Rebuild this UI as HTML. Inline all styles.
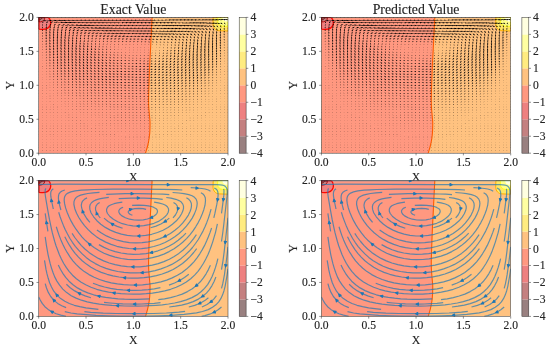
<!DOCTYPE html><html><head><meta charset="utf-8"><title>Exact vs Predicted</title><style>html,body{margin:0;padding:0;background:#fff}svg{display:block}text{font-family:"Liberation Serif", serif;fill:#222;stroke:#222;stroke-width:.12px}</style></head><body><svg width="550" height="349" viewBox="0 0 550 349"><rect width="550" height="349" fill="#fff"/><defs><clipPath id="cp"><rect x="38.7" y="17.4" width="189.3" height="135.8"/></clipPath><g id="cf"><rect x="38.7" y="17.4" width="189.3" height="135.8" fill="#ffc280"/><path fill="#ff9880" d="M152.1 17.4C152 20 151.6 27.6 151.3 33C151 38.4 150.8 44.2 150.5 50C150.2 55.8 149.8 62.3 149.6 68C149.3 73.7 149.2 79.2 149 84C148.8 88.8 148.7 93.3 148.6 97C148.5 100.7 148.6 103 148.7 106C148.8 109 149.2 112.3 149.4 115C149.6 117.7 149.9 119.5 150 122C150.1 124.5 150 127.3 149.9 130C149.8 132.7 149.6 135.3 149.2 138C148.8 140.7 148.2 143.5 147.6 146C147 148.5 145.8 152 145.5 153.2L38.7 153.2L38.7 17.4z"/><path fill="none" stroke="#ff5a00" stroke-width="1.1" d="M152.1 17.4C152 20 151.6 27.6 151.3 33C151 38.4 150.8 44.2 150.5 50C150.2 55.8 149.8 62.3 149.6 68C149.3 73.7 149.2 79.2 149 84C148.8 88.8 148.7 93.3 148.6 97C148.5 100.7 148.6 103 148.7 106C148.8 109 149.2 112.3 149.4 115C149.6 117.7 149.9 119.5 150 122C150.1 124.5 150 127.3 149.9 130C149.8 132.7 149.6 135.3 149.2 138C148.8 140.7 148.2 143.5 147.6 146C147 148.5 145.8 152 145.5 153.2"/><path d="M38.7 17.4L48.4 17.4C50.4 19 51 22 50.4 24.5C49.5 27.6 46 29.5 42 29.4L38.7 29.1z" fill="#ee8080" stroke="#ff0700" stroke-width="1.3"/><path d="M38.7 17.4L44.6 17.4C45 19.2 44 20.6 42.6 21.3C41.4 21.9 40 22 38.7 21.9z" fill="#c48080" stroke="#b20000" stroke-width=".9"/><path d="M38.7 17.4L42 17.4C42 18.4 41.3 19.2 40.4 19.5C39.8 19.7 39.2 19.7 38.7 19.6z" fill="#998080" stroke="#5e0000" stroke-width=".7"/><path d="M38.7 29V17.4H48.2" fill="none" stroke="#e00000" stroke-width="1.3"/><path d="M38.7 22V17.4H45" fill="none" stroke="#900000" stroke-width="1.6"/><path d="M228 17.4L213.2 17.4L213 24C213.2 28 215.6 30.5 219.2 30.7L228 31z" fill="#ffe766" stroke="#ffae00" stroke-width="1"/><path d="M228 17.4L217.8 17.4L217.6 21C217.8 24.2 219.8 26 222.6 26.2L228 26.4z" fill="#ffff8a" stroke="#ffff04" stroke-width=".8"/><path d="M228 17.4L222 17.4C222 19.8 223.4 21.6 225.6 21.9L228 22z" fill="#ffffe0" stroke="#ffff82" stroke-width=".9"/></g><path id="qv" fill="#000" d="M38.52 153.02h.37v.37h-.37zM42.3 153.02h.37v.37h-.37zM46.09 153.02h.37v.37h-.37zM49.88 153.02h.37v.37h-.37zM53.66 153.02h.37v.37h-.37zM57.45 153.02h.37v.37h-.37zM61.23 153.02h.37v.37h-.37zM65.02 153.02h.37v.37h-.37zM68.81 153.02h.37v.37h-.37zM72.59 153.02h.37v.37h-.37zM76.38 153.02h.37v.37h-.37zM80.16 153.02h.37v.37h-.37zM83.95 153.02h.37v.37h-.37zM87.74 153.02h.37v.37h-.37zM91.52 153.02h.37v.37h-.37zM95.31 153.02h.37v.37h-.37zM99.09 153.02h.37v.37h-.37zM102.88 153.02h.37v.37h-.37zM106.67 153.02h.37v.37h-.37zM110.45 153.02h.37v.37h-.37zM114.24 153.02h.37v.37h-.37zM118.02 153.02h.37v.37h-.37zM121.81 153.02h.37v.37h-.37zM125.6 153.02h.37v.37h-.37zM129.38 153.02h.37v.37h-.37zM133.17 153.02h.37v.37h-.37zM136.95 153.02h.37v.37h-.37zM140.74 153.02h.37v.37h-.37zM144.53 153.02h.37v.37h-.37zM148.31 153.02h.37v.37h-.37zM152.1 153.02h.37v.37h-.37zM155.88 153.02h.37v.37h-.37zM159.67 153.02h.37v.37h-.37zM163.46 153.02h.37v.37h-.37zM167.24 153.02h.37v.37h-.37zM171.03 153.02h.37v.37h-.37zM174.81 153.02h.37v.37h-.37zM178.6 153.02h.37v.37h-.37zM182.39 153.02h.37v.37h-.37zM186.17 153.02h.37v.37h-.37zM189.96 153.02h.37v.37h-.37zM193.74 153.02h.37v.37h-.37zM197.53 153.02h.37v.37h-.37zM201.32 153.02h.37v.37h-.37zM205.1 153.02h.37v.37h-.37zM208.89 153.02h.37v.37h-.37zM212.67 153.02h.37v.37h-.37zM216.46 153.02h.37v.37h-.37zM220.25 153.02h.37v.37h-.37zM224.03 153.02h.37v.37h-.37zM227.82 153.02h.37v.37h-.37zM38.52 150.3h.37v.37h-.37zM42.31 150.31h.35v.35h-.35zM46.09 150.3h.36v.36h-.36zM49.88 150.3h.36v.36h-.36zM53.66 150.3h.37v.37h-.37zM57.45 150.3h.36v.36h-.36zM61.24 150.3h.36v.36h-.36zM65.03 150.31h.35v.35h-.35zM68.81 150.31h.36v.36h-.36zM72.59 150.3h.36v.36h-.36zM76.38 150.3h.36v.36h-.36zM80.16 150.3h.36v.36h-.36zM83.95 150.3h.36v.36h-.36zM87.74 150.3h.36v.36h-.36zM91.52 150.3h.36v.36h-.36zM95.31 150.3h.36v.36h-.36zM99.09 150.3h.36v.36h-.36zM102.88 150.3h.37v.37h-.37zM106.67 150.3h.37v.37h-.37zM110.45 150.3h.37v.37h-.37zM114.24 150.3h.37v.37h-.37zM118.02 150.3h.37v.37h-.37zM121.81 150.3h.37v.37h-.37zM125.6 150.3h.37v.37h-.37zM129.38 150.3h.37v.37h-.37zM133.17 150.3h.37v.37h-.37zM136.95 150.3h.37v.37h-.37zM140.74 150.3h.37v.37h-.37zM144.53 150.3h.37v.37h-.37zM148.31 150.3h.37v.37h-.37zM152.1 150.3h.37v.37h-.37zM155.88 150.3h.37v.37h-.37zM159.67 150.3h.37v.37h-.37zM163.46 150.3h.37v.37h-.37zM167.24 150.3h.37v.37h-.37zM171.03 150.3h.36v.36h-.36zM174.81 150.3h.36v.36h-.36zM178.6 150.3h.36v.36h-.36zM182.39 150.3h.36v.36h-.36zM186.17 150.3h.36v.36h-.36zM189.96 150.3h.36v.36h-.36zM193.75 150.3h.36v.36h-.36zM197.53 150.31h.36v.36h-.36zM201.32 150.31h.35v.35h-.35zM205.1 150.3h.36v.36h-.36zM208.89 150.3h.36v.36h-.36zM212.67 150.3h.36v.36h-.36zM216.46 150.3h.36v.36h-.36zM220.25 150.3h.36v.36h-.36zM224.04 150.31h.35v.35h-.35zM227.82 150.3h.37v.37h-.37zM38.52 147.59h.37v.37h-.37zM42.3 147.59h.36v.36h-.36zM46.09 147.59h.35v.35h-.35zM49.88 147.59h.36v.36h-.36zM53.66 147.59h.36v.36h-.36zM57.45 147.59h.37v.37h-.37zM61.23 147.59h.36v.36h-.36zM65.02 147.59h.36v.36h-.36zM68.81 147.59h.36v.36h-.36zM72.6 147.59h.35v.35h-.35zM76.38 147.59h.36v.36h-.36zM80.17 147.59h.36v.36h-.36zM83.95 147.59h.36v.36h-.36zM87.74 147.59h.36v.36h-.36zM91.52 147.59h.36v.36h-.36zM95.31 147.59h.36v.36h-.36zM99.09 147.59h.36v.36h-.36zM102.88 147.59h.36v.36h-.36zM106.67 147.59h.36v.36h-.36zM110.45 147.59h.37v.37h-.37zM114.24 147.59h.37v.37h-.37zM118.02 147.59h.37v.37h-.37zM121.81 147.59h.37v.37h-.37zM125.6 147.59h.37v.37h-.37zM129.38 147.59h.37v.37h-.37zM133.17 147.59h.37v.37h-.37zM136.95 147.59h.37v.37h-.37zM140.74 147.59h.37v.37h-.37zM144.53 147.59h.37v.37h-.37zM148.31 147.59h.37v.37h-.37zM152.1 147.59h.37v.37h-.37zM155.88 147.59h.37v.37h-.37zM159.67 147.59h.36v.36h-.36zM163.46 147.59h.36v.36h-.36zM167.24 147.59h.36v.36h-.36zM171.03 147.59h.36v.36h-.36zM174.81 147.59h.36v.36h-.36zM178.6 147.59h.36v.36h-.36zM182.39 147.59h.36v.36h-.36zM186.17 147.59h.36v.36h-.36zM189.96 147.59h.36v.36h-.36zM193.75 147.59h.35v.35h-.35zM197.53 147.59h.36v.36h-.36zM201.32 147.59h.36v.36h-.36zM205.1 147.59h.36v.36h-.36zM208.89 147.59h.37v.37h-.37zM212.67 147.59h.36v.36h-.36zM216.46 147.59h.36v.36h-.36zM220.25 147.59h.35v.35h-.35zM224.03 147.59h.36v.36h-.36zM227.82 147.59h.37v.37h-.37zM38.52 144.87h.37v.37h-.37zM42.31 144.87h.36v.36h-.36zM46.09 144.87h.36v.36h-.36zM49.88 144.88h.35v.35h-.35zM53.66 144.87h.36v.36h-.36zM57.45 144.87h.36v.36h-.36zM61.23 144.87h.37v.37h-.37zM65.02 144.87h.36v.36h-.36zM68.81 144.87h.36v.36h-.36zM72.59 144.87h.36v.36h-.36zM76.38 144.87h.36v.36h-.36zM80.17 144.88h.35v.35h-.35zM83.95 144.87h.36v.36h-.36zM87.74 144.87h.36v.36h-.36zM91.52 144.87h.36v.36h-.36zM95.31 144.87h.36v.36h-.36zM99.09 144.87h.36v.36h-.36zM102.88 144.87h.36v.36h-.36zM106.67 144.87h.36v.36h-.36zM110.45 144.87h.36v.36h-.36zM114.24 144.87h.36v.36h-.36zM118.02 144.87h.37v.37h-.37zM121.81 144.87h.37v.37h-.37zM125.6 144.87h.37v.37h-.37zM129.38 144.87h.37v.37h-.37zM133.17 144.87h.37v.37h-.37zM136.95 144.87h.37v.37h-.37zM140.74 144.87h.37v.37h-.37zM144.53 144.87h.37v.37h-.37zM148.31 144.87h.37v.37h-.37zM152.1 144.87h.37v.37h-.37zM155.88 144.87h.36v.36h-.36zM159.67 144.87h.36v.36h-.36zM163.46 144.87h.36v.36h-.36zM167.24 144.87h.36v.36h-.36zM171.03 144.87h.36v.36h-.36zM174.82 144.87h.36v.36h-.36zM178.6 144.87h.36v.36h-.36zM182.39 144.87h.36v.36h-.36zM186.18 144.88h.35v.35h-.35zM189.96 144.87h.36v.36h-.36zM193.75 144.87h.36v.36h-.36zM197.53 144.87h.36v.36h-.36zM201.32 144.87h.36v.36h-.36zM205.1 144.87h.37v.37h-.37zM208.89 144.87h.36v.36h-.36zM212.68 144.87h.36v.36h-.36zM216.47 144.88h.35v.35h-.35zM220.25 144.87h.36v.36h-.36zM224.03 144.87h.36v.36h-.36zM227.82 144.87h.37v.37h-.37zM38.52 142.15h.37v.37h-.37zM42.3 142.15h.37v.37h-.37zM46.09 142.15h.37v.37h-.37zM49.88 142.16h.36v.36h-.36zM53.67 142.16h.35v.35h-.35zM57.45 142.16h.36v.36h-.36zM61.23 142.15h.36v.36h-.36zM65.02 142.15h.37v.37h-.37zM68.81 142.15h.37v.37h-.37zM72.59 142.15h.36v.36h-.36zM76.38 142.16h.36v.36h-.36zM80.17 142.16h.36v.36h-.36zM83.95 142.16h.36v.36h-.36zM87.74 142.16h.35v.35h-.35zM91.53 142.16h.36v.36h-.36zM95.31 142.16h.36v.36h-.36zM99.1 142.16h.36v.36h-.36zM102.88 142.16h.36v.36h-.36zM106.67 142.15h.36v.36h-.36zM110.45 142.15h.36v.36h-.36zM114.24 142.15h.36v.36h-.36zM118.02 142.15h.36v.36h-.36zM121.81 142.15h.37v.37h-.37zM125.6 142.15h.37v.37h-.37zM129.38 142.15h.37v.37h-.37zM133.17 142.15h.37v.37h-.37zM136.95 142.15h.37v.37h-.37zM140.74 142.15h.37v.37h-.37zM144.53 142.15h.37v.37h-.37zM148.31 142.15h.36v.36h-.36zM152.1 142.15h.36v.36h-.36zM155.88 142.15h.36v.36h-.36zM159.67 142.15h.36v.36h-.36zM163.46 142.16h.36v.36h-.36zM167.24 142.16h.36v.36h-.36zM171.03 142.16h.36v.36h-.36zM174.82 142.16h.36v.36h-.36zM178.6 142.16h.35v.35h-.35zM182.39 142.16h.36v.36h-.36zM186.17 142.16h.36v.36h-.36zM189.96 142.16h.36v.36h-.36zM193.74 142.15h.36v.36h-.36zM197.53 142.15h.37v.37h-.37zM201.32 142.15h.37v.37h-.37zM205.1 142.15h.36v.36h-.36zM208.89 142.16h.36v.36h-.36zM212.68 142.16h.35v.35h-.35zM216.46 142.16h.36v.36h-.36zM220.25 142.15h.37v.37h-.37zM224.03 142.15h.36v.36h-.36zM227.82 142.15h.37v.37h-.37zM38.52 139.44h.37v.37h-.37zM42.3 139.44h.36v.36h-.36zM46.09 139.44h.37v.37h-.37zM49.88 139.44h.36v.36h-.36zM53.66 139.44h.36v.36h-.36zM57.45 139.44h.35v.35h-.35zM61.24 139.44h.36v.36h-.36zM65.02 139.44h.36v.36h-.36zM68.81 139.44h.37v.37h-.37zM72.59 139.44h.37v.37h-.37zM76.38 139.44h.36v.36h-.36zM80.16 139.44h.36v.36h-.36zM83.95 139.44h.36v.36h-.36zM87.74 139.44h.36v.36h-.36zM91.53 139.44h.35v.35h-.35zM95.31 139.44h.36v.36h-.36zM99.1 139.44h.36v.36h-.36zM102.88 139.44h.36v.36h-.36zM106.67 139.44h.36v.36h-.36zM110.45 139.44h.36v.36h-.36zM114.24 139.44h.36v.36h-.36zM117.93 139.43h.38v.38h-.38zM121.71 139.43h.38v.38h-.38zM125.49 139.43h.39v.39h-.39zM129.27 139.43h.39v.39h-.39zM133.06 139.43h.39v.39h-.39zM136.84 139.43h.39v.39h-.39zM140.63 139.44h.39v.39h-.39zM144.42 139.44h.39v.39h-.39zM148.21 139.45h.38v.38h-.38zM152.1 139.44h.36v.36h-.36zM155.88 139.44h.36v.36h-.36zM159.67 139.44h.36v.36h-.36zM163.46 139.44h.36v.36h-.36zM167.24 139.44h.36v.36h-.36zM171.03 139.44h.36v.36h-.36zM174.82 139.44h.35v.35h-.35zM178.6 139.44h.36v.36h-.36zM182.39 139.44h.36v.36h-.36zM186.17 139.44h.36v.36h-.36zM189.96 139.44h.36v.36h-.36zM193.74 139.44h.37v.37h-.37zM197.53 139.44h.37v.37h-.37zM201.32 139.44h.36v.36h-.36zM205.1 139.44h.36v.36h-.36zM208.89 139.44h.35v.35h-.35zM212.68 139.44h.36v.36h-.36zM216.46 139.44h.36v.36h-.36zM220.25 139.44h.37v.37h-.37zM224.03 139.44h.36v.36h-.36zM227.82 139.44h.37v.37h-.37zM38.52 136.72h.37v.37h-.37zM42.31 136.72h.36v.36h-.36zM46.09 136.72h.36v.36h-.36zM49.88 136.72h.37v.37h-.37zM53.66 136.72h.36v.36h-.36zM57.45 136.72h.36v.36h-.36zM61.24 136.73h.35v.35h-.35zM65.02 136.72h.36v.36h-.36zM68.81 136.72h.36v.36h-.36zM72.59 136.72h.37v.37h-.37zM76.38 136.72h.37v.37h-.37zM80.16 136.72h.36v.36h-.36zM83.95 136.72h.36v.36h-.36zM87.74 136.72h.36v.36h-.36zM91.53 136.73h.36v.36h-.36zM95.31 136.73h.35v.35h-.35zM99.1 136.73h.36v.36h-.36zM102.88 136.73h.36v.36h-.36zM106.56 136.7h.4v.4h-.4zM110.33 136.69h.41v.41h-.41zM114.1 136.69h.43v.43h-.43zM117.88 136.68h.44v.44h-.44zM121.66 136.68h.44v.44h-.44zM125.44 136.68h.45v.45h-.45zM129.23 136.68h.45v.45h-.45zM133.01 136.69h.45v.45h-.45zM136.8 136.69h.45v.45h-.45zM140.59 136.69h.45v.45h-.45zM144.38 136.7h.45v.45h-.45zM148.17 136.7h.44v.44h-.44zM151.96 136.71h.43v.43h-.43zM155.76 136.72h.42v.42h-.42zM159.56 136.73h.4v.4h-.4zM163.36 136.74h.38v.38h-.38zM167.25 136.73h.36v.36h-.36zM171.03 136.73h.35v.35h-.35zM174.82 136.73h.36v.36h-.36zM178.6 136.72h.36v.36h-.36zM182.39 136.72h.36v.36h-.36zM186.17 136.72h.36v.36h-.36zM189.96 136.72h.37v.37h-.37zM193.74 136.72h.37v.37h-.37zM197.53 136.72h.36v.36h-.36zM201.32 136.72h.36v.36h-.36zM205.11 136.73h.35v.35h-.35zM208.89 136.72h.36v.36h-.36zM212.67 136.72h.36v.36h-.36zM216.46 136.72h.37v.37h-.37zM220.25 136.72h.36v.36h-.36zM224.03 136.72h.36v.36h-.36zM227.82 136.72h.37v.37h-.37zM38.52 134.01h.37v.37h-.37zM42.31 134.01h.35v.35h-.35zM46.09 134.01h.36v.36h-.36zM49.88 134.01h.37v.37h-.37zM53.66 134.01h.37v.37h-.37zM57.45 134.01h.36v.36h-.36zM61.24 134.01h.36v.36h-.36zM65.02 134.01h.36v.36h-.36zM68.81 134.01h.36v.36h-.36zM72.59 134.01h.36v.36h-.36zM76.38 134.01h.37v.37h-.37zM80.16 134.01h.37v.37h-.37zM83.95 134.01h.36v.36h-.36zM87.74 134.01h.36v.36h-.36zM91.52 134.01h.36v.36h-.36zM95.31 134.01h.36v.36h-.36zM98.98 133.97h.41v.41h-.41zM102.75 133.96h.43v.43h-.43zM106.52 133.95h.45v.45h-.45zM110.29 133.94h.47v.47h-.47zM114.06 133.94h.48v.48h-.48zM118.2 134.25l-.06-.01l.05 .13l-.58-.25l.62-.11l-.08 .11l.06 .01zM121.99 134.25l-.06-.01l.05 .13l-.6-.23l.63-.13l-.07 .11l.06 .01zM125.77 134.25l-.06 0l.06 .12l-.61-.22l.63-.15l-.07 .12l.06 .01zM129.56 134.25l-.06 0l.06 .13l-.62-.21l.63-.17l-.07 .12l.07 .01zM133.35 134.25l-.06 0l.06 .13l-.63-.19l.63-.19l-.06 .12l.06 .01zM137.14 134.25l-.07 0l.07 .13l-.63-.18l.62-.2l-.06 .13l.06 0zM140.93 134.25l-.07 0l.07 .12l-.63-.15l.61-.22l-.05 .13l.06 0zM144.71 134.25l-.06 0l.07 .12l-.62-.13l.59-.24l-.05 .13l.06 0zM148.5 134.25l-.06 0l.07 .12l-.61-.12l.57-.24l-.04 .12l.06 0zM152.29 134.25l-.06 0l.07 .11l-.6-.09l.56-.26l-.05 .13l.06-.01zM155.72 133.98h.47v.47h-.47zM159.52 133.99h.46v.46h-.46zM163.32 134h.44v.44h-.44zM167.13 134.02h.41v.41h-.41zM170.93 134.03h.39v.39h-.39zM174.82 134.01h.36v.36h-.36zM178.6 134.01h.36v.36h-.36zM182.39 134.01h.36v.36h-.36zM186.17 134.01h.37v.37h-.37zM189.96 134.01h.37v.37h-.37zM193.74 134.01h.36v.36h-.36zM197.53 134.01h.36v.36h-.36zM201.32 134.01h.36v.36h-.36zM205.1 134.01h.36v.36h-.36zM208.89 134.01h.36v.36h-.36zM212.67 134.01h.37v.37h-.37zM216.46 134.01h.37v.37h-.37zM220.25 134.01h.36v.36h-.36zM224.04 134.01h.35v.35h-.35zM227.82 134.01h.37v.37h-.37zM38.52 131.29h.37v.37h-.37zM42.31 131.29h.36v.36h-.36zM46.09 131.29h.36v.36h-.36zM49.88 131.29h.36v.36h-.36zM53.66 131.29h.37v.37h-.37zM57.45 131.29h.36v.36h-.36zM61.24 131.29h.36v.36h-.36zM65.02 131.29h.36v.36h-.36zM68.81 131.29h.36v.36h-.36zM72.59 131.29h.36v.36h-.36zM76.38 131.29h.36v.36h-.36zM80.16 131.29h.37v.37h-.37zM83.95 131.29h.37v.37h-.37zM87.74 131.29h.36v.36h-.36zM91.41 131.24h.4v.4h-.4zM95.18 131.23h.43v.43h-.43zM98.94 131.22h.46v.46h-.46zM102.71 131.21h.48v.48h-.48zM106.83 131.53l-.05-.01l.03 .13l-.55-.32l.63-.03l-.09 .1l.06 .01zM110.62 131.53l-.06-.01l.04 .14l-.58-.31l.65-.06l-.08 .11l.06 .01zM114.41 131.54l-.06-.01l.04 .13l-.61-.29l.67-.09l-.08 .12l.06 .01zM118.2 131.54l-.07-.01l.05 .14l-.63-.28l.68-.11l-.08 .12l.06 .01zM121.99 131.54l-.07-.01l.05 .14l-.65-.26l.69-.14l-.08 .13l.07 0zM125.77 131.54l-.07 0l.06 .14l-.67-.25l.7-.16l-.08 .13l.07 0zM129.56 131.54l-.07 0l.07 .14l-.69-.23l.7-.19l-.07 .14l.07 0zM133.35 131.54l-.07 0l.07 .14l-.7-.21l.7-.21l-.07 .14l.07 0zM137.14 131.54l-.07 0l.07 .14l-.7-.19l.69-.23l-.07 .14l.07 0zM140.93 131.54l-.07 0l.07 .14l-.7-.17l.68-.24l-.06 .14l.07-.01zM144.71 131.54l-.06 .01l.08 .13l-.7-.15l.66-.26l-.06 .14l.07-.01zM148.5 131.54l-.06 .01l.08 .12l-.69-.12l.64-.28l-.05 .14l.07 0zM152.29 131.54l-.06 .01l.08 .11l-.67-.09l.61-.29l-.04 .14l.06-.01zM156.08 131.53l-.06 .02l.08 .11l-.65-.07l.58-.3l-.04 .13l.06-.01zM159.87 131.53l-.06 .01l.08 .11l-.63-.04l.55-.32l-.03 .14l.06-.02zM163.65 131.53l-.05 .01l.08 .1l-.6-.01l.51-.33l-.02 .13l.05-.01zM167.09 131.28h.46v.46h-.46zM170.9 131.3h.44v.44h-.44zM174.71 131.31h.41v.41h-.41zM178.6 131.29h.36v.36h-.36zM182.39 131.29h.37v.37h-.37zM186.17 131.29h.37v.37h-.37zM189.96 131.29h.36v.36h-.36zM193.75 131.29h.36v.36h-.36zM197.53 131.29h.36v.36h-.36zM201.32 131.29h.36v.36h-.36zM205.1 131.29h.36v.36h-.36zM208.89 131.29h.36v.36h-.36zM212.67 131.29h.37v.37h-.37zM216.46 131.29h.36v.36h-.36zM220.25 131.29h.36v.36h-.36zM224.04 131.29h.36v.36h-.36zM227.82 131.29h.37v.37h-.37zM38.52 128.57h.37v.37h-.37zM42.31 128.58h.36v.36h-.36zM46.1 128.58h.35v.35h-.35zM49.88 128.58h.36v.36h-.36zM53.66 128.57h.36v.36h-.36zM57.45 128.57h.37v.37h-.37zM61.23 128.57h.36v.36h-.36zM65.02 128.58h.36v.36h-.36zM68.81 128.58h.35v.35h-.35zM72.59 128.58h.36v.36h-.36zM76.38 128.57h.36v.36h-.36zM80.16 128.57h.36v.36h-.36zM83.86 128.53h.38v.38h-.38zM87.62 128.51h.41v.41h-.41zM91.38 128.5h.45v.45h-.45zM95.14 128.48h.48v.48h-.48zM99.26 128.81l-.06-.02l.01 .14l-.5-.38l.63 .04l-.1 .09l.06 .02zM103.04 128.82l-.06-.02l.03 .14l-.55-.37l.66 0l-.1 .11l.06 .02zM106.83 128.82l-.06-.02l.03 .15l-.59-.36l.69-.03l-.1 .12l.06 .01zM110.62 128.82l-.07-.01l.04 .15l-.63-.35l.72-.05l-.1 .11l.07 .02zM114.41 128.83l-.07-.02l.04 .15l-.66-.33l.74-.08l-.1 .12l.07 .02zM118.2 128.83l-.08-.01l.05 .15l-.68-.32l.75-.11l-.1 .13l.08 .01zM121.98 128.83l-.07-.01l.06 .16l-.71-.31l.76-.13l-.09 .13l.07 .01zM125.77 128.83l-.07 0l.06 .15l-.73-.28l.76-.17l-.08 .15l.07 0zM129.56 128.83l-.07 0l.06 .15l-.74-.25l.76-.2l-.08 .15l.08 0zM133.35 128.83l-.08 0l.08 .15l-.76-.23l.76-.22l-.08 .15l.08 0zM137.14 128.83l-.08 0l.08 .15l-.76-.2l.75-.25l-.07 .15l.07 0zM140.93 128.83l-.08 .01l.09 .14l-.77-.18l.74-.27l-.07 .16l.08-.01zM144.72 128.83l-.08 .01l.09 .14l-.76-.15l.72-.3l-.06 .16l.07-.01zM148.5 128.83l-.07 .01l.09 .13l-.75-.11l.69-.32l-.05 .15l.07-.01zM152.29 128.83l-.07 .01l.1 .13l-.74-.09l.66-.34l-.04 .16l.07-.01zM156.08 128.82l-.07 .02l.1 .12l-.72-.06l.63-.35l-.04 .15l.07-.01zM159.87 128.82l-.07 .02l.1 .11l-.7-.03l.6-.36l-.03 .15l.07-.02zM163.66 128.82l-.06 .02l.09 .1l-.67 0l.56-.37l-.02 .14l.06-.02zM167.44 128.81l-.05 .02l.1 .1l-.64 .03l.51-.38l-.01 .14l.05-.02zM171.23 128.81l-.05 .02l.1 .09l-.61 .06l.47-.39l-.01 .13l.06-.02zM174.67 128.58h.45v.45h-.45zM178.49 128.6h.42v.42h-.42zM182.3 128.62h.38v.38h-.38zM186.17 128.57h.36v.36h-.36zM189.96 128.58h.36v.36h-.36zM193.75 128.58h.36v.36h-.36zM197.53 128.58h.35v.35h-.35zM201.32 128.58h.36v.36h-.36zM205.1 128.57h.36v.36h-.36zM208.89 128.57h.37v.37h-.37zM212.67 128.57h.36v.36h-.36zM216.46 128.58h.36v.36h-.36zM220.25 128.58h.35v.35h-.35zM224.03 128.58h.36v.36h-.36zM227.82 128.57h.37v.37h-.37zM38.52 125.86h.37v.37h-.37zM42.31 125.86h.36v.36h-.36zM46.09 125.86h.36v.36h-.36zM49.88 125.86h.36v.36h-.36zM53.66 125.86h.36v.36h-.36zM57.45 125.86h.37v.37h-.37zM61.23 125.86h.37v.37h-.37zM65.02 125.86h.36v.36h-.36zM68.81 125.86h.36v.36h-.36zM72.6 125.86h.35v.35h-.35zM76.38 125.86h.36v.36h-.36zM80.08 125.8h.38v.38h-.38zM83.83 125.78h.42v.42h-.42zM87.59 125.76h.46v.46h-.46zM91.68 126.09l-.06-.02l0 .13l-.44-.43l.61 .11l-.11 .08l.05 .03zM95.46 126.1l-.05-.03l0 .14l-.49-.43l.65 .09l-.11 .09l.06 .02zM99.25 126.1l-.06-.02l.01 .15l-.54-.43l.69 .05l-.11 .1l.06 .03zM103.04 126.11l-.07-.03l.02 .16l-.59-.42l.73 .02l-.11 .11l.06 .02zM106.83 126.11l-.07-.02l.03 .16l-.64-.41l.76-.01l-.11 .12l.07 .02zM110.62 126.11l-.08-.02l.04 .17l-.67-.4l.78-.04l-.11 .13l.07 .02zM114.4 126.12l-.07-.02l.04 .17l-.71-.38l.81-.08l-.11 .14l.08 .01zM118.19 126.12l-.07-.01l.05 .16l-.74-.36l.81-.1l-.1 .14l.08 .01zM121.98 126.12l-.08-.01l.06 .17l-.77-.34l.83-.14l-.1 .15l.08 .01zM125.77 126.12l-.08-.01l.07 .17l-.79-.31l.83-.17l-.1 .15l.08 .01zM129.56 126.12l-.08 0l.07 .17l-.81-.29l.84-.21l-.09 .16l.08 .01zM133.35 126.12l-.08 0l.08 .17l-.83-.26l.83-.24l-.08 .17l.08 0zM137.14 126.12l-.08 0l.08 .17l-.83-.22l.82-.28l-.08 .17l.08 0zM140.93 126.12l-.08 .01l.09 .16l-.83-.19l.79-.31l-.07 .17l.09 0zM144.72 126.12l-.08 .01l.09 .15l-.83-.15l.78-.33l-.06 .17l.08-.01zM148.51 126.12l-.08 .01l.1 .15l-.82-.12l.75-.36l-.06 .17l.08-.01zM152.29 126.12l-.07 .01l.1 .14l-.81-.08l.73-.38l-.05 .17l.08-.02zM156.08 126.11l-.07 .02l.11 .13l-.79-.04l.68-.4l-.04 .16l.08-.01zM159.87 126.11l-.07 .02l.11 .12l-.76-.01l.64-.41l-.03 .16l.07-.02zM163.66 126.11l-.07 .02l.12 .11l-.74 .03l.6-.43l-.02 .16l.07-.03zM167.45 126.1l-.06 .03l.11 .1l-.71 .06l.56-.44l-.01 .15l.06-.02zM171.24 126.1l-.06 .02l.11 .1l-.67 .08l.51-.44l0 .15l.05-.03zM175.02 126.09l-.05 .03l.11 .08l-.62 .12l.45-.44l0 .13l.06-.02zM178.46 125.87h.46v.46h-.46zM182.27 125.89h.42v.42h-.42zM186.09 125.91h.38v.38h-.38zM189.96 125.86h.36v.36h-.36zM193.75 125.86h.35v.35h-.35zM197.53 125.86h.36v.36h-.36zM201.32 125.86h.36v.36h-.36zM205.1 125.86h.37v.37h-.37zM208.89 125.86h.37v.37h-.37zM212.67 125.86h.36v.36h-.36zM216.46 125.86h.36v.36h-.36zM220.25 125.86h.36v.36h-.36zM224.03 125.86h.36v.36h-.36zM227.82 125.86h.37v.37h-.37zM38.52 123.14h.37v.37h-.37zM42.31 123.14h.36v.36h-.36zM46.09 123.15h.36v.36h-.36zM49.88 123.15h.36v.36h-.36zM53.66 123.14h.36v.36h-.36zM57.45 123.14h.36v.36h-.36zM61.23 123.14h.37v.37h-.37zM65.02 123.14h.36v.36h-.36zM68.81 123.14h.36v.36h-.36zM72.6 123.15h.36v.36h-.36zM76.3 123.08h.37v.37h-.37zM80.05 123.06h.42v.42h-.42zM83.8 123.03h.46v.46h-.46zM87.88 123.38l-.05-.04l-.01 .14l-.42-.49l.62 .18l-.12 .07l.05 .03zM91.67 123.38l-.06-.03l0 .15l-.48-.5l.67 .15l-.12 .08l.06 .04zM95.46 123.39l-.06-.03l0 .15l-.53-.49l.71 .12l-.12 .09l.06 .03zM99.25 123.39l-.07-.03l.01 .16l-.58-.48l.75 .08l-.12 .11l.06 .03zM103.04 123.4l-.08-.03l.02 .17l-.63-.48l.79 .05l-.12 .12l.07 .02zM106.82 123.4l-.07-.02l.03 .17l-.68-.47l.82 .02l-.12 .13l.07 .02zM110.61 123.4l-.08-.02l.04 .18l-.72-.45l.85-.02l-.12 .13l.08 .03zM114.4 123.41l-.08-.02l.05 .18l-.76-.43l.86-.06l-.11 .14l.08 .02zM118.19 123.41l-.08-.02l.05 .19l-.79-.4l.88-.11l-.11 .16l.08 .01zM121.98 123.41l-.09-.01l.07 .18l-.83-.37l.9-.14l-.11 .16l.08 .01zM125.77 123.41l-.09-.01l.07 .19l-.85-.35l.9-.18l-.1 .17l.09 .01zM129.56 123.41l-.09 0l.08 .18l-.87-.31l.9-.22l-.1 .17l.09 .01zM133.35 123.41l-.09 0l.09 .18l-.89-.27l.89-.26l-.09 .17l.09 .01zM137.14 123.41l-.09 .01l.1 .17l-.9-.24l.88-.29l-.09 .18l.09 0zM140.93 123.41l-.09 .01l.1 .17l-.9-.2l.86-.33l-.07 .18l.09 0zM144.72 123.41l-.09 .01l.11 .16l-.9-.15l.84-.37l-.07 .19l.09-.01zM148.51 123.41l-.09 .01l.12 .16l-.9-.12l.81-.39l-.05 .18l.08-.01zM152.3 123.41l-.09 .01l.12 .15l-.88-.07l.78-.42l-.05 .18l.08-.02zM156.09 123.4l-.08 .02l.12 .14l-.86-.03l.73-.45l-.03 .18l.08-.02zM159.88 123.4l-.08 .02l.12 .13l-.83 .01l.69-.47l-.03 .18l.08-.02zM163.66 123.4l-.07 .02l.13 .12l-.81 .05l.65-.48l-.02 .17l.07-.03zM167.45 123.39l-.07 .03l.13 .11l-.77 .08l.6-.49l-.01 .16l.07-.02zM171.24 123.39l-.06 .03l.12 .09l-.73 .12l.55-.5l0 .16l.06-.03zM175.03 123.38l-.06 .04l.12 .08l-.68 .15l.49-.5l0 .15l.06-.03zM178.82 123.38l-.06 .03l.12 .07l-.63 .18l.43-.5l.01 .14l.06-.03zM182.24 123.17h.47v.47h-.47zM186.06 123.19h.42v.42h-.42zM189.88 123.21h.38v.38h-.38zM193.7 123.22h.34v.34h-.34zM197.53 123.14h.36v.36h-.36zM201.32 123.14h.36v.36h-.36zM205.1 123.14h.37v.37h-.37zM208.89 123.14h.36v.36h-.36zM212.68 123.14h.36v.36h-.36zM216.46 123.15h.36v.36h-.36zM220.25 123.15h.36v.36h-.36zM224.03 123.14h.36v.36h-.36zM227.82 123.14h.37v.37h-.37zM38.52 120.43h.37v.37h-.37zM42.3 120.43h.36v.36h-.36zM46.09 120.43h.36v.36h-.36zM49.88 120.43h.35v.35h-.35zM53.66 120.43h.36v.36h-.36zM57.45 120.43h.36v.36h-.36zM61.23 120.43h.37v.37h-.37zM65.02 120.43h.37v.37h-.37zM68.75 120.36h.36v.36h-.36zM72.51 120.34h.39v.39h-.39zM76.27 120.33h.41v.41h-.41zM80.02 120.31h.46v.46h-.46zM84.09 120.66l-.05-.04l-.03 .14l-.38-.55l.62 .25l-.13 .06l.05 .04zM87.88 120.66l-.06-.03l-.02 .15l-.44-.56l.67 .22l-.13 .07l.06 .04zM91.67 120.67l-.06-.04l-.02 .16l-.5-.56l.73 .19l-.14 .09l.06 .04zM95.45 120.67l-.06-.03l-.01 .17l-.56-.56l.78 .16l-.14 .1l.07 .03zM99.24 120.68l-.07-.03l.01 .17l-.62-.54l.82 .11l-.14 .11l.07 .04zM103.03 120.68l-.08-.03l.02 .19l-.67-.54l.85 .08l-.13 .12l.07 .03zM106.82 120.69l-.08-.03l.02 .19l-.72-.52l.89 .04l-.13 .13l.08 .03zM110.61 120.69l-.08-.02l.03 .19l-.77-.5l.92 0l-.14 .14l.09 .02zM114.4 120.7l-.09-.03l.05 .2l-.81-.47l.93-.05l-.13 .15l.09 .02zM118.19 120.7l-.09-.02l.05 .2l-.85-.44l.96-.1l-.13 .16l.09 .02zM121.98 120.7l-.09-.01l.06 .2l-.88-.41l.96-.15l-.12 .17l.1 .02zM125.77 120.7l-.1-.01l.08 .2l-.91-.37l.97-.19l-.12 .17l.1 .01zM129.56 120.7l-.1 0l.09 .19l-.94-.33l.97-.24l-.11 .19l.1 0zM133.35 120.7l-.1 0l.1 .19l-.96-.29l.96-.28l-.09 .19l.09 0zM137.14 120.7l-.1 .01l.11 .18l-.97-.25l.95-.32l-.09 .2l.09-.01zM140.93 120.7l-.09 .01l.11 .18l-.97-.2l.92-.37l-.08 .2l.09-.01zM144.72 120.7l-.09 .01l.11 .18l-.97-.16l.9-.4l-.07 .2l.1-.02zM148.51 120.7l-.09 .02l.12 .16l-.96-.11l.87-.44l-.06 .2l.09-.01zM152.3 120.7l-.09 .02l.13 .15l-.95-.06l.83-.47l-.05 .2l.09-.02zM156.09 120.69l-.09 .03l.14 .15l-.93-.02l.78-.5l-.03 .2l.08-.03zM159.88 120.69l-.08 .03l.13 .13l-.9 .03l.74-.52l-.03 .19l.08-.02zM163.67 120.69l-.08 .03l.14 .12l-.87 .07l.69-.54l-.02 .19l.08-.03zM167.46 120.68l-.08 .04l.14 .11l-.83 .11l.63-.55l0 .18l.07-.04zM171.25 120.68l-.07 .03l.14 .1l-.8 .16l.58-.57l.01 .18l.06-.04zM175.03 120.67l-.06 .04l.14 .09l-.75 .19l.52-.57l.01 .16l.07-.04zM178.82 120.67l-.06 .04l.14 .07l-.7 .22l.46-.57l.02 .16l.06-.04zM182.61 120.66l-.05 .04l.13 .06l-.64 .25l.4-.56l.03 .15l.05-.04zM186.04 120.46h.47v.47h-.47zM189.86 120.48h.42v.42h-.42zM193.67 120.49h.4v.4h-.4zM197.48 120.5h.37v.37h-.37zM201.32 120.43h.37v.37h-.37zM205.1 120.43h.37v.37h-.37zM208.89 120.43h.36v.36h-.36zM212.68 120.43h.36v.36h-.36zM216.46 120.43h.35v.35h-.35zM220.25 120.43h.36v.36h-.36zM224.03 120.43h.36v.36h-.36zM227.82 120.43h.37v.37h-.37zM38.52 117.71h.37v.37h-.37zM42.3 117.71h.36v.36h-.36zM46.09 117.71h.36v.36h-.36zM49.88 117.72h.35v.35h-.35zM53.66 117.71h.36v.36h-.36zM57.45 117.71h.36v.36h-.36zM61.23 117.71h.37v.37h-.37zM64.96 117.63h.38v.38h-.38zM68.72 117.61h.41v.41h-.41zM72.47 117.59h.44v.44h-.44zM76.24 117.58h.47v.47h-.47zM80.3 117.94l-.05-.05l-.04 .15l-.34-.6l.61 .31l-.14 .05l.05 .04zM84.09 117.95l-.06-.05l-.03 .15l-.41-.61l.68 .29l-.15 .06l.06 .05zM87.87 117.95l-.06-.04l-.03 .16l-.46-.62l.73 .26l-.15 .08l.06 .04zM91.66 117.96l-.06-.04l-.02 .17l-.54-.63l.79 .23l-.15 .09l.07 .05zM95.45 117.96l-.07-.04l-.01 .19l-.6-.63l.84 .2l-.15 .1l.07 .04zM99.24 117.97l-.08-.04l0 .19l-.65-.61l.88 .15l-.15 .12l.07 .04zM103.03 117.97l-.08-.03l.01 .2l-.72-.6l.93 .11l-.15 .13l.08 .03zM106.82 117.98l-.09-.03l.02 .2l-.76-.58l.95 .06l-.15 .14l.09 .04zM110.61 117.98l-.09-.03l.03 .21l-.82-.55l.99 .01l-.15 .15l.09 .03zM114.4 117.99l-.1-.03l.05 .21l-.87-.52l1.01-.04l-.14 .16l.09 .03zM118.19 117.99l-.1-.02l.06 .21l-.91-.49l1.03-.09l-.14 .18l.1 .02zM121.98 117.99l-.1-.01l.07 .21l-.95-.45l1.04-.14l-.13 .18l.1 .01zM125.77 117.99l-.1-.01l.08 .21l-.98-.4l1.04-.2l-.12 .19l.1 .01zM129.56 117.99l-.1 0l.09 .21l-1-.37l1.03-.24l-.11 .19l.1 .01zM133.35 117.99l-.1 0l.1 .21l-1.02-.32l1.02-.29l-.1 .2l.1 0zM137.14 117.99l-.1 .01l.11 .2l-1.04-.27l1.01-.34l-.09 .2l.1 0zM140.93 117.99l-.1 .01l.12 .2l-1.04-.22l.99-.39l-.09 .21l.1-.01zM144.72 117.99l-.1 .02l.13 .18l-1.04-.16l.96-.44l-.08 .22l.1-.02zM148.51 117.99l-.1 .02l.14 .18l-1.04-.11l.93-.48l-.06 .21l.1-.02zM152.3 117.99l-.09 .02l.14 .17l-1.02-.06l.88-.51l-.05 .21l.1-.02zM156.09 117.98l-.09 .03l.15 .16l-1.01-.01l.84-.54l-.03 .21l.09-.03zM159.88 117.98l-.09 .03l.16 .15l-.98 .05l.79-.58l-.03 .2l.09-.03zM163.67 117.98l-.08 .03l.15 .13l-.94 .1l.73-.6l-.01 .2l.08-.03zM167.46 117.97l-.08 .04l.16 .12l-.91 .15l.68-.63l0 .2l.08-.04zM171.25 117.97l-.07 .04l.15 .1l-.86 .2l.62-.64l0 .19l.08-.04zM175.04 117.96l-.07 .04l.16 .1l-.82 .23l.55-.64l.02 .18l.07-.05zM178.83 117.95l-.06 .05l.15 .08l-.76 .27l.49-.64l.02 .17l.07-.05zM182.61 117.95l-.05 .04l.15 .07l-.7 .3l.42-.64l.04 .16l.05-.04zM186.4 117.94l-.05 .05l.14 .05l-.63 .32l.35-.62l.05 .15l.05-.05zM189.82 117.75h.48v.48h-.48zM193.63 117.76h.45v.45h-.45zM197.45 117.77h.42v.42h-.42zM201.26 117.78h.38v.38h-.38zM205.1 117.71h.37v.37h-.37zM208.89 117.71h.36v.36h-.36zM212.68 117.71h.36v.36h-.36zM216.47 117.72h.35v.35h-.35zM220.25 117.71h.36v.36h-.36zM224.03 117.71h.36v.36h-.36zM227.82 117.71h.37v.37h-.37zM38.52 114.99h.37v.37h-.37zM42.3 114.99h.36v.36h-.36zM46.09 115h.36v.36h-.36zM49.88 115h.36v.36h-.36zM53.67 115h.36v.36h-.36zM57.45 115h.36v.36h-.36zM61.18 114.91h.38v.38h-.38zM64.93 114.88h.43v.43h-.43zM68.68 114.85h.47v.47h-.47zM72.72 115.21l-.03-.05l-.07 .13l-.23-.62l.54 .39l-.14 .03l.03 .05zM76.51 115.22l-.05-.05l-.05 .14l-.3-.65l.6 .38l-.14 .04l.04 .05zM80.29 115.23l-.05-.05l-.05 .15l-.36-.67l.67 .36l-.15 .05l.05 .05zM84.08 115.23l-.06-.05l-.04 .17l-.43-.69l.74 .34l-.16 .07l.05 .05zM87.87 115.24l-.07-.05l-.03 .18l-.5-.7l.8 .31l-.17 .08l.07 .05zM91.66 115.25l-.08-.05l-.02 .19l-.56-.7l.85 .27l-.17 .1l.07 .05zM95.44 115.25l-.07-.04l-.02 .2l-.63-.7l.91 .24l-.17 .1l.08 .05zM99.23 115.26l-.08-.05l0 .21l-.7-.68l.96 .19l-.17 .12l.08 .04zM103.02 115.26l-.09-.04l.01 .22l-.75-.66l.99 .13l-.17 .14l.09 .04zM106.81 115.27l-.09-.04l.02 .22l-.81-.63l1.03 .08l-.17 .15l.09 .03zM110.6 115.27l-.09-.03l.03 .22l-.87-.6l1.06 .03l-.16 .16l.1 .03zM114.39 115.28l-.1-.03l.05 .23l-.92-.58l1.08-.02l-.15 .17l.1 .03zM118.18 115.28l-.1-.02l.06 .22l-.96-.53l1.09-.08l-.14 .18l.1 .02zM121.97 115.28l-.1-.02l.07 .23l-1-.49l1.1-.14l-.14 .19l.11 .02zM125.77 115.28l-.11-.01l.08 .23l-1.04-.45l1.11-.2l-.13 .21l.11 .01zM129.56 115.28l-.11 0l.09 .22l-1.06-.39l1.1-.26l-.12 .21l.11 .01zM133.35 115.29l-.11-.01l.11 .22l-1.09-.34l1.09-.31l-.11 .22l.11 0zM137.14 115.29l-.11 0l.12 .21l-1.1-.28l1.07-.37l-.1 .22l.11 0zM140.93 115.28l-.11 .01l.13 .21l-1.11-.23l1.05-.42l-.09 .23l.11-.01zM144.72 115.28l-.1 .02l.13 .2l-1.11-.17l1.02-.47l-.07 .22l.1-.01zM148.51 115.28l-.1 .02l.15 .19l-1.11-.11l.98-.52l-.06 .23l.1-.02zM152.31 115.28l-.11 .02l.16 .18l-1.1-.05l.94-.56l-.05 .23l.1-.03zM156.1 115.27l-.1 .04l.16 .16l-1.08 .01l.89-.6l-.03 .23l.1-.03zM159.89 115.27l-.1 .04l.17 .15l-1.06 .07l.85-.64l-.03 .23l.1-.04zM163.68 115.27l-.09 .04l.17 .14l-1.02 .12l.78-.66l-.01 .22l.09-.04zM167.47 115.26l-.09 .04l.18 .13l-.99 .18l.72-.69l.01 .21l.08-.04zM171.26 115.26l-.08 .04l.17 .11l-.94 .24l.66-.71l.01 .2l.08-.04zM175.05 115.25l-.08 .05l.18 .1l-.89 .27l.59-.71l.02 .19l.08-.05zM178.83 115.24l-.06 .05l.17 .09l-.83 .31l.52-.72l.03 .19l.07-.05zM182.62 115.24l-.06 .05l.17 .07l-.77 .35l.45-.72l.04 .18l.06-.05zM186.41 115.23l-.06 .05l.16 .06l-.69 .37l.37-.69l.06 .16l.05-.06zM190.19 115.22l-.04 .06l.15 .04l-.63 .39l.31-.67l.06 .14l.05-.05zM193.98 115.22l-.04 .05l.14 .03l-.55 .4l.24-.64l.06 .13l.04-.05zM197.41 115.04h.48v.48h-.48zM201.23 115.05h.44v.44h-.44zM205.06 115.07h.39v.39h-.39zM208.89 115h.36v.36h-.36zM212.68 115h.36v.36h-.36zM216.46 115h.36v.36h-.36zM220.25 115h.36v.36h-.36zM224.03 114.99h.36v.36h-.36zM227.82 114.99h.37v.37h-.37zM38.52 112.28h.37v.37h-.37zM42.3 112.28h.36v.36h-.36zM46.09 112.28h.36v.36h-.36zM49.88 112.28h.36v.36h-.36zM53.67 112.28h.36v.36h-.36zM57.45 112.28h.36v.36h-.36zM61.15 112.15h.43v.43h-.43zM64.9 112.12h.48v.48h-.48zM68.93 112.49l-.03-.05l-.08 .12l-.17-.65l.5 .45l-.14 .01l.03 .06zM72.72 112.5l-.04-.06l-.08 .14l-.24-.69l.59 .45l-.16 .02l.04 .06zM76.5 112.51l-.05-.06l-.07 .15l-.3-.72l.66 .44l-.17 .03l.05 .06zM80.29 112.52l-.06-.06l-.06 .17l-.38-.76l.73 .42l-.17 .06l.05 .05zM84.07 112.52l-.06-.06l-.05 .19l-.45-.77l.8 .39l-.18 .07l.06 .06zM87.86 112.53l-.07-.06l-.04 .2l-.52-.78l.86 .36l-.18 .08l.07 .06zM91.65 112.54l-.08-.06l-.03 .21l-.59-.78l.92 .32l-.19 .1l.08 .05zM95.44 112.54l-.08-.05l-.03 .22l-.66-.77l.98 .27l-.19 .12l.08 .05zM99.23 112.55l-.09-.05l-.01 .22l-.73-.75l1.02 .23l-.18 .12l.08 .05zM103.02 112.55l-.1-.04l.01 .23l-.8-.73l1.07 .17l-.19 .14l.1 .05zM106.81 112.56l-.1-.04l.02 .23l-.86-.7l1.1 .12l-.18 .15l.1 .04zM110.6 112.56l-.1-.03l.03 .24l-.92-.67l1.13 .05l-.17 .17l.1 .04zM114.39 112.57l-.11-.03l.05 .24l-.97-.63l1.15-.01l-.17 .18l.11 .03zM118.18 112.57l-.11-.03l.06 .25l-1.02-.58l1.17-.08l-.16 .2l.11 .02zM121.97 112.57l-.11-.02l.07 .25l-1.06-.54l1.18-.14l-.15 .21l.11 .02zM125.76 112.57l-.11-.01l.09 .24l-1.11-.48l1.19-.2l-.14 .21l.11 .02zM129.56 112.58l-.12-.01l.1 .24l-1.13-.43l1.18-.27l-.13 .23l.11 0zM133.35 112.58l-.12-.01l.12 .24l-1.16-.37l1.16-.33l-.11 .23l.11 0zM137.14 112.58l-.12 0l.13 .23l-1.18-.3l1.15-.4l-.1 .24l.11-.01zM140.93 112.58l-.11 .01l.13 .22l-1.18-.24l1.12-.46l-.09 .25l.11-.02zM144.73 112.57l-.12 .02l.15 .21l-1.19-.17l1.09-.51l-.08 .24l.11-.01zM148.52 112.57l-.11 .03l.15 .2l-1.19-.11l1.05-.57l-.06 .25l.11-.02zM152.31 112.57l-.11 .03l.17 .19l-1.18-.04l1-.62l-.05 .25l.11-.03zM156.1 112.57l-.11 .03l.18 .18l-1.16 .03l.95-.67l-.03 .25l.1-.04zM159.89 112.56l-.1 .04l.18 .16l-1.13 .1l.89-.7l-.02 .24l.1-.04zM163.68 112.56l-.09 .04l.18 .15l-1.1 .16l.83-.74l0 .24l.09-.05zM167.47 112.55l-.09 .05l.19 .13l-1.06 .22l.77-.76l0 .23l.09-.05zM171.26 112.55l-.08 .05l.19 .12l-1.01 .27l.69-.79l.02 .23l.09-.06zM175.05 112.54l-.08 .06l.19 .1l-.95 .32l.62-.8l.03 .22l.08-.06zM178.84 112.53l-.07 .06l.19 .09l-.9 .37l.55-.81l.04 .21l.07-.06zM182.63 112.53l-.07 .06l.19 .07l-.83 .4l.47-.8l.05 .19l.07-.06zM186.41 112.52l-.05 .06l.18 .05l-.76 .44l.39-.78l.07 .17l.05-.06zM190.2 112.51l-.05 .06l.17 .04l-.68 .45l.32-.75l.07 .16l.05-.06zM193.99 112.5l-.05 .06l.16 .03l-.6 .46l.25-.72l.07 .15l.05-.06zM197.77 112.5l-.04 .05l.15 .02l-.52 .46l.18-.68l.08 .13l.04-.06zM201.55 112.49l-.03 .05l.14 .01l-.45 .44l.13-.62l.08 .11l.03-.05zM205.03 112.34h.44v.44h-.44zM208.89 112.28h.36v.36h-.36zM212.68 112.28h.36v.36h-.36zM216.46 112.28h.36v.36h-.36zM220.25 112.28h.36v.36h-.36zM224.03 112.28h.36v.36h-.36zM227.82 112.28h.37v.37h-.37zM38.52 109.56h.37v.37h-.37zM42.3 109.56h.36v.36h-.36zM46.09 109.56h.36v.36h-.36zM49.88 109.57h.36v.36h-.36zM53.67 109.57h.35v.35h-.35zM57.38 109.44h.42v.42h-.42zM61.36 109.77l-.02-.06l-.08 .1l-.07-.6l.39 .47l-.13-.01l.02 .05zM65.14 109.77l-.03-.05l-.08 .11l-.12-.67l.47 .5l-.15 0l.03 .05zM68.93 109.78l-.04-.06l-.09 .13l-.18-.73l.55 .51l-.16 .02l.04 .06zM72.71 109.79l-.04-.07l-.09 .16l-.25-.78l.64 .51l-.18 .03l.05 .06zM76.49 109.8l-.05-.07l-.08 .17l-.32-.81l.72 .5l-.19 .04l.06 .06zM80.28 109.8l-.06-.06l-.07 .18l-.39-.84l.78 .49l-.19 .05l.06 .06zM84.07 109.81l-.07-.07l-.06 .2l-.47-.85l.86 .45l-.2 .07l.07 .07zM87.85 109.82l-.07-.07l-.05 .22l-.55-.87l.93 .42l-.2 .09l.07 .06zM91.64 109.82l-.08-.06l-.04 .23l-.62-.86l.99 .37l-.21 .1l.09 .06zM95.43 109.83l-.09-.06l-.03 .24l-.69-.85l1.05 .32l-.21 .12l.09 .06zM99.22 109.84l-.09-.06l-.02 .24l-.77-.82l1.1 .26l-.2 .14l.09 .05zM103.01 109.84l-.1-.05l0 .25l-.84-.8l1.14 .21l-.2 .14l.1 .05zM106.8 109.85l-.1-.05l.01 .26l-.91-.77l1.18 .14l-.19 .16l.1 .05zM110.59 109.85l-.11-.04l.03 .26l-.97-.73l1.21 .08l-.18 .17l.1 .04zM114.39 109.86l-.12-.04l.05 .26l-1.03-.68l1.23 0l-.18 .2l.11 .03zM118.18 109.86l-.12-.03l.06 .26l-1.08-.63l1.25-.07l-.17 .21l.11 .03zM121.97 109.86l-.12-.02l.08 .26l-1.13-.58l1.26-.13l-.17 .21l.12 .02zM125.76 109.87l-.12-.02l.09 .26l-1.17-.52l1.26-.21l-.15 .23l.12 .01zM129.56 109.87l-.13-.01l.11 .25l-1.21-.45l1.26-.29l-.14 .24l.12 .01zM133.35 109.87l-.13 0l.12 .25l-1.23-.39l1.25-.36l-.13 .25l.12 0zM137.14 109.87l-.12 0l.13 .25l-1.25-.33l1.22-.42l-.11 .26l.12-.01zM140.93 109.87l-.12 .01l.15 .23l-1.27-.25l1.2-.49l-.1 .26l.12-.01zM144.73 109.87l-.12 .01l.15 .23l-1.27-.18l1.16-.55l-.08 .26l.12-.02zM148.52 109.86l-.12 .03l.17 .21l-1.27-.1l1.12-.61l-.07 .26l.12-.03zM152.31 109.86l-.11 .03l.18 .2l-1.27-.02l1.07-.68l-.05 .27l.12-.03zM156.1 109.86l-.11 .04l.19 .18l-1.24 .05l1.01-.72l-.04 .26l.12-.04zM159.9 109.85l-.11 .05l.2 .17l-1.22 .12l.95-.77l-.02 .26l.11-.04zM163.69 109.85l-.11 .05l.21 .15l-1.19 .19l.89-.81l-.01 .26l.11-.05zM167.48 109.84l-.1 .06l.21 .14l-1.15 .25l.82-.84l.01 .25l.1-.05zM171.27 109.84l-.09 .06l.21 .12l-1.1 .32l.74-.87l.03 .24l.09-.06zM175.06 109.83l-.09 .06l.21 .11l-1.03 .37l.66-.88l.04 .23l.08-.06zM178.85 109.82l-.08 .07l.21 .09l-.98 .42l.58-.89l.06 .22l.08-.06zM182.64 109.81l-.07 .07l.2 .07l-.9 .47l.5-.89l.06 .21l.07-.07zM186.42 109.81l-.06 .06l.2 .06l-.83 .5l.42-.87l.07 .19l.07-.07zM190.21 109.8l-.06 .07l.19 .04l-.74 .52l.34-.85l.08 .18l.05-.07zM193.99 109.79l-.04 .07l.18 .02l-.67 .53l.27-.81l.08 .16l.05-.06zM197.78 109.78l-.04 .07l.16 .01l-.57 .52l.19-.75l.09 .14l.04-.06zM201.56 109.77l-.03 .07l.15 0l-.49 .5l.13-.69l.09 .12l.03-.06zM205.34 109.77l-.03 .05l.14 0l-.4 .47l.07-.62l.09 .1l.02-.05zM208.83 109.63h.43v.43h-.43zM212.68 109.57h.35v.35h-.35zM216.46 109.57h.36v.36h-.36zM220.25 109.56h.36v.36h-.36zM224.03 109.56h.36v.36h-.36zM227.82 109.56h.37v.37h-.37zM38.52 106.85h.37v.37h-.37zM42.3 106.85h.36v.36h-.36zM46.09 106.85h.36v.36h-.36zM49.88 106.85h.36v.36h-.36zM53.62 106.74h.39v.39h-.39zM57.35 106.69h.47v.47h-.47zM61.36 107.05l-.03-.06l-.09 .11l-.07-.67l.43 .52l-.15-.01l.03 .06zM65.14 107.06l-.04-.07l-.09 .13l-.12-.75l.51 .56l-.16 0l.03 .07zM68.92 107.07l-.04-.07l-.1 .15l-.18-.82l.6 .58l-.18 .01l.04 .07zM72.7 107.08l-.05-.08l-.09 .17l-.26-.86l.69 .58l-.19 .02l.05 .07zM76.49 107.08l-.06-.07l-.09 .18l-.33-.9l.77 .57l-.2 .04l.05 .07zM80.27 107.09l-.06-.07l-.09 .2l-.4-.93l.85 .55l-.21 .05l.06 .07zM84.06 107.1l-.07-.07l-.08 .21l-.49-.94l.93 .52l-.22 .06l.08 .08zM87.85 107.11l-.08-.07l-.07 .22l-.57-.94l1 .47l-.22 .09l.08 .07zM91.64 107.11l-.09-.06l-.05 .24l-.66-.95l1.07 .43l-.22 .1l.08 .07zM95.42 107.12l-.09-.06l-.04 .25l-.73-.93l1.13 .37l-.23 .12l.1 .07zM99.22 107.13l-.1-.06l-.03 .26l-.81-.91l1.18 .31l-.22 .14l.1 .06zM103.01 107.13l-.11-.05l-.01 .26l-.88-.87l1.22 .24l-.22 .16l.11 .05zM106.8 107.14l-.11-.05l.01 .27l-.96-.84l1.26 .18l-.21 .17l.11 .05zM110.59 107.14l-.12-.04l.03 .28l-1.02-.8l1.29 .1l-.21 .19l.12 .04zM114.38 107.15l-.12-.04l.05 .28l-1.09-.74l1.31 .02l-.19 .2l.12 .04zM118.17 107.15l-.12-.03l.06 .28l-1.14-.69l1.33-.05l-.19 .21l.13 .03zM121.97 107.15l-.13-.02l.08 .28l-1.2-.63l1.35-.13l-.18 .23l.13 .02zM125.76 107.16l-.13-.02l.1 .28l-1.24-.57l1.34-.21l-.16 .24l.13 .02zM129.55 107.16l-.13-.01l.11 .27l-1.27-.49l1.33-.29l-.15 .25l.13 .01zM133.35 107.16l-.13 0l.12 .26l-1.3-.41l1.32-.38l-.14 .26l.13 .01zM137.14 107.16l-.13 0l.14 .26l-1.33-.34l1.3-.45l-.12 .27l.13 0zM140.94 107.16l-.14 .01l.16 .25l-1.35-.26l1.27-.52l-.1 .27l.13-.01zM144.73 107.16l-.13 .02l.17 .24l-1.36-.19l1.24-.59l-.09 .28l.13-.02zM148.52 107.16l-.13 .02l.19 .23l-1.36-.1l1.19-.66l-.07 .28l.13-.03zM152.32 107.15l-.13 .04l.2 .21l-1.35-.02l1.13-.72l-.05 .28l.12-.04zM156.11 107.15l-.12 .04l.2 .2l-1.33 .06l1.08-.78l-.04 .28l.12-.04zM159.9 107.14l-.11 .05l.21 .19l-1.31 .14l1.01-.84l-.01 .28l.11-.05zM163.69 107.14l-.11 .05l.22 .17l-1.27 .22l.94-.88l0 .27l.11-.05zM167.49 107.13l-.11 .06l.23 .15l-1.23 .3l.86-.93l.02 .27l.1-.06zM171.28 107.13l-.1 .06l.23 .13l-1.18 .37l.78-.96l.04 .27l.09-.07zM175.07 107.12l-.1 .07l.24 .11l-1.13 .43l.71-.98l.04 .26l.1-.07zM178.86 107.11l-.09 .07l.23 .1l-1.05 .48l.61-.98l.07 .24l.08-.08zM182.64 107.1l-.07 .08l.22 .07l-.98 .53l.53-.98l.08 .23l.07-.08zM186.43 107.1l-.07 .07l.22 .06l-.9 .56l.44-.96l.09 .21l.07-.08zM190.22 107.09l-.06 .07l.21 .04l-.82 .59l.36-.94l.09 .2l.06-.08zM194 107.08l-.05 .07l.2 .03l-.73 .6l.28-.9l.1 .17l.05-.07zM197.78 107.07l-.04 .07l.19 .01l-.64 .6l.21-.85l.1 .16l.04-.07zM201.57 107.06l-.04 .07l.17 0l-.54 .57l.14-.77l.1 .13l.03-.07zM205.35 107.05l-.03 .07l.15-.01l-.44 .54l.07-.7l.1 .11l.02-.06zM209.12 107.05l-.01 .05l.12-.02l-.35 .49l.03-.6l.09 .09l.02-.05zM212.64 106.92h.4v.4h-.4zM216.46 106.85h.36v.36h-.36zM220.25 106.85h.36v.36h-.36zM224.03 106.85h.36v.36h-.36zM227.82 106.85h.37v.37h-.37zM38.52 104.13h.37v.37h-.37zM42.3 104.13h.36v.36h-.36zM46.09 104.13h.36v.36h-.36zM49.88 104.13h.36v.36h-.36zM53.59 103.99h.44v.44h-.44zM57.57 104.33l-.02-.06l-.1 .1l-.01-.65l.37 .53l-.14-.02l.02 .06zM61.35 104.34l-.03-.07l-.11 .12l-.06-.75l.47 .59l-.16-.01l.02 .07zM65.13 104.35l-.03-.08l-.12 .14l-.12-.83l.56 .63l-.18 0l.03 .07zM68.91 104.35l-.04-.07l-.11 .16l-.19-.9l.65 .65l-.2 0l.05 .08zM72.69 104.36l-.05-.08l-.11 .18l-.26-.95l.74 .65l-.21 .02l.05 .08zM76.48 104.37l-.06-.08l-.11 .2l-.34-1l.84 .65l-.23 .03l.06 .08zM80.26 104.38l-.06-.08l-.1 .21l-.43-1.02l.92 .62l-.23 .05l.07 .08zM84.05 104.39l-.07-.08l-.09 .23l-.51-1.04l.99 .59l-.23 .07l.07 .08zM87.84 104.4l-.08-.08l-.08 .24l-.6-1.04l1.07 .54l-.24 .09l.09 .08zM91.63 104.4l-.09-.07l-.06 .26l-.69-1.04l1.14 .49l-.24 .1l.09 .08zM95.42 104.41l-.1-.07l-.05 .27l-.77-1.02l1.21 .43l-.25 .12l.1 .07zM99.21 104.42l-.11-.07l-.03 .28l-.85-.99l1.26 .36l-.24 .14l.1 .07zM103 104.42l-.11-.06l-.01 .29l-.94-.96l1.31 .29l-.24 .16l.11 .06zM106.79 104.43l-.12-.06l.01 .3l-1.01-.92l1.35 .21l-.23 .18l.11 .05zM110.58 104.43l-.12-.04l.03 .29l-1.09-.86l1.38 .12l-.22 .2l.12 .05zM114.38 104.44l-.13-.04l.04 .29l-1.14-.8l1.4 .04l-.22 .21l.13 .04zM118.17 104.44l-.13-.03l.06 .3l-1.21-.75l1.42-.04l-.2 .23l.13 .03zM121.96 104.45l-.13-.03l.08 .3l-1.26-.68l1.42-.13l-.19 .24l.14 .03zM125.76 104.45l-.14-.02l.1 .29l-1.31-.6l1.43-.22l-.18 .26l.14 .02zM129.55 104.45l-.14-.01l.12 .29l-1.35-.53l1.42-.3l-.16 .26l.14 .01zM133.35 104.45l-.14 0l.13 .28l-1.38-.45l1.4-.39l-.15 .28l.14 0zM137.14 104.45l-.14 .01l.15 .27l-1.41-.36l1.38-.48l-.13 .29l.14-.01zM140.94 104.45l-.14 .02l.16 .26l-1.43-.28l1.35-.56l-.11 .3l.14-.02zM144.73 104.45l-.14 .02l.19 .25l-1.45-.18l1.31-.64l-.09 .3l.14-.03zM148.52 104.45l-.13 .03l.2 .24l-1.45-.1l1.26-.71l-.07 .3l.13-.03zM152.32 104.44l-.13 .04l.21 .23l-1.44-.01l1.2-.78l-.05 .3l.13-.04zM156.11 104.44l-.13 .05l.23 .21l-1.43 .08l1.15-.85l-.04 .3l.13-.05zM159.91 104.44l-.13 .05l.23 .19l-1.4 .17l1.08-.91l-.02 .3l.13-.05zM163.7 104.43l-.12 .06l.24 .18l-1.37 .25l1-.96l.01 .29l.12-.06zM167.49 104.42l-.11 .07l.25 .16l-1.33 .34l.92-1.01l.02 .29l.12-.07zM171.28 104.42l-.1 .07l.25 .14l-1.27 .41l.83-1.04l.04 .28l.11-.07zM175.07 104.41l-.09 .08l.25 .12l-1.21 .48l.74-1.07l.06 .27l.1-.08zM178.86 104.4l-.09 .08l.26 .1l-1.15 .55l.66-1.09l.07 .26l.09-.08zM182.65 104.39l-.08 .09l.25 .08l-1.07 .59l.57-1.08l.08 .24l.08-.08zM186.44 104.38l-.07 .09l.24 .06l-.98 .63l.47-1.07l.1 .23l.07-.08zM190.23 104.38l-.07 .08l.24 .04l-.89 .66l.37-1.04l.11 .21l.06-.08zM194.01 104.37l-.05 .08l.22 .02l-.8 .68l.29-1l.12 .19l.05-.08zM197.79 104.36l-.04 .08l.2 .01l-.69 .67l.21-.94l.12 .17l.04-.08zM201.57 104.35l-.03 .07l.19 0l-.6 .65l.14-.87l.12 .15l.03-.07zM205.35 104.34l-.02 .07l.16-.01l-.49 .61l.08-.78l.11 .12l.02-.07zM209.13 104.33l-.02 .06l.14-.02l-.38 .56l.02-.68l.1 .1l.02-.06zM212.61 104.19h.45v.45h-.45zM216.46 104.13h.36v.36h-.36zM220.25 104.13h.36v.36h-.36zM224.03 104.13h.36v.36h-.36zM227.82 104.13h.37v.37h-.37zM38.52 101.41h.37v.37h-.37zM42.3 101.41h.36v.36h-.36zM46.09 101.41h.36v.36h-.36zM49.84 101.32h.38v.38h-.38zM53.79 101.61l-.02-.06l-.1 .09l.03-.61l.31 .52l-.12-.02l.01 .05zM57.56 101.62l-.02-.07l-.11 .11l-.01-.73l.41 .6l-.15-.02l.02 .07zM61.34 101.62l-.03-.07l-.12 .13l-.06-.83l.51 .66l-.18-.02l.03 .08zM65.12 101.63l-.04-.08l-.12 .15l-.12-.91l.61 .7l-.2-.01l.03 .08zM68.9 101.64l-.04-.08l-.13 .17l-.19-.99l.71 .72l-.22 .01l.04 .08zM72.69 101.65l-.06-.09l-.12 .2l-.27-1.05l.8 .72l-.23 .02l.05 .09zM76.47 101.66l-.06-.09l-.12 .21l-.36-1.09l.9 .72l-.24 .03l.06 .09zM80.26 101.67l-.08-.09l-.11 .23l-.44-1.12l.99 .69l-.26 .05l.08 .09zM84.04 101.68l-.08-.09l-.1 .25l-.53-1.14l1.07 .65l-.26 .08l.08 .09zM87.83 101.68l-.09-.08l-.08 .26l-.63-1.13l1.15 .6l-.26 .09l.09 .09zM91.62 101.69l-.1-.08l-.07 .28l-.72-1.13l1.22 .54l-.26 .12l.1 .08zM95.41 101.7l-.1-.08l-.06 .29l-.81-1.11l1.29 .48l-.27 .13l.11 .08zM99.2 101.71l-.11-.08l-.04 .3l-.89-1.07l1.34 .4l-.26 .15l.11 .07zM102.99 101.71l-.11-.06l-.02 .3l-.99-1.03l1.4 .32l-.26 .17l.12 .07zM106.79 101.72l-.13-.06l0 .31l-1.06-.99l1.43 .24l-.25 .19l.13 .06zM110.58 101.73l-.13-.06l.02 .32l-1.14-.94l1.47 .16l-.24 .2l.13 .06zM114.37 101.73l-.13-.05l.04 .32l-1.21-.87l1.49 .06l-.23 .22l.14 .05zM118.17 101.73l-.14-.03l.06 .31l-1.27-.8l1.5-.03l-.21 .24l.13 .04zM121.96 101.74l-.14-.03l.08 .31l-1.33-.73l1.51-.12l-.2 .25l.14 .03zM125.76 101.74l-.15-.02l.1 .31l-1.38-.65l1.51-.22l-.19 .27l.15 .02zM129.55 101.74l-.15-.01l.13 .31l-1.43-.57l1.5-.31l-.17 .28l.15 .01zM133.35 101.74l-.15 0l.14 .3l-1.47-.48l1.49-.41l-.15 .29l.14 .01zM137.14 101.74l-.15 .01l.16 .29l-1.49-.39l1.46-.5l-.14 .3l.15 0zM140.94 101.74l-.15 .02l.18 .28l-1.52-.29l1.43-.6l-.12 .31l.15-.01zM144.73 101.74l-.14 .03l.19 .26l-1.53-.19l1.38-.68l-.09 .31l.14-.02zM148.53 101.74l-.15 .03l.21 .26l-1.53-.1l1.33-.77l-.07 .33l.14-.04zM152.32 101.74l-.14 .04l.23 .24l-1.54 0l1.28-.85l-.05 .33l.14-.04zM156.12 101.73l-.14 .05l.24 .23l-1.52 .1l1.21-.92l-.03 .32l.13-.05zM159.91 101.73l-.13 .06l.25 .2l-1.5 .2l1.14-.99l-.01 .32l.13-.06zM163.7 101.72l-.12 .07l.26 .19l-1.47 .29l1.07-1.05l0 .32l.13-.07zM167.5 101.72l-.12 .07l.27 .17l-1.43 .38l.98-1.1l.03 .31l.12-.07zM171.29 101.71l-.11 .08l.27 .14l-1.37 .47l.89-1.14l.05 .3l.11-.08zM175.08 101.7l-.1 .09l.27 .12l-1.3 .54l.79-1.17l.07 .3l.1-.09zM178.87 101.69l-.09 .09l.27 .11l-1.23 .6l.69-1.18l.09 .28l.09-.09zM182.66 101.68l-.09 .1l.28 .08l-1.16 .67l.6-1.2l.1 .27l.09-.09zM186.45 101.67l-.08 .1l.27 .06l-1.07 .71l.5-1.18l.11 .25l.08-.09zM190.23 101.66l-.06 .1l.25 .04l-.96 .74l.4-1.15l.12 .23l.07-.09zM194.02 101.65l-.06 .1l.25 .02l-.87 .76l.31-1.11l.12 .21l.06-.09zM197.8 101.64l-.05 .09l.23 .01l-.76 .75l.22-1.04l.13 .19l.05-.09zM201.58 101.64l-.04 .08l.21-.01l-.65 .73l.14-.96l.13 .16l.04-.08zM205.36 101.63l-.03 .07l.19-.01l-.54 .68l.07-.87l.13 .14l.03-.07zM209.14 101.62l-.02 .07l.16-.03l-.43 .63l.01-.76l.12 .11l.02-.07zM212.91 101.61l-.01 .06l.13-.03l-.32 .54l-.03-.63l.1 .09l.02-.06zM216.44 101.49h.39v.39h-.39zM220.25 101.41h.36v.36h-.36zM224.03 101.41h.36v.36h-.36zM227.82 101.41h.37v.37h-.37zM38.52 98.7h.37v.37h-.37zM42.3 98.7h.36v.36h-.36zM46.09 98.7h.36v.36h-.36zM49.82 98.57h.42v.42h-.42zM53.78 98.9l-.01-.07l-.11 .1l.03-.68l.34 .58l-.14-.03l.02 .06zM57.56 98.9l-.03-.07l-.12 .12l0-.81l.44 .67l-.17-.03l.02 .08zM61.33 98.91l-.03-.08l-.13 .14l-.06-.92l.55 .74l-.19-.02l.03 .08zM65.11 98.92l-.04-.09l-.14 .17l-.12-1.02l.66 .78l-.22-.01l.04 .09zM68.89 98.93l-.04-.1l-.15 .19l-.19-1.09l.76 .81l-.24 0l.05 .09zM72.68 98.94l-.06-.1l-.14 .21l-.28-1.15l.87 .81l-.26 .01l.06 .1zM76.46 98.95l-.07-.1l-.13 .23l-.37-1.2l.97 .8l-.27 .03l.07 .1zM80.25 98.96l-.08-.1l-.12 .25l-.47-1.23l1.07 .77l-.28 .05l.08 .1zM84.03 98.97l-.08-.1l-.11 .27l-.56-1.24l1.15 .72l-.29 .08l.09 .09zM87.82 98.97l-.09-.09l-.1 .28l-.66-1.24l1.23 .68l-.28 .09l.09 .1zM91.61 98.98l-.1-.09l-.08 .3l-.76-1.23l1.31 .61l-.29 .12l.11 .09zM95.4 98.99l-.11-.09l-.06 .31l-.85-1.2l1.37 .54l-.28 .13l.11 .09zM99.19 99l-.11-.08l-.05 .32l-.94-1.17l1.43 .45l-.28 .16l.12 .08zM102.99 99.01l-.13-.08l-.02 .33l-1.03-1.13l1.48 .37l-.28 .18l.13 .07zM106.78 99.01l-.13-.07l0 .34l-1.12-1.07l1.52 .27l-.27 .2l.14 .07zM110.57 99.02l-.13-.06l.02 .33l-1.2-1.01l1.55 .19l-.25 .21l.13 .06zM114.37 99.02l-.14-.05l.04 .34l-1.28-.94l1.58 .08l-.24 .24l.14 .05zM118.16 99.03l-.14-.05l.06 .34l-1.34-.86l1.59-.02l-.23 .25l.15 .04zM121.96 99.03l-.15-.03l.08 .33l-1.4-.78l1.6-.12l-.22 .27l.16 .03zM125.75 99.03l-.15-.02l.11 .33l-1.46-.7l1.6-.22l-.2 .28l.15 .03zM129.55 99.04l-.15-.02l.12 .33l-1.51-.61l1.6-.33l-.19 .3l.16 .01zM133.35 99.04l-.16-.01l.15 .32l-1.55-.51l1.57-.43l-.16 .31l.15 0zM137.14 99.04l-.15 0l.16 .31l-1.58-.41l1.55-.53l-.15 .32l.16-.01zM140.94 99.04l-.16 .01l.19 .3l-1.61-.31l1.51-.63l-.12 .33l.16-.02zM144.73 99.03l-.15 .03l.21 .28l-1.63-.2l1.47-.72l-.1 .33l.15-.02zM148.53 99.03l-.15 .04l.22 .27l-1.63-.1l1.42-.82l-.08 .34l.15-.03zM152.33 99.03l-.15 .05l.24 .25l-1.63 .01l1.35-.91l-.06 .35l.15-.05zM156.12 99.03l-.14 .05l.25 .24l-1.62 .11l1.29-.99l-.03 .35l.14-.06zM159.92 99.02l-.14 .06l.27 .22l-1.6 .23l1.21-1.07l-.01 .34l.14-.06zM163.71 99.01l-.13 .08l.28 .19l-1.57 .33l1.13-1.13l.01 .34l.13-.07zM167.5 99.01l-.12 .08l.29 .17l-1.53 .43l1.04-1.19l.03 .33l.13-.08zM171.3 99l-.12 .09l.29 .15l-1.47 .52l.95-1.24l.05 .33l.12-.09zM175.09 98.99l-.11 .1l.3 .13l-1.41 .6l.84-1.28l.08 .32l.11-.09zM178.88 98.98l-.1 .1l.3 .11l-1.33 .68l.74-1.3l.09 .31l.1-.1zM182.67 98.97l-.09 .11l.3 .08l-1.25 .74l.63-1.3l.11 .29l.1-.1zM186.46 98.96l-.09 .11l.3 .06l-1.16 .79l.53-1.29l.13 .27l.08-.1zM190.24 98.95l-.07 .11l.28 .04l-1.05 .83l.43-1.27l.13 .25l.08-.1zM194.03 98.94l-.06 .11l.27 .02l-.95 .84l.33-1.22l.14 .23l.06-.1zM197.81 98.93l-.05 .1l.25 .01l-.83 .84l.23-1.16l.15 .21l.05-.1zM201.59 98.92l-.04 .1l.23-.01l-.71 .81l.15-1.07l.14 .18l.04-.09zM205.37 98.91l-.03 .09l.2-.02l-.59 .77l.07-.97l.14 .15l.04-.08zM209.15 98.9l-.03 .08l.18-.03l-.47 .7l.01-.84l.13 .12l.02-.07zM212.92 98.9l-.02 .06l.15-.03l-.36 .6l-.03-.7l.11 .1l.02-.07zM216.41 98.77h.44v.44h-.44zM220.25 98.7h.36v.36h-.36zM224.03 98.7h.36v.36h-.36zM227.82 98.7h.37v.37h-.37zM38.52 95.98h.37v.37h-.37zM42.3 95.98h.36v.36h-.36zM46.09 95.98h.36v.36h-.36zM49.79 95.82h.47v.47h-.47zM53.77 96.18l-.01-.07l-.13 .1l.05-.74l.37 .65l-.15-.04l.01 .07zM57.55 96.19l-.03-.08l-.14 .13l.01-.89l.49 .74l-.19-.03l.02 .08zM61.32 96.2l-.03-.1l-.15 .16l-.05-1.01l.6 .82l-.21-.03l.03 .09zM65.1 96.21l-.04-.1l-.15 .18l-.12-1.12l.71 .87l-.24-.02l.04 .1zM68.88 96.22l-.05-.11l-.16 .21l-.2-1.2l.83 .89l-.26 0l.05 .1zM72.67 96.23l-.07-.11l-.15 .23l-.29-1.26l.94 .89l-.28 .01l.06 .11zM76.45 96.24l-.07-.11l-.15 .25l-.38-1.31l1.04 .88l-.29 .03l.07 .11zM80.24 96.25l-.08-.11l-.14 .27l-.49-1.34l1.14 .85l-.3 .05l.09 .11zM84.02 96.25l-.09-.1l-.12 .29l-.59-1.35l1.23 .8l-.3 .08l.09 .1zM87.81 96.26l-.1-.1l-.11 .31l-.69-1.35l1.32 .74l-.31 .1l.1 .1zM91.6 96.27l-.11-.1l-.09 .32l-.79-1.33l1.39 .68l-.31 .11l.11 .1zM95.4 96.28l-.12-.09l-.07 .33l-.9-1.3l1.46 .59l-.3 .14l.11 .1zM99.19 96.29l-.13-.09l-.05 .34l-.99-1.26l1.52 .51l-.3 .16l.12 .09zM102.98 96.3l-.13-.08l-.03 .34l-1.09-1.21l1.58 .42l-.3 .18l.13 .08zM106.77 96.3l-.13-.07l-.01 .35l-1.18-1.15l1.62 .32l-.29 .2l.14 .07zM110.57 96.31l-.15-.07l.02 .36l-1.26-1.09l1.65 .22l-.28 .22l.15 .07zM114.36 96.31l-.15-.05l.04 .36l-1.33-1.01l1.67 .1l-.26 .25l.15 .05zM118.16 96.32l-.16-.05l.07 .36l-1.41-.93l1.68 0l-.24 .26l.15 .05zM121.96 96.32l-.16-.03l.08 .35l-1.47-.84l1.69-.11l-.23 .28l.16 .04zM125.75 96.33l-.16-.03l.11 .35l-1.54-.75l1.7-.22l-.22 .3l.16 .02zM129.55 96.33l-.16-.02l.13 .34l-1.59-.64l1.68-.34l-.19 .32l.16 .01zM133.35 96.33l-.17-.01l.16 .34l-1.64-.54l1.66-.45l-.17 .32l.16 .01zM137.14 96.33l-.16 .01l.17 .32l-1.67-.44l1.64-.55l-.16 .33l.17 0zM140.94 96.33l-.17 .02l.2 .31l-1.7-.33l1.6-.66l-.13 .35l.17-.02zM144.74 96.33l-.17 .03l.22 .29l-1.72-.21l1.55-.77l-.1 .36l.16-.03zM148.53 96.33l-.16 .03l.24 .29l-1.73-.1l1.5-.87l-.09 .36l.17-.04zM152.33 96.32l-.16 .05l.26 .27l-1.73 .02l1.43-.97l-.06 .37l.16-.05zM156.13 96.32l-.16 .06l.28 .25l-1.73 .13l1.37-1.06l-.04 .37l.16-.06zM159.92 96.31l-.15 .07l.29 .23l-1.7 .25l1.28-1.14l-.01 .36l.15-.07zM163.72 96.31l-.15 .08l.31 .2l-1.68 .37l1.2-1.23l.02 .37l.14-.08zM167.51 96.3l-.13 .09l.31 .18l-1.63 .47l1.1-1.29l.04 .37l.14-.09zM171.31 96.29l-.13 .1l.32 .16l-1.58 .57l1-1.34l.07 .35l.12-.09zM175.1 96.28l-.12 .11l.32 .14l-1.51 .66l.9-1.39l.08 .35l.12-.11zM178.89 96.28l-.11 .1l.33 .12l-1.44 .75l.79-1.42l.1 .33l.11-.11zM182.68 96.27l-.1 .11l.33 .09l-1.35 .82l.67-1.43l.12 .32l.11-.12zM186.47 96.25l-.09 .12l.32 .07l-1.25 .87l.56-1.42l.14 .3l.09-.12zM190.26 96.24l-.08 .12l.31 .04l-1.15 .92l.45-1.4l.15 .28l.08-.12zM194.04 96.23l-.07 .12l.3 .02l-1.03 .93l.34-1.34l.16 .25l.07-.11zM197.82 96.22l-.06 .11l.28 .01l-.9 .93l.24-1.28l.16 .23l.06-.11zM201.6 96.21l-.04 .11l.25-.02l-.78 .91l.15-1.19l.17 .2l.04-.1zM205.38 96.2l-.04 .1l.23-.03l-.65 .86l.07-1.07l.16 .16l.04-.09zM209.16 96.19l-.03 .09l.2-.04l-.52 .78l0-.94l.15 .14l.02-.08zM212.93 96.18l-.02 .07l.16-.03l-.39 .67l-.04-.78l.13 .11l.01-.07zM216.7 96.17l-.01 .06l.12-.03l-.28 .54l-.06-.61l.1 .08l.01-.06zM220.25 95.98h.36v.36h-.36zM224.03 95.98h.36v.36h-.36zM227.82 95.98h.37v.37h-.37zM38.52 93.27h.37v.37h-.37zM42.3 93.27h.36v.36h-.36zM46.09 93.27h.36v.36h-.36zM50 93.46l-.01-.06l-.12 .08l.08-.65l.29 .59l-.13-.04l.01 .06zM53.77 93.47l-.02-.08l-.14 .11l.06-.82l.41 .72l-.18-.05l.02 .08zM57.54 93.47l-.03-.09l-.15 .14l.01-.97l.53 .82l-.21-.04l.03 .09zM61.32 93.48l-.04-.1l-.17 .17l-.04-1.11l.65 .9l-.24-.03l.04 .1zM65.09 93.49l-.04-.11l-.17 .2l-.12-1.22l.77 .95l-.26-.02l.04 .11zM68.87 93.5l-.05-.11l-.18 .22l-.2-1.31l.89 .98l-.28 0l.05 .11zM72.66 93.51l-.07-.11l-.17 .24l-.3-1.37l1.01 .98l-.3 .01l.06 .12zM76.44 93.52l-.08-.12l-.16 .28l-.4-1.43l1.12 .97l-.32 .03l.08 .12zM80.23 93.53l-.09-.11l-.15 .29l-.51-1.46l1.22 .94l-.32 .05l.09 .12zM84.01 93.54l-.09-.11l-.14 .31l-.61-1.47l1.31 .89l-.33 .07l.1 .12zM87.8 93.55l-.1-.11l-.12 .33l-.72-1.46l1.4 .82l-.33 .1l.1 .11zM91.59 93.56l-.11-.11l-.1 .34l-.83-1.43l1.48 .74l-.33 .12l.11 .11zM95.39 93.57l-.13-.1l-.08 .35l-.93-1.4l1.55 .65l-.33 .15l.12 .1zM99.18 93.58l-.13-.1l-.06 .37l-1.04-1.36l1.61 .56l-.32 .17l.13 .1zM102.97 93.59l-.14-.09l-.03 .37l-1.14-1.31l1.67 .47l-.32 .19l.14 .09zM106.77 93.59l-.15-.08l-.01 .38l-1.23-1.24l1.71 .36l-.31 .21l.15 .08zM110.56 93.6l-.15-.07l.01 .38l-1.31-1.17l1.74 .25l-.3 .23l.15 .08zM114.36 93.61l-.16-.06l.04 .37l-1.4-1.08l1.76 .13l-.28 .26l.16 .06zM118.16 93.61l-.17-.05l.06 .38l-1.47-1l1.78 .02l-.27 .27l.17 .06zM121.95 93.61l-.16-.04l.08 .38l-1.54-.9l1.78-.1l-.24 .29l.16 .04zM125.75 93.62l-.17-.03l.11 .37l-1.61-.8l1.78-.22l-.22 .31l.17 .03zM129.55 93.62l-.18-.02l.14 .36l-1.66-.69l1.77-.34l-.21 .33l.17 .02zM133.34 93.62l-.17 0l.16 .35l-1.71-.58l1.75-.46l-.19 .34l.18 0zM137.14 93.62l-.17 .01l.18 .34l-1.75-.46l1.72-.58l-.16 .35l.17-.01zM140.94 93.62l-.17 .02l.21 .33l-1.79-.34l1.68-.7l-.14 .36l.17-.02zM144.74 93.62l-.17 .03l.23 .31l-1.81-.22l1.63-.81l-.11 .38l.17-.03zM148.54 93.62l-.17 .04l.25 .3l-1.83-.1l1.58-.92l-.09 .38l.17-.04zM152.33 93.62l-.16 .05l.27 .28l-1.83 .03l1.51-1.03l-.06 .38l.17-.05zM156.13 93.61l-.16 .07l.29 .26l-1.82 .15l1.43-1.13l-.03 .39l.16-.07zM159.93 93.61l-.16 .07l.31 .24l-1.81 .28l1.36-1.23l-.01 .4l.16-.08zM163.72 93.6l-.15 .09l.33 .21l-1.78 .41l1.26-1.32l.02 .39l.15-.08zM167.52 93.59l-.15 .1l.34 .19l-1.74 .52l1.17-1.39l.04 .39l.15-.1zM171.31 93.59l-.13 .1l.34 .17l-1.68 .63l1.06-1.45l.07 .37l.14-.1zM175.11 93.58l-.13 .11l.35 .14l-1.62 .74l.95-1.51l.1 .37l.12-.11zM178.9 93.57l-.12 .11l.36 .12l-1.55 .83l.84-1.54l.12 .36l.11-.12zM182.69 93.56l-.11 .12l.36 .09l-1.46 .91l.72-1.56l.14 .34l.11-.12zM186.48 93.55l-.1 .12l.35 .07l-1.35 .97l.6-1.55l.15 .32l.1-.13zM190.27 93.53l-.09 .13l.34 .05l-1.24 1.01l.48-1.53l.17 .3l.08-.13zM194.05 93.52l-.07 .13l.32 .02l-1.11 1.03l.36-1.47l.18 .27l.07-.13zM197.83 93.51l-.06 .12l.31 0l-.99 1.04l.26-1.41l.18 .25l.06-.12zM201.61 93.5l-.05 .11l.28-.01l-.85 1l.16-1.3l.18 .21l.05-.11zM205.39 93.49l-.04 .1l.25-.02l-.71 .95l.07-1.19l.18 .19l.04-.11zM209.17 93.48l-.03 .09l.22-.04l-.58 .87l0-1.04l.17 .15l.02-.09zM212.94 93.47l-.02 .08l.18-.04l-.44 .75l-.05-.87l.15 .12l.02-.08zM216.71 93.46l-.02 .06l.14-.04l-.31 .61l-.07-.68l.12 .09l.01-.06zM220.25 93.27h.36v.36h-.36zM224.03 93.27h.36v.36h-.36zM227.82 93.27h.37v.37h-.37zM38.52 90.55h.37v.37h-.37zM42.3 90.55h.36v.36h-.36zM46.05 90.44h.4v.4h-.4zM49.99 90.74l-.01-.06l-.13 .09l.1-.72l.31 .65l-.15-.05l.02 .07zM53.76 90.75l-.02-.08l-.15 .12l.07-.91l.44 .8l-.19-.05l.02 .08zM57.53 90.76l-.03-.1l-.17 .15l.03-1.07l.57 .91l-.23-.04l.03 .09zM61.31 90.77l-.04-.11l-.19 .18l-.04-1.21l.71 .99l-.26-.04l.04 .11zM65.08 90.78l-.04-.12l-.2 .21l-.11-1.33l.83 1.05l-.29-.02l.05 .11zM68.86 90.79l-.06-.12l-.19 .24l-.21-1.43l.96 1.08l-.31-.01l.06 .12zM72.65 90.8l-.07-.13l-.19 .27l-.31-1.5l1.08 1.08l-.33 .01l.07 .13zM76.43 90.81l-.08-.13l-.18 .29l-.42-1.54l1.2 1.06l-.34 .03l.08 .13zM80.22 90.82l-.1-.13l-.16 .32l-.53-1.58l1.31 1.03l-.36 .05l.1 .13zM84 90.83l-.1-.12l-.15 .33l-.64-1.58l1.4 .97l-.35 .07l.1 .13zM87.79 90.84l-.11-.12l-.13 .35l-.76-1.57l1.5 .89l-.36 .11l.11 .12zM91.59 90.85l-.13-.11l-.11 .36l-.87-1.55l1.58 .82l-.36 .12l.12 .12zM95.38 90.86l-.13-.11l-.1 .38l-.97-1.52l1.65 .73l-.36 .15l.13 .11zM99.17 90.87l-.14-.1l-.07 .38l-1.08-1.46l1.71 .62l-.35 .18l.14 .1zM102.97 90.88l-.15-.1l-.04 .39l-1.19-1.39l1.76 .51l-.34 .2l.15 .09zM106.76 90.89l-.15-.09l-.02 .39l-1.28-1.32l1.8 .4l-.33 .22l.15 .09zM110.56 90.89l-.16-.07l.01 .39l-1.38-1.24l1.83 .28l-.31 .25l.16 .07zM114.35 90.9l-.16-.07l.03 .4l-1.46-1.16l1.86 .16l-.3 .27l.17 .07zM118.15 90.9l-.17-.05l.06 .39l-1.54-1.05l1.87 .03l-.28 .29l.17 .05zM121.95 90.91l-.18-.05l.09 .4l-1.61-.96l1.87-.09l-.26 .3l.18 .05zM125.75 90.91l-.18-.03l.11 .38l-1.68-.84l1.87-.22l-.24 .32l.18 .03zM129.54 90.91l-.18-.02l.15 .38l-1.75-.73l1.86-.35l-.22 .34l.18 .02zM133.34 90.91l-.18 0l.17 .37l-1.79-.62l1.83-.47l-.19 .35l.18 .01zM137.14 90.91l-.18 .01l.19 .36l-1.84-.49l1.81-.6l-.17 .37l.18-.01zM140.94 90.91l-.18 .02l.22 .35l-1.88-.36l1.77-.73l-.15 .38l.18-.02zM144.74 90.91l-.18 .03l.24 .33l-1.9-.23l1.71-.85l-.11 .39l.18-.03zM148.54 90.91l-.18 .04l.27 .32l-1.92-.1l1.65-.97l-.09 .4l.18-.05zM152.34 90.91l-.18 .05l.29 .3l-1.93 .04l1.59-1.1l-.06 .41l.17-.05zM156.13 90.9l-.17 .07l.31 .28l-1.92 .17l1.51-1.2l-.03 .41l.17-.07zM159.93 90.9l-.16 .08l.32 .25l-1.91 .31l1.43-1.31l-.01 .42l.17-.09zM163.73 90.89l-.16 .1l.34 .23l-1.88 .43l1.33-1.4l.02 .41l.17-.09zM167.53 90.89l-.16 .1l.36 .2l-1.85 .57l1.24-1.49l.05 .41l.15-.1zM171.32 90.88l-.14 .11l.37 .18l-1.8 .69l1.12-1.57l.08 .41l.15-.11zM175.12 90.87l-.14 .12l.38 .15l-1.73 .8l1-1.62l.11 .4l.13-.12zM178.91 90.86l-.13 .13l.39 .12l-1.66 .91l.89-1.67l.13 .38l.12-.13zM182.7 90.85l-.11 .13l.38 .1l-1.56 .99l.76-1.69l.15 .37l.11-.13zM186.49 90.84l-.1 .13l.38 .08l-1.46 1.06l.63-1.69l.17 .34l.11-.13zM190.28 90.82l-.09 .14l.37 .05l-1.34 1.11l.5-1.67l.19 .33l.09-.14zM194.06 90.81l-.08 .14l.36 .02l-1.21 1.14l.38-1.62l.2 .3l.08-.14zM197.85 90.8l-.07 .13l.33 0l-1.07 1.14l.27-1.54l.2 .27l.07-.14zM201.63 90.79l-.06 .12l.31-.01l-.93 1.11l.17-1.44l.2 .23l.05-.12zM205.4 90.77l-.04 .12l.28-.03l-.78 1.05l.07-1.31l.19 .21l.05-.12zM209.18 90.76l-.04 .11l.25-.04l-.63 .96l-.01-1.15l.18 .17l.03-.11zM212.95 90.75l-.03 .09l.21-.04l-.49 .83l-.05-.96l.15 .13l.03-.09zM216.71 90.74l-.01 .08l.16-.05l-.35 .68l-.08-.76l.13 .1l.01-.07zM220.22 90.62h.42v.42h-.42zM224.03 90.55h.36v.36h-.36zM227.82 90.55h.37v.37h-.37zM38.52 87.83h.37v.37h-.37zM42.3 87.83h.36v.36h-.36zM46.03 87.69h.44v.44h-.44zM49.98 88.03l-.01-.08l-.14 .1l.11-.78l.34 .71l-.16-.05l.01 .07zM53.75 88.04l-.02-.1l-.17 .14l.08-1l.48 .88l-.2-.06l.02 .1zM57.52 88.05l-.03-.11l-.19 .16l.04-1.17l.62 1l-.25-.05l.03 .11zM61.3 88.06l-.04-.13l-.21 .21l-.03-1.33l.76 1.09l-.28-.04l.04 .12zM65.07 88.07l-.05-.13l-.21 .23l-.12-1.45l.9 1.14l-.31-.02l.05 .13zM68.85 88.08l-.06-.14l-.21 .26l-.22-1.55l1.04 1.18l-.34-.01l.06 .13zM72.63 88.09l-.07-.14l-.21 .29l-.32-1.63l1.16 1.18l-.35 .01l.07 .14zM76.42 88.1l-.09-.14l-.19 .31l-.44-1.67l1.28 1.16l-.36 .03l.08 .14zM80.21 88.11l-.1-.14l-.19 .34l-.54-1.7l1.39 1.12l-.38 .05l.1 .14zM83.99 88.12l-.1-.13l-.17 .35l-.67-1.71l1.5 1.06l-.39 .08l.11 .14zM87.78 88.13l-.11-.13l-.15 .37l-.79-1.69l1.59 .98l-.39 .1l.12 .14zM91.58 88.14l-.13-.12l-.13 .38l-.9-1.66l1.67 .89l-.39 .13l.13 .13zM95.37 88.15l-.14-.12l-.1 .4l-1.02-1.62l1.74 .79l-.38 .16l.14 .12zM99.16 88.16l-.14-.11l-.08 .4l-1.13-1.56l1.8 .69l-.37 .18l.15 .11zM102.96 88.17l-.16-.1l-.05 .41l-1.23-1.49l1.85 .56l-.36 .21l.16 .1zM106.76 88.18l-.17-.1l-.02 .42l-1.33-1.41l1.89 .44l-.35 .23l.16 .09zM110.55 88.18l-.17-.08l.01 .42l-1.43-1.33l1.92 .32l-.33 .26l.17 .08zM114.35 88.19l-.17-.07l.03 .42l-1.52-1.23l1.94 .19l-.31 .27l.17 .07zM118.15 88.19l-.18-.06l.06 .42l-1.6-1.12l1.95 .05l-.29 .3l.18 .06zM121.95 88.2l-.19-.05l.09 .41l-1.68-1.01l1.96-.08l-.27 .32l.18 .04zM125.74 88.2l-.18-.03l.12 .4l-1.75-.9l1.95-.21l-.25 .34l.18 .03zM129.54 88.2l-.18-.02l.14 .4l-1.81-.78l1.94-.35l-.23 .36l.19 .02zM133.34 88.21l-.19-.01l.18 .38l-1.87-.64l1.91-.49l-.2 .37l.19 .01zM137.14 88.21l-.19 0l.2 .38l-1.92-.52l1.89-.62l-.18 .38l.19 0zM140.94 88.21l-.19 .02l.23 .36l-1.96-.38l1.84-.76l-.15 .39l.19-.01zM144.74 88.21l-.19 .03l.26 .34l-1.99-.24l1.79-.89l-.12 .41l.19-.03zM148.54 88.2l-.19 .05l.28 .33l-2.01-.1l1.73-1.03l-.09 .43l.19-.05zM152.34 88.2l-.18 .06l.3 .31l-2.02 .05l1.66-1.16l-.06 .43l.18-.06zM156.14 88.2l-.18 .07l.33 .29l-2.03 .19l1.59-1.28l-.04 .44l.18-.07zM159.94 88.19l-.18 .09l.35 .26l-2.02 .34l1.5-1.39l0 .44l.18-.09zM163.74 88.19l-.17 .09l.36 .25l-1.99 .47l1.4-1.49l.03 .43l.17-.09zM167.53 88.18l-.16 .11l.39 .21l-1.96 .62l1.29-1.59l.06 .43l.16-.11zM171.33 88.17l-.15 .12l.39 .19l-1.91 .75l1.19-1.68l.08 .43l.16-.12zM175.13 88.16l-.15 .13l.41 .16l-1.85 .87l1.06-1.74l.12 .42l.15-.13zM178.92 88.15l-.13 .14l.41 .13l-1.77 .98l.94-1.79l.14 .41l.13-.14zM182.71 88.14l-.12 .15l.41 .1l-1.67 1.08l.8-1.83l.17 .4l.12-.15zM186.5 88.13l-.11 .15l.41 .07l-1.57 1.16l.68-1.83l.18 .37l.11-.15zM190.29 88.12l-.1 .15l.4 .04l-1.44 1.22l.54-1.81l.2 .35l.1-.15zM194.08 88.1l-.09 .15l.39 .02l-1.32 1.25l.41-1.76l.22 .32l.09-.15zM197.86 88.09l-.07 .15l.36-.01l-1.17 1.26l.29-1.69l.22 .29l.08-.15zM201.64 88.08l-.06 .14l.34-.03l-1.02 1.23l.18-1.58l.22 .26l.06-.14zM205.41 88.06l-.04 .13l.3-.03l-.85 1.16l.07-1.44l.22 .22l.04-.13zM209.19 88.05l-.04 .12l.27-.05l-.69 1.06l-.01-1.27l.2 .19l.03-.12zM212.96 88.04l-.03 .1l.22-.05l-.53 .92l-.06-1.06l.17 .14l.03-.1zM216.72 88.03l-.01 .08l.17-.05l-.38 .75l-.1-.84l.15 .11l.01-.08zM220.19 87.9h.46v.46h-.46zM224.03 87.83h.36v.36h-.36zM227.82 87.83h.37v.37h-.37zM38.52 85.12h.37v.37h-.37zM42.3 85.12h.36v.36h-.36zM46.01 84.94h.48v.48h-.48zM49.98 85.31l-.02-.08l-.15 .11l.12-.86l.37 .78l-.17-.05l.01 .08zM53.74 85.32l-.02-.1l-.18 .14l.09-1.08l.52 .96l-.23-.06l.03 .1zM57.51 85.33l-.03-.12l-.21 .18l.05-1.28l.67 1.1l-.27-.06l.03 .12zM61.28 85.34l-.04-.13l-.22 .22l-.03-1.45l.82 1.19l-.3-.04l.04 .13zM65.06 85.35l-.05-.14l-.23 .25l-.12-1.58l.97 1.26l-.34-.04l.05 .15zM68.84 85.37l-.07-.15l-.23 .28l-.21-1.68l1.1 1.28l-.36-.01l.07 .14zM72.62 85.38l-.08-.15l-.22 .31l-.33-1.76l1.24 1.28l-.38 .01l.08 .15zM76.41 85.39l-.09-.15l-.22 .33l-.45-1.8l1.37 1.26l-.4 .03l.09 .15zM80.19 85.4l-.1-.15l-.2 .36l-.57-1.83l1.48 1.21l-.4 .06l.1 .15zM83.98 85.41l-.11-.15l-.19 .38l-.69-1.83l1.59 1.15l-.41 .08l.11 .15zM87.77 85.42l-.12-.14l-.16 .39l-.82-1.81l1.68 1.07l-.41 .1l.12 .15zM91.57 85.43l-.14-.13l-.14 .4l-.93-1.78l1.76 .98l-.41 .13l.13 .14zM95.36 85.44l-.14-.13l-.12 .42l-1.05-1.73l1.83 .87l-.4 .16l.14 .13zM99.16 85.45l-.16-.12l-.09 .43l-1.16-1.67l1.89 .75l-.4 .19l.16 .12zM102.95 85.46l-.16-.11l-.06 .43l-1.28-1.59l1.94 .63l-.38 .21l.16 .11zM106.75 85.47l-.17-.1l-.03 .43l-1.38-1.5l1.98 .5l-.37 .23l.17 .1zM110.55 85.47l-.18-.08l0 .43l-1.48-1.4l2.01 .36l-.35 .26l.17 .09zM114.34 85.48l-.18-.08l.03 .44l-1.57-1.3l2.03 .22l-.33 .28l.18 .08zM118.14 85.48l-.18-.06l.06 .43l-1.66-1.19l2.04 .09l-.32 .3l.19 .07zM121.94 85.49l-.19-.05l.09 .43l-1.74-1.07l2.04-.07l-.29 .33l.19 .05zM125.74 85.49l-.19-.03l.12 .42l-1.81-.95l2.03-.21l-.27 .35l.2 .04zM129.54 85.49l-.19-.02l.14 .41l-1.87-.81l2.01-.35l-.24 .36l.2 .03zM133.34 85.5l-.2-.01l.18 .4l-1.94-.68l2-.5l-.22 .38l.2 .01zM137.14 85.5l-.2 0l.21 .39l-1.99-.54l1.96-.64l-.19 .4l.2-.01zM140.94 85.5l-.2 .02l.24 .37l-2.03-.4l1.91-.78l-.16 .41l.2-.02zM144.74 85.5l-.19 .03l.26 .36l-2.07-.25l1.87-.93l-.13 .43l.19-.04zM148.54 85.5l-.19 .04l.29 .35l-2.1-.1l1.81-1.08l-.1 .44l.2-.05zM152.34 85.49l-.19 .07l.32 .32l-2.11 .05l1.73-1.21l-.07 .45l.2-.06zM156.14 85.49l-.19 .08l.35 .3l-2.12 .21l1.65-1.35l-.03 .46l.19-.08zM159.94 85.48l-.18 .1l.37 .27l-2.12 .37l1.57-1.47l0 .46l.18-.09zM163.74 85.48l-.18 .1l.39 .25l-2.1 .52l1.47-1.58l.03 .46l.18-.11zM167.54 85.47l-.17 .12l.41 .22l-2.07 .67l1.36-1.69l.06 .46l.18-.12zM171.34 85.46l-.16 .13l.42 .2l-2.02 .81l1.24-1.79l.1 .46l.16-.13zM175.14 85.45l-.16 .14l.44 .17l-1.96 .95l1.11-1.87l.13 .45l.16-.14zM178.93 85.44l-.14 .15l.44 .14l-1.88 1.07l.98-1.93l.16 .44l.14-.15zM182.73 85.43l-.14 .16l.45 .11l-1.79 1.17l.85-1.97l.18 .42l.13-.15zM186.52 85.42l-.12 .16l.44 .08l-1.68 1.26l.71-1.98l.2 .4l.12-.16zM190.3 85.41l-.1 .16l.43 .05l-1.56 1.33l.58-1.97l.22 .38l.11-.17zM194.09 85.39l-.09 .17l.42 .02l-1.42 1.36l.43-1.92l.24 .35l.09-.16zM197.87 85.38l-.08 .16l.4 0l-1.26 1.37l.3-1.85l.24 .32l.08-.16zM201.65 85.36l-.06 .16l.37-.03l-1.1 1.35l.18-1.73l.24 .28l.06-.15zM205.43 85.35l-.05 .14l.33-.04l-.93 1.28l.07-1.58l.24 .24l.05-.14zM209.2 85.34l-.04 .13l.3-.06l-.76 1.18l-.02-1.4l.22 .2l.04-.13zM212.97 85.33l-.03 .11l.25-.06l-.59 1.02l-.07-1.18l.19 .16l.03-.11zM216.73 85.32l-.02 .08l.2-.05l-.42 .83l-.11-.93l.16 .12l.01-.09zM220.49 85.31l-.01 .06l.13-.05l-.26 .6l-.11-.64l.12 .07l.01-.06zM224.03 85.12h.36v.36h-.36zM227.82 85.12h.37v.37h-.37zM38.52 82.4h.37v.37h-.37zM42.3 82.4h.36v.36h-.36zM46.21 82.59l-.01-.06l-.12 .07l.12-.65l.26 .61l-.13-.05l.01 .07zM49.97 82.6l-.02-.09l-.16 .12l.13-.94l.41 .85l-.2-.06l.02 .09zM53.73 82.61l-.02-.11l-.2 .15l.1-1.18l.57 1.04l-.25-.06l.03 .11zM57.5 82.62l-.03-.13l-.23 .2l.05-1.4l.73 1.19l-.29-.06l.03 .13zM61.27 82.63l-.04-.14l-.24 .23l-.03-1.57l.89 1.3l-.34-.05l.05 .14zM65.05 82.64l-.06-.15l-.25 .27l-.12-1.71l1.04 1.36l-.36-.04l.06 .16zM68.83 82.65l-.07-.16l-.25 .31l-.23-1.82l1.19 1.39l-.39-.02l.07 .16zM72.61 82.67l-.08-.17l-.25 .33l-.34-1.89l1.33 1.39l-.41 .01l.08 .16zM76.39 82.68l-.09-.17l-.24 .36l-.46-1.94l1.46 1.37l-.43 .02l.1 .17zM80.18 82.69l-.11-.16l-.22 .38l-.58-1.97l1.57 1.32l-.44 .05l.11 .17zM83.97 82.7l-.12-.16l-.2 .4l-.71-1.96l1.67 1.25l-.44 .07l.12 .16zM87.76 82.71l-.13-.15l-.18 .42l-.84-1.94l1.77 1.15l-.44 .11l.13 .15zM91.56 82.72l-.14-.14l-.16 .43l-.96-1.9l1.85 1.05l-.44 .14l.14 .14zM95.35 82.73l-.15-.13l-.13 .43l-1.08-1.83l1.92 .93l-.43 .16l.15 .14zM99.15 82.74l-.16-.13l-.1 .45l-1.2-1.77l1.97 .82l-.41 .19l.15 .12zM102.94 82.75l-.16-.12l-.07 .46l-1.32-1.69l2.03 .68l-.41 .22l.17 .12zM106.74 82.76l-.17-.11l-.04 .46l-1.42-1.59l2.06 .54l-.39 .24l.17 .11zM110.54 82.76l-.18-.09l-.01 .46l-1.52-1.49l2.09 .4l-.37 .27l.18 .09zM114.34 82.77l-.19-.08l.03 .45l-1.62-1.37l2.1 .26l-.34 .29l.18 .08zM118.14 82.77l-.19-.06l.05 .45l-1.7-1.26l2.11 .11l-.33 .32l.19 .06zM121.94 82.78l-.2-.06l.09 .45l-1.79-1.13l2.11-.04l-.3 .33l.2 .06zM125.74 82.78l-.2-.04l.12 .44l-1.87-1l2.11-.19l-.28 .36l.2 .04zM129.54 82.79l-.2-.03l.15 .43l-1.94-.86l2.09-.35l-.25 .38l.2 .02zM133.34 82.79l-.2-.01l.18 .41l-2-.71l2.06-.5l-.22 .39l.2 .01zM137.14 82.79l-.2 0l.21 .41l-2.05-.57l2.02-.66l-.19 .41l.2 0zM140.94 82.79l-.2 .02l.24 .39l-2.1-.42l1.98-.81l-.16 .43l.2-.02zM144.74 82.79l-.2 .03l.27 .37l-2.14-.25l1.93-.97l-.13 .45l.2-.04zM148.54 82.79l-.2 .05l.31 .35l-2.18-.1l1.87-1.11l-.1 .45l.2-.05zM152.35 82.78l-.2 .07l.33 .33l-2.2 .07l1.8-1.27l-.07 .47l.2-.07zM156.15 82.78l-.2 .08l.36 .31l-2.21 .23l1.72-1.4l-.03 .47l.19-.08zM159.95 82.78l-.19 .09l.38 .29l-2.21 .39l1.63-1.54l0 .48l.2-.1zM163.75 82.77l-.19 .11l.41 .26l-2.19 .56l1.52-1.67l.04 .48l.19-.11zM167.55 82.76l-.18 .13l.43 .23l-2.17 .72l1.42-1.79l.07 .48l.18-.13zM171.35 82.76l-.17 .13l.45 .21l-2.13 .87l1.29-1.9l.11 .48l.17-.14zM175.15 82.75l-.17 .15l.47 .17l-2.08 1.02l1.17-1.99l.14 .47l.17-.15zM178.94 82.74l-.15 .16l.47 .14l-2 1.15l1.04-2.06l.17 .46l.15-.16zM182.74 82.72l-.14 .17l.48 .11l-1.91 1.27l.89-2.11l.2 .45l.14-.17zM186.53 82.71l-.13 .18l.48 .08l-1.8 1.37l.75-2.14l.22 .43l.13-.17zM190.32 82.7l-.12 .18l.48 .05l-1.68 1.44l.6-2.13l.25 .41l.11-.18zM194.1 82.68l-.09 .18l.45 .02l-1.53 1.49l.46-2.08l.26 .37l.1-.18zM197.89 82.67l-.09 .17l.44 0l-1.37 1.5l.32-2.01l.26 .34l.09-.17zM201.67 82.65l-.07 .17l.4-.03l-1.2 1.48l.19-1.89l.27 .3l.07-.17zM205.44 82.64l-.05 .16l.37-.05l-1.02 1.4l.07-1.73l.26 .27l.06-.16zM209.21 82.62l-.04 .15l.32-.06l-.83 1.29l-.01-1.54l.24 .22l.04-.14zM212.98 82.61l-.03 .12l.27-.06l-.64 1.13l-.09-1.3l.22 .18l.02-.12zM216.74 82.6l-.02 .1l.21-.07l-.46 .93l-.12-1.03l.18 .13l.01-.09zM220.5 82.59l-.01 .07l.14-.05l-.28 .66l-.13-.71l.13 .08l.01-.06zM224.03 82.4h.36v.36h-.36zM227.82 82.4h.37v.37h-.37zM38.52 79.69h.37v.37h-.37zM42.3 79.69h.36v.36h-.36zM46.2 79.88l-.01-.07l-.13 .08l.14-.72l.28 .68l-.15-.06l.01 .07zM49.96 79.88l-.02-.09l-.18 .12l.15-1.02l.44 .93l-.21-.07l.02 .1zM53.72 79.89l-.02-.12l-.22 .17l.12-1.29l.61 1.14l-.27-.07l.03 .12zM57.49 79.9l-.04-.14l-.24 .22l.06-1.52l.78 1.3l-.32-.07l.04 .14zM61.26 79.92l-.05-.16l-.26 .25l-.02-1.7l.95 1.41l-.36-.06l.05 .16zM65.04 79.93l-.07-.17l-.27 .29l-.11-1.85l1.11 1.48l-.39-.04l.06 .17zM68.81 79.94l-.07-.17l-.27 .32l-.23-1.96l1.27 1.51l-.42-.02l.07 .17zM72.6 79.96l-.09-.18l-.27 .35l-.34-2.04l1.41 1.51l-.45 0l.09 .18zM76.38 79.97l-.1-.18l-.25 .38l-.48-2.08l1.54 1.48l-.45 .02l.1 .18zM80.17 79.98l-.11-.17l-.24 .4l-.61-2.1l1.66 1.42l-.46 .05l.11 .17zM83.96 79.99l-.12-.17l-.22 .42l-.74-2.09l1.77 1.34l-.47 .08l.12 .17zM87.75 80l-.13-.16l-.2 .44l-.86-2.07l1.85 1.25l-.46 .11l.13 .16zM91.55 80.01l-.15-.15l-.17 .45l-.99-2.02l1.94 1.14l-.47 .13l.15 .16zM95.34 80.02l-.15-.14l-.14 .46l-1.12-1.95l2 1.01l-.45 .16l.16 .15zM99.14 80.03l-.17-.13l-.11 .46l-1.23-1.87l2.06 .88l-.44 .2l.16 .13zM102.94 80.04l-.18-.13l-.08 .48l-1.34-1.78l2.1 .74l-.42 .22l.17 .13zM106.73 80.05l-.17-.12l-.05 .48l-1.46-1.68l2.14 .6l-.41 .25l.18 .11zM110.53 80.05l-.18-.1l-.02 .48l-1.55-1.56l2.15 .44l-.38 .27l.18 .1zM114.33 80.06l-.19-.09l.02 .47l-1.65-1.44l2.17 .29l-.36 .3l.19 .09zM118.13 80.06l-.19-.07l.05 .47l-1.74-1.32l2.17 .14l-.34 .32l.2 .07zM121.93 80.07l-.2-.06l.09 .46l-1.83-1.18l2.18-.02l-.32 .34l.2 .06zM125.74 80.07l-.21-.04l.12 .45l-1.9-1.04l2.16-.18l-.29 .36l.2 .04zM129.54 80.07l-.21-.02l.15 .44l-1.98-.9l2.15-.34l-.26 .38l.2 .03zM133.34 80.08l-.21-.02l.18 .43l-2.04-.74l2.12-.51l-.24 .41l.21 .01zM137.14 80.08l-.21 0l.22 .41l-2.1-.58l2.07-.67l-.2 .42l.21 0zM140.94 80.08l-.21 .02l.25 .4l-2.15-.43l2.03-.83l-.17 .44l.21-.02zM144.74 80.08l-.2 .03l.28 .39l-2.2-.27l1.98-.99l-.14 .46l.21-.04zM148.55 80.08l-.21 .05l.31 .36l-2.23-.1l1.92-1.15l-.11 .47l.21-.05zM152.35 80.07l-.21 .07l.35 .35l-2.27 .07l1.85-1.31l-.06 .48l.2-.07zM156.15 80.07l-.2 .09l.37 .32l-2.28 .24l1.77-1.46l-.03 .49l.2-.08zM159.95 80.07l-.19 .1l.4 .29l-2.29 .42l1.68-1.61l0 .5l.2-.1zM163.76 80.06l-.2 .12l.43 .27l-2.28 .59l1.58-1.75l.04 .5l.19-.12zM167.56 80.05l-.21 .15l.45 .23l-2.24 .77l1.45-1.88l.08 .51l.2-.15zM171.35 80.04l-.21 .18l.47 .2l-2.19 .92l1.32-1.97l.12 .5l.21-.18zM175.15 80.03l-.21 .2l.48 .18l-2.12 1.06l1.18-2.05l.15 .48l.21-.2zM178.95 80.02l-.21 .22l.49 .15l-2.04 1.2l1.04-2.13l.18 .47l.21-.22zM182.74 80.01l-.18 .23l.49 .11l-1.96 1.33l.91-2.19l.2 .46l.19-.23zM186.54 80l-.16 .22l.5 .08l-1.88 1.45l.77-2.24l.24 .45l.16-.22zM190.33 79.99l-.12 .2l.5 .04l-1.78 1.57l.63-2.29l.26 .43l.13-.19zM194.12 79.97l-.11 .2l.5 .02l-1.65 1.61l.49-2.25l.28 .41l.1-.2zM197.9 79.96l-.09 .19l.47-.01l-1.47 1.64l.33-2.18l.29 .37l.09-.19zM201.68 79.94l-.07 .19l.44-.04l-1.3 1.61l.2-2.06l.29 .34l.07-.19zM205.46 79.93l-.06 .17l.4-.05l-1.11 1.54l.08-1.9l.28 .29l.06-.17zM209.23 79.91l-.05 .16l.36-.07l-.91 1.42l-.03-1.68l.27 .24l.04-.16zM212.99 79.9l-.03 .13l.3-.07l-.71 1.25l-.1-1.43l.24 .19l.03-.13zM216.75 79.89l-.02 .1l.23-.07l-.5 1.02l-.14-1.13l.2 .15l.01-.11zM220.5 79.88l-.01 .07l.17-.05l-.32 .73l-.14-.79l.14 .09l.01-.07zM224.03 79.69h.36v.36h-.36zM227.82 79.69h.37v.37h-.37zM38.52 76.97h.37v.37h-.37zM42.3 76.97h.36v.36h-.36zM46.2 77.16l-.01-.08l-.15 .1l.15-.79l.31 .74l-.16-.06l.01 .07zM49.95 77.17l-.02-.11l-.19 .14l.16-1.12l.48 1.02l-.23-.07l.01 .11zM53.71 77.18l-.03-.13l-.23 .18l.13-1.4l.66 1.24l-.29-.08l.03 .14zM57.48 77.19l-.04-.15l-.27 .23l.07-1.65l.85 1.42l-.35-.08l.04 .15zM61.25 77.2l-.05-.17l-.29 .28l-.01-1.85l1.02 1.54l-.39-.07l.05 .17zM65.02 77.22l-.06-.18l-.3 .31l-.11-2l1.19 1.61l-.42-.05l.06 .18zM68.8 77.23l-.08-.19l-.29 .35l-.23-2.11l1.35 1.64l-.45-.03l.08 .18zM72.58 77.24l-.09-.19l-.29 .38l-.35-2.18l1.5 1.62l-.48 0l.09 .19zM76.37 77.26l-.11-.19l-.27 .4l-.49-2.23l1.63 1.6l-.48 .02l.1 .19zM80.16 77.27l-.12-.19l-.26 .43l-.62-2.24l1.75 1.53l-.49 .05l.11 .18zM83.95 77.28l-.13-.18l-.24 .44l-.75-2.22l1.85 1.44l-.49 .08l.13 .18zM87.74 77.29l-.14-.17l-.21 .46l-.88-2.19l1.94 1.34l-.5 .1l.14 .18zM91.54 77.3l-.15-.16l-.19 .47l-1.01-2.13l2.02 1.22l-.49 .13l.15 .17zM95.33 77.31l-.16-.15l-.15 .47l-1.14-2.05l2.08 1.09l-.47 .16l.16 .16zM99.13 77.32l-.17-.14l-.12 .48l-1.26-1.96l2.13 .94l-.46 .2l.17 .14zM102.93 77.33l-.18-.13l-.09 .48l-1.37-1.86l2.17 .8l-.44 .22l.18 .14zM106.73 77.34l-.19-.12l-.05 .48l-1.48-1.75l2.2 .65l-.43 .25l.19 .12zM110.53 77.34l-.19-.1l-.02 .48l-1.58-1.63l2.21 .49l-.4 .28l.19 .1zM114.33 77.35l-.2-.09l.02 .48l-1.68-1.5l2.22 .33l-.37 .3l.19 .09zM118.13 77.35l-.2-.08l.05 .48l-1.77-1.37l2.23 .17l-.36 .33l.2 .07zM121.93 77.36l-.2-.07l.08 .47l-1.85-1.22l2.22 0l-.33 .35l.2 .06zM125.73 77.36l-.2-.05l.11 .46l-1.93-1.08l2.21-.16l-.3 .37l.2 .05zM129.53 77.36l-.21-.03l.15 .45l-2-.93l2.18-.33l-.27 .39l.21 .03zM133.34 77.36l-.21-.01l.18 .44l-2.07-.77l2.15-.5l-.24 .41l.21 .01zM137.14 77.36l-.21 .01l.21 .42l-2.13-.61l2.12-.66l-.21 .42l.21 0zM140.94 77.36l-.21 .02l.25 .41l-2.19-.44l2.07-.84l-.17 .45l.21-.02zM144.74 77.36l-.21 .04l.29 .39l-2.24-.27l2.02-1.01l-.14 .47l.21-.04zM148.55 77.36l-.21 .06l.32 .37l-2.28-.1l1.95-1.17l-.1 .47l.21-.05zM152.35 77.36l-.21 .07l.35 .35l-2.31 .09l1.89-1.35l-.07 .49l.21-.07zM156.15 77.36l-.2 .09l.38 .32l-2.34 .27l1.81-1.51l-.03 .5l.21-.09zM159.96 77.35l-.23 .12l.41 .3l-2.32 .44l1.69-1.65l.01 .51l.23-.12zM163.76 77.35l-.25 .15l.43 .27l-2.29 .61l1.57-1.77l.05 .5l.25-.15zM167.56 77.34l-.28 .19l.46 .24l-2.24 .78l1.44-1.89l.08 .51l.27-.2zM171.36 77.33l-.29 .24l.46 .2l-2.18 .94l1.31-1.99l.12 .5l.28-.24zM175.15 77.32l-.29 .28l.48 .17l-2.11 1.08l1.16-2.06l.16 .48l.29-.28zM178.95 77.31l-.29 .31l.49 .14l-2.04 1.22l1.03-2.14l.18 .48l.29-.32zM182.75 77.29l-.28 .35l.5 .1l-1.95 1.35l.88-2.2l.22 .46l.27-.34zM186.54 77.28l-.25 .35l.51 .08l-1.87 1.46l.75-2.25l.24 .45l.25-.35zM190.33 77.27l-.2 .34l.5 .04l-1.77 1.58l.61-2.29l.27 .43l.21-.34zM194.13 77.26l-.16 .29l.51 .02l-1.68 1.67l.48-2.32l.29 .42l.16-.3zM197.92 77.25l-.1 .21l.5-.01l-1.58 1.77l.35-2.35l.31 .4l.11-.21zM201.7 77.23l-.08 .2l.48-.04l-1.4 1.76l.2-2.24l.32 .36l.08-.2zM205.47 77.22l-.06 .18l.44-.06l-1.2 1.69l.07-2.07l.31 .32l.07-.19zM209.24 77.2l-.05 .17l.39-.07l-.99 1.55l-.03-1.84l.29 .26l.05-.17zM213 77.18l-.03 .15l.33-.08l-.77 1.37l-.12-1.57l.27 .22l.03-.15zM216.76 77.17l-.02 .12l.26-.08l-.56 1.13l-.15-1.25l.21 .16l.02-.12zM220.51 77.16l-.01 .09l.18-.07l-.35 .81l-.15-.87l.15 .11l.01-.09zM224.03 76.97h.36v.36h-.36zM227.82 76.97h.37v.37h-.37zM38.52 74.25h.37v.37h-.37zM42.3 74.25h.36v.36h-.36zM46.19 74.44l-.01-.08l-.16 .1l.17-.86l.33 .81l-.17-.07l.01 .09zM49.94 74.45l-.02-.11l-.21 .15l.17-1.22l.53 1.11l-.25-.08l.01 .12zM53.7 74.46l-.03-.14l-.26 .2l.15-1.52l.72 1.35l-.32-.09l.03 .15zM57.46 74.48l-.04-.17l-.29 .25l.09-1.78l.91 1.53l-.38-.08l.05 .16zM61.23 74.49l-.05-.18l-.31 .29l0-1.99l1.09 1.66l-.42-.07l.06 .18zM65.01 74.5l-.07-.19l-.32 .33l-.11-2.14l1.27 1.73l-.45-.06l.07 .2zM68.79 74.52l-.09-.2l-.32 .36l-.22-2.25l1.43 1.76l-.48-.04l.08 .2zM72.57 74.53l-.1-.2l-.31 .4l-.35-2.34l1.58 1.76l-.51-.02l.1 .21zM76.36 74.54l-.13-.24l-.29 .42l-.48-2.32l1.68 1.67l-.51 .02l.13 .24zM80.15 74.55l-.16-.26l-.27 .43l-.6-2.29l1.77 1.58l-.51 .04l.16 .27zM83.95 74.57l-.19-.27l-.24 .44l-.73-2.25l1.85 1.48l-.5 .07l.18 .27zM87.74 74.58l-.2-.26l-.22 .46l-.86-2.21l1.94 1.37l-.5 .1l.2 .26zM91.53 74.59l-.2-.24l-.19 .47l-.99-2.15l2.01 1.25l-.49 .13l.2 .24zM95.33 74.6l-.21-.21l-.16 .48l-1.12-2.09l2.09 1.13l-.48 .16l.2 .21zM99.13 74.61l-.2-.18l-.14 .49l-1.24-2.02l2.15 1l-.47 .19l.2 .18zM102.92 74.62l-.18-.15l-.1 .5l-1.38-1.94l2.21 .86l-.45 .22l.18 .15zM106.72 74.62l-.18-.12l-.07 .49l-1.48-1.82l2.24 .71l-.44 .24l.18 .13zM110.52 74.63l-.19-.11l-.03 .49l-1.59-1.69l2.26 .54l-.42 .27l.2 .11zM114.32 74.63l-.19-.09l0 .49l-1.68-1.56l2.26 .38l-.39 .29l.2 .1zM118.13 74.64l-.21-.08l.04 .48l-1.76-1.41l2.25 .2l-.36 .32l.2 .08zM121.93 74.64l-.21-.06l.08 .47l-1.85-1.26l2.24 .03l-.34 .35l.21 .06zM125.73 74.64l-.21-.04l.11 .46l-1.93-1.11l2.22-.14l-.3 .37l.21 .05zM129.53 74.65l-.21-.04l.15 .46l-2.01-.96l2.2-.3l-.27 .38l.21 .04zM133.33 74.65l-.21-.02l.18 .44l-2.07-.79l2.17-.48l-.25 .41l.22 .01zM137.14 74.65l-.22 0l.22 .43l-2.14-.63l2.13-.65l-.21 .42l.21 0zM140.94 74.65l-.21 .02l.25 .41l-2.2-.45l2.08-.84l-.17 .45l.21-.02zM144.75 74.65l-.22 .04l.29 .39l-2.25-.27l2.03-1.02l-.14 .47l.21-.04zM148.55 74.65l-.21 .05l.32 .38l-2.3-.09l1.97-1.19l-.1 .48l.21-.06zM152.35 74.65l-.21 .07l.36 .35l-2.34 .1l1.9-1.37l-.07 .5l.22-.08zM156.16 74.64l-.23 .1l.39 .33l-2.35 .28l1.8-1.53l-.02 .51l.23-.1zM159.96 74.64l-.27 .14l.42 .29l-2.33 .47l1.69-1.67l.01 .51l.27-.14zM163.76 74.63l-.3 .19l.43 .26l-2.28 .64l1.56-1.79l.05 .5l.3-.19zM167.56 74.62l-.33 .24l.45 .23l-2.23 .81l1.42-1.9l.09 .5l.33-.25zM171.36 74.61l-.35 .3l.46 .2l-2.17 .96l1.29-2l.12 .49l.35-.3zM175.16 74.6l-.37 .36l.48 .16l-2.1 1.11l1.15-2.08l.15 .48l.37-.36zM178.95 74.59l-.36 .41l.49 .13l-2.03 1.24l1.01-2.15l.19 .47l.36-.41zM182.75 74.58l-.36 .45l.5 .1l-1.94 1.36l.87-2.2l.22 .46l.35-.45zM186.54 74.57l-.33 .47l.51 .07l-1.86 1.48l.73-2.25l.25 .44l.33-.47zM190.33 74.55l-.28 .48l.5 .04l-1.76 1.59l.6-2.3l.27 .43l.29-.47zM194.13 74.54l-.24 .45l.51 .01l-1.67 1.69l.46-2.33l.3 .41l.24-.44zM197.92 74.53l-.18 .38l.51-.02l-1.57 1.78l.33-2.35l.32 .4l.18-.38zM201.71 74.52l-.11 .27l.51-.05l-1.47 1.86l.2-2.36l.34 .38l.11-.27zM205.49 74.5l-.07 .21l.48-.07l-1.3 1.84l.07-2.25l.34 .34l.07-.2zM209.26 74.49l-.06 .18l.43-.08l-1.08 1.71l-.04-2.02l.32 .29l.05-.19zM213.02 74.47l-.04 .16l.36-.09l-.84 1.51l-.13-1.72l.29 .23l.03-.16zM216.77 74.46l-.02 .13l.28-.09l-.61 1.24l-.17-1.37l.24 .17l.02-.13zM220.52 74.45l-.01 .09l.2-.07l-.39 .89l-.17-.96l.17 .12l.02-.09zM224.01 74.33h.41v.41h-.41zM227.82 74.25h.37v.37h-.37zM38.52 71.54h.37v.37h-.37zM42.27 71.42h.4v.4h-.4zM46.18 71.73l-.01-.09l-.17 .11l.18-.94l.36 .88l-.19-.07l.01 .09zM49.93 71.74l-.02-.13l-.23 .17l.19-1.33l.57 1.21l-.27-.09l.01 .13zM53.69 71.75l-.03-.16l-.28 .22l.16-1.65l.77 1.47l-.34-.1l.03 .16zM57.45 71.76l-.04-.18l-.32 .27l.1-1.92l.98 1.66l-.4-.09l.04 .18zM61.22 71.78l-.06-.2l-.33 .31l.01-2.13l1.17 1.79l-.46-.08l.06 .19zM64.99 71.79l-.07-.21l-.34 .36l-.1-2.3l1.35 1.86l-.49-.06l.07 .21zM68.78 71.81l-.11-.26l-.33 .38l-.22-2.36l1.48 1.85l-.51-.04l.11 .25zM72.57 71.82l-.15-.33l-.32 .4l-.34-2.35l1.58 1.77l-.51-.01l.15 .32zM76.36 71.83l-.19-.36l-.3 .41l-.45-2.33l1.66 1.69l-.51 .01l.19 .36zM80.15 71.84l-.22-.38l-.27 .43l-.58-2.3l1.75 1.6l-.51 .04l.22 .37zM83.94 71.85l-.24-.37l-.25 .45l-.7-2.27l1.83 1.51l-.5 .06l.24 .36zM87.74 71.86l-.26-.34l-.22 .45l-.83-2.22l1.91 1.4l-.5 .09l.26 .34zM91.53 71.87l-.26-.31l-.2 .47l-.95-2.17l1.99 1.29l-.49 .12l.26 .3zM95.33 71.88l-.26-.27l-.17 .48l-1.08-2.11l2.06 1.17l-.48 .15l.25 .26zM99.12 71.89l-.24-.23l-.14 .49l-1.21-2.04l2.13 1.04l-.47 .18l.24 .22zM102.92 71.9l-.22-.18l-.11 .49l-1.34-1.96l2.19 .9l-.46 .21l.22 .18zM106.72 71.91l-.2-.14l-.08 .5l-1.46-1.87l2.25 .75l-.45 .24l.2 .14zM110.52 71.91l-.19-.11l-.05 .5l-1.57-1.75l2.27 .59l-.42 .27l.19 .12zM114.32 71.92l-.2-.1l0 .49l-1.66-1.6l2.26 .42l-.4 .29l.2 .1zM118.12 71.92l-.2-.08l.03 .48l-1.75-1.45l2.26 .25l-.37 .32l.2 .08zM121.92 71.92l-.2-.06l.07 .47l-1.83-1.29l2.24 .07l-.34 .34l.2 .07zM125.73 71.93l-.21-.06l.1 .47l-1.91-1.13l2.22-.11l-.31 .36l.21 .05zM129.53 71.93l-.21-.04l.14 .46l-1.98-.97l2.19-.29l-.28 .39l.21 .03zM133.33 71.93l-.21-.02l.18 .44l-2.05-.8l2.15-.46l-.24 .4l.21 .02zM137.14 71.93l-.21 0l.21 .43l-2.12-.63l2.11-.65l-.21 .43l.22 0zM140.94 71.93l-.21 .02l.25 .41l-2.18-.45l2.07-.83l-.18 .45l.21-.02zM144.75 71.93l-.22 .04l.29 .39l-2.24-.27l2.02-1.01l-.14 .46l.21-.03zM148.55 71.93l-.21 .06l.32 .37l-2.29-.08l1.96-1.2l-.1 .48l.21-.05zM152.36 71.93l-.22 .08l.37 .35l-2.35 .11l1.89-1.39l-.06 .5l.21-.07zM156.16 71.93l-.24 .1l.39 .33l-2.35 .3l1.8-1.55l-.02 .51l.23-.11zM159.96 71.92l-.28 .15l.41 .29l-2.32 .5l1.67-1.69l.02 .51l.28-.16zM163.76 71.91l-.33 .21l.44 .26l-2.27 .67l1.53-1.81l.06 .5l.32-.21zM167.56 71.9l-.37 .28l.46 .23l-2.22 .83l1.39-1.92l.1 .5l.37-.28zM171.36 71.89l-.4 .35l.47 .19l-2.16 .99l1.26-2.01l.13 .49l.4-.35zM175.16 71.88l-.43 .43l.49 .15l-2.09 1.14l1.12-2.1l.16 .49l.42-.43zM178.95 71.87l-.43 .49l.49 .13l-2 1.26l.98-2.16l.19 .47l.43-.49zM182.75 71.86l-.43 .55l.5 .1l-1.92 1.38l.84-2.21l.22 .45l.43-.55zM186.54 71.85l-.4 .59l.5 .07l-1.83 1.5l.7-2.27l.25 .45l.41-.6zM190.34 71.84l-.37 .61l.51 .04l-1.75 1.6l.58-2.3l.27 .43l.36-.62zM194.13 71.82l-.31 .6l.5 .01l-1.65 1.7l.45-2.33l.29 .41l.31-.59zM197.92 71.81l-.25 .55l.51-.02l-1.56 1.78l.32-2.35l.32 .4l.25-.54zM201.71 71.8l-.17 .44l.5-.05l-1.46 1.87l.19-2.36l.35 .38l.17-.44zM205.5 71.79l-.09 .28l.5-.07l-1.36 1.94l.07-2.37l.36 .36l.09-.28zM209.27 71.78l-.05 .2l.46-.09l-1.17 1.86l-.05-2.2l.35 .32l.06-.21zM213.03 71.76l-.04 .18l.4-.1l-.92 1.65l-.14-1.89l.31 .26l.04-.18zM216.79 71.74l-.03 .15l.31-.1l-.67 1.36l-.19-1.5l.26 .19l.03-.14zM220.53 71.73l-.01 .1l.22-.07l-.43 .98l-.19-1.06l.19 .13l.02-.1zM223.99 71.61h.45v.45h-.45zM227.82 71.54h.37v.37h-.37zM38.52 68.82h.37v.37h-.37zM42.25 68.68h.44v.44h-.44zM46.17 69.01l-.01-.09l-.19 .11l.2-1.02l.4 .96l-.21-.08l.01 .1zM49.92 69.02l-.02-.13l-.25 .17l.21-1.43l.61 1.31l-.29-.09l.02 .13zM53.68 69.04l-.04-.17l-.3 .23l.18-1.79l.83 1.6l-.37-.11l.03 .17zM57.44 69.05l-.05-.19l-.34 .28l.12-2.07l1.04 1.79l-.43-.1l.04 .2zM61.2 69.07l-.06-.22l-.36 .34l.02-2.3l1.25 1.93l-.48-.09l.06 .21zM64.99 69.08l-.1-.3l-.36 .36l-.09-2.37l1.38 1.93l-.5-.06l.1 .29zM68.78 69.09l-.16-.4l-.34 .38l-.2-2.36l1.47 1.86l-.51-.04l.16 .39zM72.57 69.1l-.21-.46l-.32 .4l-.31-2.35l1.55 1.79l-.5-.02l.2 .45zM76.36 69.11l-.25-.48l-.3 .41l-.43-2.33l1.64 1.71l-.5 0l.24 .48zM80.15 69.12l-.28-.48l-.28 .42l-.54-2.3l1.72 1.62l-.5 .03l.27 .48zM83.94 69.13l-.29-.46l-.26 .44l-.67-2.27l1.81 1.53l-.5 .06l.29 .45zM87.73 69.14l-.3-.42l-.23 .45l-.79-2.23l1.89 1.43l-.5 .08l.3 .42zM91.53 69.15l-.3-.37l-.21 .46l-.91-2.19l1.96 1.33l-.49 .11l.3 .37zM95.32 69.16l-.29-.32l-.18 .48l-1.04-2.13l2.05 1.2l-.49 .15l.29 .31zM99.12 69.17l-.27-.26l-.15 .48l-1.17-2.06l2.11 1.08l-.48 .17l.27 .26zM102.92 69.18l-.25-.21l-.12 .5l-1.29-1.99l2.17 .95l-.46 .2l.24 .2zM106.71 69.19l-.21-.16l-.08 .5l-1.42-1.9l2.23 .81l-.46 .23l.21 .15zM110.51 69.19l-.19-.12l-.05 .5l-1.53-1.78l2.26 .65l-.43 .25l.19 .12zM114.32 69.2l-.2-.11l-.01 .49l-1.62-1.62l2.24 .46l-.4 .29l.19 .1zM118.12 69.2l-.2-.09l.02 .48l-1.7-1.47l2.23 .29l-.37 .31l.19 .09zM121.92 69.2l-.2-.07l.06 .47l-1.78-1.31l2.2 .12l-.34 .32l.2 .07zM125.72 69.21l-.2-.06l.1 .46l-1.86-1.14l2.18-.07l-.31 .35l.2 .05zM129.53 69.21l-.21-.04l.14 .45l-1.93-.98l2.14-.25l-.27 .37l.2 .04zM133.33 69.21l-.2-.02l.16 .43l-2-.8l2.12-.43l-.25 .39l.21 .02zM137.14 69.21l-.21 0l.2 .41l-2.06-.62l2.07-.62l-.21 .42l.21 0zM140.94 69.21l-.21 .02l.25 .4l-2.14-.44l2.03-.81l-.17 .43l.2-.01zM144.75 69.21l-.21 .04l.28 .38l-2.2-.26l1.98-.99l-.14 .45l.21-.03zM148.55 69.21l-.21 .06l.32 .36l-2.25-.06l1.92-1.19l-.1 .47l.21-.05zM152.36 69.21l-.21 .08l.36 .34l-2.31 .13l1.85-1.38l-.05 .49l.2-.07zM156.16 69.21l-.22 .1l.4 .32l-2.35 .33l1.78-1.57l-.02 .51l.22-.1zM159.96 69.2l-.27 .16l.42 .28l-2.31 .53l1.64-1.72l.02 .51l.28-.15zM163.76 69.19l-.33 .23l.44 .25l-2.26 .7l1.5-1.83l.07 .5l.33-.22zM167.56 69.18l-.38 .31l.46 .21l-2.21 .87l1.37-1.94l.1 .5l.38-.3zM171.36 69.17l-.43 .39l.48 .19l-2.14 1.02l1.22-2.03l.14 .49l.43-.39zM175.16 69.16l-.46 .48l.48 .15l-2.06 1.17l1.08-2.11l.17 .48l.46-.48zM178.96 69.15l-.49 .57l.5 .12l-1.99 1.29l.95-2.17l.2 .46l.48-.56zM182.75 69.14l-.48 .65l.5 .09l-1.91 1.41l.82-2.23l.22 .45l.49-.64zM186.54 69.13l-.46 .71l.5 .06l-1.82 1.52l.68-2.27l.26 .44l.46-.71zM190.34 69.12l-.44 .74l.51 .04l-1.73 1.62l.55-2.31l.28 .43l.43-.75zM194.13 69.11l-.38 .75l.5 0l-1.63 1.71l.42-2.33l.3 .41l.38-.75zM197.92 69.1l-.31 .7l.5-.02l-1.54 1.8l.3-2.35l.32 .39l.31-.71zM201.71 69.09l-.24 .61l.51-.05l-1.45 1.88l.18-2.37l.34 .38l.24-.62zM205.5 69.07l-.15 .46l.5-.07l-1.35 1.95l.06-2.37l.36 .35l.15-.46zM209.29 69.06l-.06 .24l.49-.1l-1.25 2.01l-.06-2.37l.38 .34l.06-.24zM213.05 69.05l-.04 .19l.43-.11l-1 1.8l-.16-2.05l.34 .28l.04-.2zM216.8 69.03l-.03 .16l.34-.11l-.73 1.5l-.21-1.65l.29 .21l.02-.16zM220.54 69.02l-.01 .11l.24-.09l-.47 1.09l-.21-1.16l.21 .13l.02-.11zM224.27 69.01l0 .06l.12-.05l-.22 .59l-.14-.62l.12 .07l0-.06zM227.82 68.82h.37v.37h-.37zM38.52 66.11h.37v.37h-.37zM42.23 65.94h.48v.48h-.48zM46.16 66.3l-.01-.11l-.2 .13l.21-1.11l.44 1.05l-.23-.09l.01 .11zM49.91 66.31l-.02-.15l-.28 .19l.23-1.55l.67 1.42l-.32-.1l.02 .15zM53.66 66.32l-.03-.18l-.33 .25l.2-1.93l.89 1.72l-.4-.11l.04 .18zM57.42 66.34l-.05-.21l-.36 .31l.13-2.23l1.11 1.93l-.46-.11l.05 .21zM61.2 66.35l-.09-.29l-.37 .34l.03-2.37l1.28 1.99l-.5-.09l.08 .3zM64.99 66.36l-.15-.44l-.36 .36l-.07-2.37l1.36 1.94l-.5-.07l.15 .44zM68.78 66.37l-.21-.53l-.34 .37l-.18-2.36l1.45 1.87l-.51-.05l.21 .54zM72.57 66.38l-.26-.58l-.32 .39l-.3-2.35l1.54 1.8l-.5-.02l.25 .58zM76.36 66.39l-.3-.59l-.3 .4l-.41-2.33l1.63 1.72l-.51 0l.29 .6zM80.15 66.4l-.32-.58l-.29 .42l-.52-2.31l1.71 1.65l-.51 .02l.32 .58zM83.94 66.41l-.34-.54l-.26 .44l-.63-2.29l1.78 1.56l-.5 .05l.33 .54zM87.73 66.42l-.34-.48l-.24 .44l-.75-2.25l1.87 1.47l-.51 .07l.34 .49zM91.53 66.43l-.33-.42l-.22 .46l-.87-2.21l1.94 1.37l-.5 .1l.33 .42zM95.32 66.44l-.31-.35l-.19 .47l-.99-2.16l2.01 1.26l-.49 .13l.31 .35zM99.11 66.45l-.27-.28l-.17 .48l-1.11-2.1l2.08 1.14l-.48 .16l.28 .28zM102.91 66.46l-.24-.22l-.13 .49l-1.24-2.02l2.15 1.01l-.48 .18l.24 .22zM106.71 66.47l-.2-.16l-.1 .5l-1.37-1.94l2.21 .87l-.46 .22l.2 .15zM110.51 66.47l-.18-.12l-.07 .49l-1.47-1.8l2.22 .7l-.44 .24l.19 .12zM114.31 66.48l-.18-.11l-.03 .48l-1.55-1.64l2.19 .52l-.4 .26l.19 .11zM118.12 66.48l-.19-.09l0 .47l-1.62-1.48l2.17 .34l-.37 .29l.19 .09zM121.92 66.48l-.19-.07l.04 .45l-1.7-1.31l2.14 .16l-.34 .31l.2 .08zM125.72 66.48l-.19-.05l.08 .44l-1.77-1.14l2.11-.02l-.31 .33l.19 .05zM129.53 66.48l-.2-.03l.12 .42l-1.84-.96l2.07-.21l-.27 .35l.19 .04zM133.33 66.48l-.2-.02l.16 .42l-1.91-.79l2.03-.39l-.24 .37l.2 .02zM137.13 66.49l-.19-.01l.19 .4l-1.97-.61l1.98-.58l-.2 .4l.2 0zM140.94 66.49l-.2 .01l.23 .39l-2.04-.43l1.94-.77l-.16 .42l.19-.02zM144.74 66.49l-.2 .03l.28 .37l-2.11-.24l1.89-.96l-.13 .43l.2-.03zM148.55 66.49l-.2 .05l.31 .35l-2.17-.04l1.84-1.16l-.09 .45l.2-.05zM152.36 66.49l-.2 .08l.35 .32l-2.24 .16l1.78-1.36l-.05 .47l.2-.07zM156.16 66.49l-.2 .1l.4 .3l-2.3 .37l1.72-1.57l-.01 .49l.2-.09zM159.97 66.48l-.24 .14l.43 .28l-2.3 .57l1.61-1.74l.03 .5l.24-.14zM163.77 66.47l-.31 .22l.45 .24l-2.25 .75l1.46-1.86l.08 .5l.31-.22zM167.57 66.46l-.38 .31l.47 .21l-2.19 .91l1.32-1.97l.12 .5l.37-.31zM171.37 66.45l-.44 .41l.48 .18l-2.12 1.06l1.18-2.05l.15 .48l.43-.41zM175.16 66.44l-.48 .52l.49 .14l-2.04 1.2l1.04-2.12l.18 .47l.48-.52zM178.96 66.43l-.51 .63l.49 .11l-1.96 1.33l.91-2.19l.21 .46l.51-.63zM182.75 66.42l-.52 .73l.5 .08l-1.88 1.44l.77-2.24l.24 .45l.52-.72zM186.55 66.41l-.52 .81l.5 .05l-1.79 1.55l.64-2.28l.26 .44l.52-.81zM190.34 66.4l-.49 .87l.5 .03l-1.71 1.64l.53-2.31l.28 .42l.49-.87zM194.13 66.39l-.44 .89l.5 0l-1.62 1.73l.4-2.33l.31 .4l.44-.89zM197.92 66.38l-.38 .87l.51-.03l-1.53 1.82l.28-2.36l.33 .39l.37-.87zM201.71 66.37l-.3 .79l.51-.05l-1.44 1.88l.16-2.36l.35 .37l.3-.79zM205.5 66.36l-.21 .64l.51-.08l-1.34 1.96l.04-2.37l.36 .35l.21-.64zM209.29 66.35l-.11 .41l.5-.1l-1.25 2.02l-.07-2.37l.38 .34l.11-.42zM213.07 66.33l-.05 .21l.47-.12l-1.08 1.97l-.19-2.24l.38 .3l.05-.21zM216.81 66.32l-.02 .17l.37-.12l-.8 1.64l-.23-1.81l.31 .23l.03-.17zM220.55 66.3l-.01 .13l.26-.1l-.51 1.2l-.23-1.28l.23 .15l.01-.13zM224.28 66.29l0 .07l.13-.06l-.25 .65l-.15-.68l.13 .08l.01-.07zM227.82 66.11h.37v.37h-.37zM38.52 63.39h.37v.37h-.37zM42.42 63.58l0-.07l-.12 .08l.14-.65l.24 .62l-.14-.06l.01 .07zM46.16 63.58l-.02-.11l-.22 .14l.23-1.21l.47 1.14l-.24-.1l.01 .12zM49.9 63.6l-.03-.17l-.3 .21l.25-1.68l.72 1.54l-.34-.11l.02 .16zM53.65 63.61l-.04-.2l-.36 .27l.22-2.07l.96 1.85l-.43-.12l.04 .19zM57.41 63.62l-.06-.23l-.39 .32l.15-2.37l1.18 2.06l-.49-.12l.05 .24zM61.2 63.63l-.13-.44l-.37 .34l.04-2.37l1.27 2l-.5-.09l.12 .44zM64.99 63.64l-.2-.58l-.36 .36l-.06-2.38l1.36 1.95l-.5-.07l.19 .58zM68.78 63.65l-.26-.67l-.34 .38l-.16-2.37l1.43 1.89l-.5-.06l.25 .67zM72.57 63.66l-.3-.7l-.33 .39l-.27-2.36l1.52 1.82l-.51-.03l.3 .7zM76.36 63.67l-.34-.7l-.31 .4l-.37-2.34l1.6 1.75l-.51 0l.33 .69zM80.15 63.68l-.36-.66l-.29 .41l-.48-2.32l1.68 1.67l-.51 .02l.36 .66zM83.94 63.69l-.37-.61l-.27 .43l-.59-2.3l1.76 1.6l-.51 .04l.37 .6zM87.73 63.7l-.36-.54l-.25 .44l-.7-2.26l1.83 1.51l-.5 .06l.36 .54zM91.52 63.71l-.34-.46l-.23 .46l-.81-2.23l1.91 1.41l-.5 .09l.34 .46zM95.32 63.72l-.31-.37l-.21 .46l-.93-2.18l1.98 1.31l-.49 .12l.3 .37zM99.11 63.73l-.27-.29l-.17 .48l-1.05-2.13l2.04 1.2l-.48 .14l.26 .29zM102.91 63.74l-.22-.21l-.15 .49l-1.17-2.06l2.11 1.07l-.48 .17l.22 .21zM106.7 63.74l-.17-.14l-.12 .49l-1.29-1.96l2.16 .92l-.46 .2l.17 .15zM110.51 63.75l-.18-.13l-.08 .48l-1.36-1.8l2.13 .75l-.43 .22l.17 .13zM114.31 63.75l-.18-.11l-.04 .46l-1.44-1.63l2.1 .57l-.4 .25l.18 .11zM118.11 63.75l-.17-.09l-.01 .45l-1.51-1.46l2.06 .39l-.36 .26l.18 .09zM121.92 63.75l-.18-.07l.03 .43l-1.58-1.29l2.03 .21l-.33 .29l.18 .07zM125.72 63.75l-.18-.05l.07 .42l-1.64-1.12l1.98 .03l-.3 .3l.19 .06zM129.52 63.75l-.18-.04l.11 .41l-1.71-.94l1.94-.15l-.26 .32l.18 .04zM133.33 63.76l-.18-.03l.14 .39l-1.77-.76l1.89-.34l-.22 .35l.18 .02zM137.13 63.76l-.18-.01l.18 .38l-1.84-.58l1.85-.53l-.19 .36l.19 .01zM140.94 63.76l-.19 .01l.22 .36l-1.9-.4l1.8-.71l-.15 .38l.19-.01zM144.74 63.76l-.18 .03l.25 .34l-1.97-.2l1.76-.92l-.11 .41l.18-.03zM148.55 63.76l-.19 .06l.3 .31l-2.04 0l1.71-1.12l-.08 .43l.19-.06zM152.36 63.76l-.19 .08l.34 .3l-2.11 .19l1.65-1.32l-.03 .45l.18-.08zM156.16 63.76l-.19 .1l.39 .28l-2.18 .4l1.59-1.54l.01 .48l.19-.1zM159.97 63.76l-.19 .12l.43 .26l-2.25 .62l1.54-1.76l.04 .5l.19-.12zM163.77 63.75l-.24 .19l.45 .23l-2.23 .81l1.41-1.91l.09 .5l.25-.18zM167.57 63.74l-.33 .29l.47 .2l-2.16 .97l1.27-2l.12 .49l.34-.29zM171.37 63.73l-.41 .41l.48 .16l-2.09 1.12l1.13-2.08l.16 .48l.41-.41zM175.17 63.72l-.47 .54l.49 .13l-2.02 1.25l.99-2.16l.2 .48l.47-.54zM178.96 63.71l-.52 .66l.5 .1l-1.93 1.38l.86-2.21l.22 .46l.51-.67zM182.75 63.7l-.54 .79l.5 .07l-1.85 1.48l.73-2.25l.25 .44l.54-.79zM186.55 63.69l-.55 .9l.5 .04l-1.77 1.58l.61-2.29l.27 .43l.55-.9zM190.34 63.68l-.54 .98l.51 .02l-1.68 1.67l.48-2.32l.3 .42l.53-.99zM194.13 63.67l-.5 1.03l.51-.01l-1.6 1.76l.37-2.35l.32 .4l.49-1.03zM197.92 63.66l-.43 1.03l.5-.03l-1.51 1.83l.26-2.36l.33 .38l.43-1.03zM201.71 63.65l-.35 .97l.5-.06l-1.42 1.9l.14-2.37l.35 .37l.35-.97zM205.5 63.64l-.26 .83l.5-.08l-1.33 1.96l.03-2.37l.37 .35l.26-.83zM209.29 63.63l-.16 .61l.5-.11l-1.24 2.03l-.08-2.37l.38 .33l.16-.61zM213.08 63.62l-.06 .28l.49-.12l-1.14 2.08l-.19-2.37l.39 .32l.06-.28zM216.83 63.6l-.03 .19l.41-.13l-.87 1.79l-.26-1.97l.34 .25l.03-.19zM220.56 63.59l-.01 .13l.29-.1l-.57 1.31l-.25-1.4l.26 .16l.01-.13zM224.29 63.58l-.01 .07l.15-.06l-.27 .71l-.17-.75l.15 .09l0-.07zM227.82 63.39h.37v.37h-.37zM38.52 60.67h.37v.37h-.37zM42.42 60.86l-.01-.07l-.13 .08l.16-.7l.25 .67l-.14-.06l0 .07zM46.15 60.87l-.02-.13l-.24 .15l.25-1.3l.51 1.23l-.26-.1l.01 .12zM49.88 60.88l-.02-.17l-.32 .22l.27-1.82l.77 1.67l-.37-.12l.02 .17zM53.63 60.9l-.04-.22l-.38 .29l.24-2.23l1.03 2l-.46-.13l.04 .21zM57.41 60.91l-.09-.39l-.39 .32l.15-2.37l1.17 2.06l-.49-.12l.09 .4zM61.2 60.92l-.17-.6l-.37 .34l.05-2.37l1.26 2.01l-.5-.1l.17 .6zM64.99 60.93l-.24-.73l-.36 .35l-.04-2.37l1.34 1.96l-.5-.08l.23 .73zM68.77 60.93l-.29-.79l-.34 .37l-.14-2.37l1.42 1.9l-.51-.06l.29 .8zM72.56 60.94l-.33-.81l-.34 .38l-.23-2.36l1.49 1.84l-.5-.03l.33 .81zM76.35 60.95l-.36-.79l-.32 .4l-.33-2.35l1.57 1.78l-.51-.02l.37 .79zM80.14 60.96l-.38-.74l-.3 .41l-.43-2.33l1.65 1.71l-.51 0l.38 .74zM83.93 60.97l-.37-.66l-.28 .42l-.54-2.31l1.72 1.63l-.51 .03l.38 .66zM87.73 60.98l-.36-.57l-.27 .43l-.63-2.28l1.79 1.55l-.51 .05l.36 .57zM91.52 60.99l-.33-.47l-.24 .44l-.75-2.25l1.86 1.47l-.5 .08l.33 .47zM95.31 61l-.28-.37l-.22 .46l-.86-2.22l1.93 1.38l-.5 .1l.29 .37zM99.1 61l-.23-.26l-.19 .47l-.97-2.17l2 1.28l-.49 .12l.23 .27zM102.9 61.01l-.17-.17l-.17 .48l-1.08-2.11l2.06 1.16l-.48 .16l.17 .17zM106.7 61.02l-.16-.15l-.13 .47l-1.16-1.95l2.04 .99l-.46 .17l.16 .15zM110.5 61.02l-.16-.13l-.09 .45l-1.23-1.77l2 .8l-.42 .2l.16 .12zM114.31 61.02l-.16-.11l-.06 .43l-1.29-1.6l1.95 .63l-.38 .21l.16 .11zM118.11 61.02l-.16-.1l-.03 .42l-1.34-1.42l1.91 .45l-.35 .23l.16 .09zM121.92 61.02l-.17-.08l.01 .4l-1.4-1.24l1.86 .27l-.31 .25l.16 .07zM125.72 61.02l-.16-.06l.04 .39l-1.46-1.08l1.81 .1l-.28 .26l.17 .06zM129.52 61.02l-.16-.04l.08 .37l-1.52-.9l1.76-.09l-.24 .29l.16 .04zM133.33 61.02l-.17-.02l.12 .35l-1.58-.72l1.72-.27l-.21 .31l.16 .02zM137.13 61.02l-.16 0l.15 .33l-1.64-.53l1.67-.46l-.18 .33l.17 0zM140.94 61.02l-.17 .02l.2 .32l-1.72-.35l1.63-.65l-.14 .34l.17-.01zM144.74 61.02l-.17 .04l.24 .3l-1.78-.16l1.57-.85l-.09 .37l.16-.03zM148.55 61.03l-.17 .05l.28 .28l-1.86 .04l1.53-1.05l-.06 .39l.17-.05zM152.35 61.03l-.17 .07l.32 .27l-1.93 .24l1.49-1.27l-.03 .42l.18-.07zM156.16 61.03l-.17 .09l.36 .25l-2.01 .45l1.44-1.48l.02 .44l.17-.1zM159.97 61.03l-.17 .12l.41 .23l-2.09 .66l1.38-1.7l.06 .46l.17-.12zM163.78 61.03l-.18 .14l.46 .21l-2.17 .88l1.33-1.93l.1 .49l.18-.14zM167.58 61.02l-.26 .24l.48 .18l-2.13 1.05l1.2-2.05l.14 .49l.26-.24zM171.38 61.01l-.35 .38l.48 .14l-2.05 1.19l1.06-2.12l.17 .48l.35-.38zM175.17 61l-.43 .52l.5 .12l-1.98 1.32l.92-2.19l.21 .46l.43-.52zM178.97 60.99l-.5 .68l.5 .08l-1.89 1.43l.79-2.23l.23 .45l.5-.68zM182.76 60.98l-.54 .83l.5 .05l-1.81 1.53l.67-2.27l.26 .44l.54-.83zM186.55 60.97l-.56 .96l.51 .04l-1.74 1.61l.56-2.3l.28 .42l.56-.96zM190.34 60.96l-.56 1.08l.51 .01l-1.65 1.7l.44-2.33l.3 .41l.56-1.08zM194.13 60.95l-.53 1.15l.51-.01l-1.57 1.77l.33-2.34l.32 .39l.53-1.15zM197.92 60.94l-.48 1.18l.51-.04l-1.49 1.85l.23-2.36l.33 .38l.48-1.18zM201.71 60.93l-.4 1.14l.5-.06l-1.4 1.91l.12-2.37l.35 .37l.4-1.14zM205.5 60.92l-.31 1.02l.5-.09l-1.31 1.98l.01-2.37l.37 .35l.31-1.02zM209.29 60.91l-.2 .8l.49-.11l-1.22 2.04l-.1-2.37l.39 .33l.2-.8zM213.08 60.9l-.1 .48l.49-.13l-1.13 2.08l-.2-2.36l.4 .31l.09-.47zM216.85 60.89l-.04 .2l.45-.14l-.95 1.95l-.28-2.14l.37 .27l.04-.21zM220.58 60.87l-.02 .15l.32-.11l-.62 1.44l-.28-1.54l.28 .18l.02-.15zM224.29 60.86l0 .08l.17-.07l-.31 .79l-.18-.82l.16 .09l0-.08zM227.82 60.67h.37v.37h-.37zM38.52 57.96h.37v.37h-.37zM42.41 58.15l0-.08l-.15 .09l.17-.77l.28 .73l-.15-.06l0 .07zM46.13 58.15l-.01-.13l-.26 .16l.27-1.42l.55 1.34l-.28-.11l.01 .14zM49.87 58.17l-.03-.19l-.35 .24l.3-1.96l.83 1.8l-.4-.13l.03 .18zM53.62 58.18l-.05-.25l-.4 .3l.26-2.35l1.08 2.11l-.49-.15l.05 .26zM57.41 58.19l-.13-.55l-.39 .33l.16-2.37l1.17 2.06l-.49-.12l.12 .55zM61.2 58.2l-.2-.75l-.38 .34l.06-2.37l1.25 2.02l-.5-.1l.21 .74zM64.99 58.21l-.27-.87l-.37 .36l-.02-2.38l1.32 1.97l-.5-.08l.27 .86zM68.77 58.22l-.32-.92l-.35 .37l-.12-2.37l1.4 1.91l-.5-.06l.32 .91zM72.56 58.22l-.36-.91l-.34 .38l-.2-2.36l1.47 1.86l-.51-.05l.37 .92zM76.35 58.23l-.38-.87l-.32 .4l-.29-2.36l1.53 1.81l-.5-.03l.38 .87zM80.14 58.24l-.38-.79l-.31 .4l-.38-2.34l1.6 1.75l-.5-.01l.38 .79zM83.93 58.25l-.37-.7l-.29 .42l-.47-2.33l1.67 1.69l-.51 .01l.37 .69zM87.72 58.25l-.34-.58l-.28 .43l-.56-2.3l1.74 1.61l-.51 .03l.34 .59zM91.51 58.26l-.29-.46l-.26 .44l-.66-2.28l1.8 1.54l-.5 .06l.3 .46zM95.3 58.27l-.23-.34l-.24 .45l-.76-2.25l1.87 1.46l-.5 .08l.24 .34zM99.1 58.28l-.17-.22l-.22 .46l-.86-2.21l1.93 1.37l-.5 .1l.18 .22zM102.9 58.28l-.15-.16l-.18 .45l-.94-2.08l1.93 1.22l-.48 .12l.15 .17zM106.7 58.28l-.14-.14l-.15 .43l-.99-1.9l1.87 1.04l-.44 .14l.15 .15zM110.5 58.28l-.14-.13l-.11 .42l-1.04-1.72l1.81 .86l-.4 .16l.14 .13zM114.31 58.28l-.14-.11l-.08 .39l-1.09-1.53l1.75 .69l-.36 .17l.14 .11zM118.11 58.28l-.14-.09l-.04 .37l-1.13-1.36l1.69 .52l-.33 .19l.14 .09zM121.92 58.28l-.14-.08l-.02 .36l-1.17-1.18l1.63 .34l-.29 .2l.14 .08zM125.72 58.28l-.14-.06l.02 .34l-1.22-1l1.57 .16l-.25 .22l.14 .06zM129.52 58.28l-.14-.04l.06 .32l-1.27-.83l1.52-.01l-.23 .24l.14 .04zM133.33 58.28l-.14-.02l.09 .3l-1.33-.65l1.47-.19l-.19 .26l.14 .02zM137.13 58.28l-.14 0l.13 .28l-1.39-.47l1.42-.37l-.15 .27l.14 .01zM140.94 58.28l-.15 .02l.17 .27l-1.46-.29l1.38-.57l-.11 .3l.14-.01zM144.74 58.28l-.14 .04l.21 .25l-1.53-.1l1.33-.76l-.08 .32l.15-.03zM148.55 58.29l-.15 .05l.25 .24l-1.61 .09l1.3-.97l-.04 .35l.14-.06zM152.35 58.29l-.14 .07l.29 .22l-1.69 .29l1.25-1.17l0 .37l.15-.08zM156.16 58.29l-.15 .09l.34 .21l-1.78 .49l1.21-1.39l.04 .39l.15-.09zM159.97 58.29l-.15 .12l.38 .19l-1.87 .7l1.17-1.62l.08 .42l.16-.11zM163.78 58.29l-.16 .14l.44 .17l-1.97 .93l1.13-1.85l.12 .44l.16-.13zM167.59 58.3l-.16 .16l.48 .15l-2.05 1.16l1.08-2.1l.16 .48l.16-.17zM171.38 58.29l-.26 .3l.5 .12l-1.99 1.3l.95-2.18l.2 .47l.26-.31zM175.18 58.28l-.36 .47l.5 .1l-1.91 1.4l.82-2.22l.23 .45l.35-.48zM178.97 58.27l-.44 .65l.5 .07l-1.83 1.5l.7-2.26l.25 .44l.44-.66zM182.76 58.26l-.5 .83l.5 .04l-1.76 1.59l.6-2.3l.27 .43l.5-.83zM186.55 58.25l-.54 1l.51 .02l-1.69 1.66l.49-2.32l.29 .42l.54-1zM190.34 58.24l-.56 1.14l.51 0l-1.61 1.74l.39-2.34l.3 .4l.57-1.14zM194.13 58.23l-.55 1.25l.51-.02l-1.54 1.81l.29-2.36l.33 .39l.55-1.25zM197.92 58.22l-.51 1.31l.51-.04l-1.46 1.86l.19-2.36l.34 .38l.51-1.31zM201.71 58.21l-.44 1.3l.5-.07l-1.38 1.93l.09-2.37l.36 .36l.44-1.29zM205.5 58.2l-.35 1.2l.5-.09l-1.3 1.99l-.01-2.37l.37 .34l.36-1.19zM209.29 58.2l-.25 .99l.5-.11l-1.21 2.04l-.11-2.37l.38 .33l.25-1zM213.08 58.19l-.14 .66l.49-.13l-1.12 2.09l-.21-2.36l.4 .31l.13-.67zM216.86 58.18l-.03 .22l.48-.15l-1.02 2.11l-.32-2.33l.41 .3l.04-.23zM220.59 58.16l-.02 .16l.35-.13l-.67 1.58l-.31-1.68l.31 .19l.01-.16zM224.3 58.15l0 .09l.18-.08l-.34 .87l-.19-.91l.17 .1l.01-.09zM227.82 57.96h.37v.37h-.37zM38.52 55.24h.37v.37h-.37zM42.4 55.43l0-.08l-.16 .09l.19-.83l.3 .8l-.17-.07l.01 .08zM46.12 55.44l-.01-.15l-.28 .18l.29-1.54l.6 1.45l-.31-.12l.01 .15zM49.86 55.45l-.03-.2l-.38 .26l.32-2.11l.89 1.94l-.43-.15l.03 .21zM53.62 55.47l-.07-.41l-.41 .3l.26-2.36l1.08 2.11l-.49-.14l.08 .41zM57.41 55.47l-.16-.7l-.39 .32l.17-2.36l1.16 2.07l-.5-.13l.16 .7zM61.2 55.48l-.24-.89l-.38 .34l.08-2.37l1.24 2.02l-.5-.1l.24 .89zM64.98 55.49l-.29-.99l-.37 .35l0-2.37l1.3 1.98l-.5-.09l.3 .99zM68.77 55.5l-.34-1.02l-.36 .36l-.08-2.37l1.37 1.93l-.5-.07l.34 1.02zM72.56 55.5l-.37-.99l-.35 .38l-.16-2.37l1.44 1.89l-.51-.06l.38 .99zM76.35 55.51l-.38-.92l-.33 .38l-.24-2.36l1.5 1.84l-.51-.03l.38 .92zM80.14 55.52l-.37-.82l-.32 .39l-.31-2.35l1.55 1.79l-.51-.02l.37 .82zM83.93 55.52l-.34-.69l-.31 .4l-.39-2.34l1.61 1.74l-.51 0l.35 .69zM87.72 55.53l-.3-.56l-.3 .41l-.46-2.32l1.67 1.68l-.51 .02l.3 .56zM91.51 55.54l-.24-.42l-.28 .42l-.54-2.31l1.72 1.63l-.51 .03l.24 .42zM95.3 55.54l-.17-.27l-.27 .43l-.62-2.29l1.78 1.57l-.51 .05l.17 .27zM99.09 55.55l-.12-.18l-.24 .43l-.69-2.2l1.78 1.45l-.49 .07l.13 .18zM102.9 55.55l-.12-.17l-.21 .41l-.73-2.01l1.71 1.28l-.45 .08l.13 .16zM106.7 55.54l-.12-.14l-.17 .38l-.76-1.81l1.64 1.1l-.42 .09l.12 .14zM110.51 55.54l-.12-.13l-.14 .37l-.79-1.63l1.56 .92l-.38 .11l.12 .13zM114.31 55.54l-.12-.11l-.1 .34l-.82-1.45l1.48 .76l-.34 .12l.12 .11zM118.11 55.54l-.11-.1l-.07 .32l-.85-1.26l1.4 .58l-.29 .14l.11 .09zM121.92 55.54l-.11-.08l-.04 .3l-.89-1.09l1.34 .42l-.26 .15l.11 .07zM125.72 55.53l-.11-.05l-.01 .27l-.92-.9l1.27 .24l-.22 .17l.11 .05zM129.52 55.53l-.11-.04l.03 .26l-.97-.73l1.22 .08l-.19 .17l.1 .04zM133.33 55.53l-.11-.02l.06 .24l-1.02-.56l1.16-.09l-.16 .19l.11 .03zM137.13 55.53l-.11 0l.1 .22l-1.07-.38l1.1-.27l-.12 .21l.11 0zM140.93 55.53l-.11 .02l.14 .2l-1.14-.2l1.06-.46l-.08 .24l.11-.02zM144.74 55.54l-.11 .03l.17 .19l-1.21-.02l1.02-.65l-.04 .25l.11-.03zM148.54 55.54l-.11 .05l.22 .18l-1.29 .16l.98-.85l-.01 .28l.11-.05zM152.35 55.54l-.12 .07l.26 .16l-1.38 .36l.96-1.06l.02 .31l.12-.07zM156.16 55.54l-.12 .1l.3 .14l-1.47 .56l.92-1.28l.06 .34l.12-.1zM159.97 55.55l-.13 .11l.35 .13l-1.57 .77l.89-1.51l.11 .36l.12-.11zM163.77 55.55l-.12 .14l.4 .12l-1.69 .98l.87-1.75l.14 .39l.13-.13zM167.58 55.56l-.13 .16l.45 .1l-1.79 1.2l.83-1.99l.19 .42l.13-.16zM171.39 55.56l-.14 .19l.5 .09l-1.89 1.43l.79-2.24l.23 .46l.15-.2zM175.19 55.55l-.26 .39l.5 .06l-1.82 1.52l.68-2.27l.26 .44l.26-.39zM178.98 55.54l-.36 .6l.51 .03l-1.76 1.6l.59-2.3l.27 .43l.36-.59zM182.77 55.53l-.44 .8l.51 .02l-1.69 1.67l.49-2.32l.29 .42l.44-.8zM186.56 55.53l-.5 1l.51 0l-1.63 1.73l.41-2.34l.3 .4l.5-1zM190.35 55.52l-.54 1.18l.51-.02l-1.56 1.79l.32-2.35l.32 .39l.53-1.18zM194.14 55.51l-.55 1.33l.51-.04l-1.49 1.84l.23-2.36l.33 .38l.55-1.32zM197.93 55.5l-.53 1.42l.51-.06l-1.43 1.9l.15-2.37l.35 .37l.52-1.41zM201.71 55.49l-.47 1.44l.51-.07l-1.36 1.95l.06-2.37l.36 .35l.47-1.44zM205.5 55.49l-.39 1.37l.5-.1l-1.28 2l-.03-2.37l.37 .34l.4-1.37zM209.29 55.48l-.29 1.18l.5-.11l-1.2 2.04l-.13-2.36l.39 .32l.29-1.18zM213.08 55.47l-.17 .86l.49-.13l-1.12 2.09l-.22-2.36l.4 .31l.17-.86zM216.87 55.46l-.06 .39l.48-.16l-1.02 2.14l-.33-2.35l.42 .3l.06-.39zM220.61 55.44l-.02 .18l.37-.14l-.73 1.72l-.34-1.84l.34 .22l.02-.18zM224.31 55.43l-.01 .1l.21-.08l-.37 .95l-.22-1l.19 .11l.01-.09zM227.82 55.24h.37v.37h-.37zM38.52 52.53h.37v.37h-.37zM42.4 52.71l-.01-.08l-.17 .1l.2-.91l.33 .87l-.18-.08l0 .09zM46.11 52.72l-.02-.16l-.3 .2l.32-1.66l.65 1.56l-.34-.13l.01 .16zM49.84 52.74l-.03-.22l-.4 .28l.34-2.26l.96 2.07l-.47-.15l.04 .22zM53.62 52.75l-.1-.57l-.41 .31l.26-2.36l1.08 2.11l-.49-.14l.11 .57zM57.41 52.76l-.19-.85l-.39 .31l.17-2.36l1.16 2.07l-.5-.12l.19 .85zM61.2 52.76l-.26-1.02l-.39 .33l.1-2.36l1.22 2.03l-.49-.11l.26 1.02zM64.98 52.77l-.31-1.1l-.38 .35l.03-2.37l1.28 1.99l-.5-.09l.32 1.1zM68.77 52.78l-.35-1.1l-.36 .35l-.05-2.37l1.34 1.96l-.5-.08l.35 1.1zM72.56 52.78l-.37-1.04l-.35 .36l-.11-2.36l1.4 1.91l-.51-.06l.37 1.04zM76.35 52.79l-.36-.95l-.34 .38l-.17-2.37l1.44 1.88l-.51-.05l.36 .95zM80.14 52.79l-.34-.81l-.33 .38l-.22-2.36l1.48 1.85l-.5-.04l.33 .81zM83.92 52.8l-.29-.67l-.32 .39l-.28-2.36l1.53 1.82l-.51-.03l.29 .67zM87.71 52.8l-.23-.5l-.32 .39l-.33-2.35l1.57 1.78l-.51-.01l.23 .5zM91.5 52.81l-.17-.34l-.3 .4l-.39-2.34l1.61 1.75l-.51-.01l.17 .34zM95.29 52.81l-.1-.2l-.3 .41l-.43-2.3l1.63 1.68l-.5 .01l.1 .2zM99.1 52.81l-.1-.18l-.26 .37l-.45-2.09l1.53 1.5l-.46 .02l.1 .18zM102.9 52.8l-.09-.16l-.23 .35l-.46-1.89l1.42 1.33l-.41 .02l.09 .16zM106.71 52.8l-.09-.14l-.2 .32l-.47-1.7l1.33 1.16l-.38 .04l.09 .14zM110.51 52.79l-.09-.12l-.16 .29l-.48-1.5l1.23 .99l-.34 .05l.09 .12zM114.31 52.79l-.08-.11l-.13 .27l-.5-1.31l1.14 .82l-.29 .06l.08 .11zM118.12 52.79l-.08-.09l-.1 .24l-.51-1.13l1.05 .66l-.26 .07l.08 .09zM121.92 52.78l-.08-.07l-.07 .22l-.53-.95l.97 .5l-.22 .08l.07 .07zM125.72 52.78l-.07-.06l-.04 .21l-.56-.78l.9 .34l-.19 .09l.07 .06zM129.52 52.78l-.07-.04l0 .18l-.59-.61l.82 .19l-.15 .1l.07 .04zM133.33 52.78l-.07-.02l.02 .16l-.63-.44l.77 .02l-.12 .12l.07 .02zM137.13 52.78l-.07-.01l.06 .15l-.68-.27l.71-.15l-.08 .13l.07 .01zM140.93 52.78l-.07 .01l.1 .13l-.74-.1l.67-.32l-.05 .15l.07-.01zM144.74 52.78l-.08 .03l.14 .11l-.81 .08l.63-.51l-.01 .17l.07-.02zM148.54 52.78l-.07 .05l.17 .1l-.89 .25l.6-.7l.02 .2l.08-.05zM152.35 52.79l-.08 .06l.21 .09l-.98 .44l.58-.91l.05 .23l.08-.07zM156.15 52.79l-.08 .09l.26 .08l-1.09 .62l.56-1.12l.1 .25l.08-.08zM159.96 52.8l-.09 .1l.31 .07l-1.2 .83l.55-1.35l.13 .28l.08-.11zM163.77 52.8l-.09 .13l.35 .06l-1.32 1.03l.53-1.59l.17 .32l.1-.13zM167.58 52.81l-.1 .15l.41 .04l-1.45 1.26l.52-1.85l.21 .35l.1-.15zM171.39 52.81l-.11 .18l.47 .03l-1.59 1.49l.51-2.12l.26 .39l.1-.18zM175.2 52.82l-.14 .25l.51 .02l-1.68 1.67l.48-2.32l.29 .42l.14-.26zM178.99 52.81l-.25 .49l.51 0l-1.63 1.72l.41-2.33l.3 .41l.25-.49zM182.77 52.8l-.34 .73l.51-.01l-1.58 1.77l.35-2.35l.31 .4l.34-.73zM186.56 52.8l-.42 .96l.51-.03l-1.53 1.81l.28-2.35l.33 .39l.42-.96zM190.35 52.79l-.48 1.18l.51-.04l-1.48 1.85l.22-2.36l.33 .38l.48-1.18zM194.14 52.79l-.51 1.36l.51-.06l-1.44 1.89l.16-2.36l.35 .37l.5-1.36zM197.93 52.78l-.51 1.49l.5-.06l-1.38 1.93l.09-2.37l.36 .36l.51-1.5zM201.72 52.77l-.48 1.56l.5-.08l-1.32 1.97l.02-2.37l.36 .35l.48-1.56zM205.5 52.77l-.41 1.52l.5-.1l-1.26 2.01l-.06-2.37l.38 .34l.41-1.52zM209.29 52.76l-.32 1.36l.5-.11l-1.19 2.05l-.14-2.36l.39 .32l.32-1.36zM213.08 52.75l-.21 1.06l.49-.14l-1.1 2.1l-.24-2.36l.41 .31l.2-1.06zM216.87 52.74l-.09 .58l.48-.16l-1.02 2.15l-.33-2.35l.42 .29l.09-.58zM220.62 52.73l-.02 .19l.41-.15l-.8 1.87l-.36-2l.36 .24l.02-.19zM224.32 52.72l-.01 .1l.22-.09l-.4 1.05l-.24-1.1l.21 .13l.01-.11zM227.82 52.53h.37v.37h-.37zM38.52 49.81h.37v.37h-.37zM42.39 50l-.01-.1l-.18 .11l.21-.99l.37 .95l-.2-.08l0 .09zM46.1 50.01l-.02-.17l-.33 .21l.34-1.8l.7 1.69l-.36-.14l.02 .17zM49.83 50.02l-.04-.3l-.42 .29l.35-2.34l1 2.15l-.48-.16l.04 .3zM53.62 50.03l-.13-.72l-.41 .3l.27-2.35l1.07 2.11l-.48-.14l.13 .72zM57.41 50.04l-.22-.99l-.39 .31l.19-2.36l1.14 2.08l-.49-.13l.21 .99zM61.2 50.05l-.28-1.14l-.39 .33l.12-2.37l1.2 2.04l-.49-.11l.28 1.14zM64.98 50.05l-.32-1.18l-.38 .34l.06-2.37l1.26 2.01l-.5-.1l.32 1.18zM68.77 50.06l-.34-1.15l-.37 .34l.01-2.37l1.29 1.99l-.5-.09l.35 1.15zM72.56 50.06l-.34-1.06l-.36 .35l-.04-2.37l1.34 1.96l-.51-.08l.34 1.06zM76.34 50.06l-.31-.93l-.36 .36l-.07-2.37l1.37 1.94l-.51-.07l.32 .93zM80.13 50.07l-.27-.78l-.35 .37l-.1-2.37l1.39 1.92l-.51-.07l.27 .78zM83.92 50.07l-.22-.6l-.35 .37l-.12-2.37l1.41 1.91l-.51-.06l.22 .6zM87.7 50.07l-.15-.41l-.34 .37l-.15-2.37l1.43 1.9l-.51-.05l.15 .4zM91.49 50.07l-.08-.21l-.35 .37l-.15-2.37l1.43 1.89l-.5-.05l.08 .21zM95.3 50.07l-.08-.2l-.31 .34l-.15-2.15l1.31 1.71l-.46-.04l.07 .19zM99.1 50.06l-.06-.18l-.29 .31l-.14-1.94l1.19 1.54l-.42-.04l.07 .18zM102.91 50.05l-.06-.15l-.25 .27l-.13-1.73l1.06 1.37l-.37-.03l.06 .15zM106.71 50.04l-.05-.13l-.22 .24l-.12-1.53l.94 1.21l-.33-.03l.06 .14zM110.51 50.04l-.04-.12l-.19 .21l-.11-1.33l.82 1.05l-.28-.02l.04 .12zM114.32 50.03l-.04-.1l-.17 .18l-.09-1.14l.71 .9l-.25-.02l.04 .1zM118.12 50.03l-.03-.09l-.14 .16l-.1-.97l.61 .76l-.2-.02l.03 .09zM121.92 50.02l-.03-.07l-.11 .13l-.1-.78l.52 .6l-.17-.01l.03 .07zM125.72 50.02l-.02-.05l-.08 .1l-.11-.61l.43 .45l-.14 0l.03 .05zM129.38 49.81h.37v.37h-.37zM133.17 49.81h.36v.36h-.36zM136.96 49.82h.35v.35h-.35zM140.74 49.81h.36v.36h-.36zM144.53 49.81h.36v.36h-.36zM148.23 49.87h.42v.42h-.42zM152.34 50.02l-.03 .07l.16 0l-.5 .53l.12-.72l.1 .12l.03-.06zM156.15 50.03l-.04 .08l.2-.01l-.61 .71l.12-.93l.13 .16l.03-.08zM159.95 50.03l-.04 .11l.25-.02l-.73 .9l.11-1.16l.17 .19l.04-.1zM163.76 50.04l-.05 .13l.3-.03l-.87 1.1l.12-1.4l.2 .23l.05-.13zM167.57 50.05l-.06 .15l.36-.03l-1.02 1.3l.13-1.65l.24 .26l.06-.15zM171.38 50.06l-.06 .17l.41-.04l-1.18 1.53l.14-1.93l.28 .31l.07-.17zM175.19 50.07l-.07 .2l.47-.05l-1.34 1.75l.15-2.2l.32 .35l.08-.2zM178.99 50.07l-.12 .34l.51-.06l-1.44 1.89l.16-2.36l.34 .37l.13-.34zM182.78 50.07l-.22 .6l.51-.05l-1.42 1.9l.14-2.37l.34 .37l.22-.61zM186.57 50.07l-.31 .87l.5-.07l-1.4 1.92l.12-2.37l.35 .36l.31-.86zM190.35 50.07l-.38 1.12l.51-.07l-1.38 1.93l.09-2.37l.35 .36l.39-1.12zM194.14 50.06l-.44 1.35l.51-.08l-1.35 1.95l.05-2.37l.36 .36l.44-1.35zM197.93 50.06l-.47 1.52l.5-.08l-1.31 1.97l.01-2.37l.37 .35l.46-1.52zM201.72 50.05l-.46 1.64l.5-.1l-1.28 2l-.04-2.37l.38 .34l.46-1.63zM205.5 50.05l-.41 1.64l.49-.1l-1.22 2.03l-.1-2.37l.39 .33l.41-1.64zM209.29 50.04l-.34 1.53l.49-.12l-1.16 2.06l-.17-2.36l.4 .32l.34-1.53zM213.08 50.03l-.24 1.25l.49-.14l-1.09 2.11l-.25-2.36l.41 .31l.23-1.25zM216.87 50.03l-.12 .76l.48-.15l-1.01 2.14l-.33-2.35l.41 .3l.12-.77zM220.64 50.02l-.02 .21l.44-.17l-.86 2.03l-.4-2.17l.39 .26l.03-.21zM224.33 50l-.01 .12l.25-.1l-.45 1.14l-.26-1.2l.23 .14l.01-.12zM227.82 49.81h.37v.37h-.37zM38.52 47.09h.37v.37h-.37zM42.38 47.28l-.01-.1l-.2 .12l.23-1.08l.4 1.03l-.22-.09l.01 .11zM46.08 47.3l-.02-.19l-.35 .23l.36-1.95l.77 1.83l-.4-.15l.02 .19zM49.83 47.31l-.06-.46l-.42 .29l.35-2.35l1 2.15l-.48-.16l.06 .46zM53.62 47.32l-.16-.88l-.4 .31l.27-2.36l1.07 2.12l-.49-.15l.16 .88zM57.41 47.32l-.24-1.12l-.39 .32l.2-2.36l1.13 2.08l-.49-.13l.23 1.12zM61.19 47.33l-.28-1.23l-.39 .32l.15-2.36l1.18 2.05l-.5-.11l.29 1.22zM64.98 47.33l-.31-1.23l-.38 .33l.1-2.37l1.22 2.04l-.5-.11l.31 1.23zM68.77 47.33l-.31-1.16l-.38 .34l.08-2.37l1.24 2.02l-.5-.11l.31 1.17zM72.55 47.34l-.28-1.04l-.38 .34l.07-2.37l1.25 2.01l-.5-.1l.28 1.04zM76.34 47.34l-.24-.88l-.38 .34l.06-2.37l1.26 2.01l-.5-.1l.24 .88zM80.13 47.34l-.19-.69l-.38 .34l.07-2.37l1.25 2.01l-.5-.1l.19 .69zM83.91 47.33l-.12-.48l-.38 .34l.08-2.37l1.23 2.03l-.49-.11l.12 .48zM87.7 47.33l-.07-.27l-.39 .33l.13-2.37l1.2 2.05l-.5-.12l.07 .27zM91.5 47.32l-.05-.2l-.36 .29l.16-2.19l1.07 1.92l-.46-.11l.05 .2zM95.3 47.31l-.03-.18l-.34 .25l.21-1.96l.91 1.75l-.41-.11l.04 .18zM99.11 47.3l-.03-.16l-.3 .21l.24-1.73l.75 1.58l-.35-.12l.02 .17zM102.91 47.29l-.01-.15l-.28 .18l.29-1.52l.59 1.43l-.31-.12l.02 .15zM106.72 47.28l-.01-.13l-.25 .15l.32-1.32l.46 1.28l-.27-.12l.01 .13zM110.52 47.27l0-.11l-.22 .11l.35-1.12l.32 1.13l-.22-.11l0 .11zM114.32 47.27l.01-.1l-.2 .08l.39-.93l.19 .99l-.18-.12l-.01 .1zM118.13 47.26l.01-.08l-.17 .05l.4-.76l.08 .86l-.15-.12l-.01 .08zM121.93 47.25l.02-.06l-.15 .02l.42-.58l-.03 .71l-.11-.11l-.02 .07zM125.59 46.94h.47v.47h-.47zM129.44 47.02h.36v.36h-.36zM133.17 47.09h.37v.37h-.37zM136.96 47.1h.36v.36h-.36zM140.75 47.1h.35v.35h-.35zM144.53 47.09h.36v.36h-.36zM148.36 47.15h.4v.4h-.4zM152.34 47.25l.02 .06l.09-.11l.07 .66l-.41-.51l.14 .01l-.03-.06zM156.14 47.26l.02 .07l.13-.11l-.04 .82l-.41-.71l.17 .04l-.02-.08zM159.95 47.26l.01 .1l.18-.12l-.18 .99l-.39-.92l.2 .07l-.01-.09zM163.75 47.27l.01 .12l.23-.12l-.33 1.17l-.37-1.16l.23 .11l0-.11zM167.56 47.28l0 .14l.28-.12l-.49 1.36l-.34-1.41l.27 .16l.01-.14zM171.37 47.29l-.02 .17l.35-.13l-.67 1.57l-.31-1.68l.31 .2l.02-.16zM175.18 47.31l-.03 .18l.41-.12l-.86 1.78l-.27-1.96l.35 .24l.03-.18zM179 47.32l-.05 .21l.48-.13l-1.07 2.02l-.22-2.27l.38 .3l.05-.22zM182.79 47.33l-.1 .43l.5-.12l-1.17 2.06l-.16-2.36l.39 .32l.1-.43zM186.57 47.33l-.17 .73l.49-.12l-1.2 2.05l-.12-2.37l.39 .33l.17-.73zM190.36 47.33l-.26 1.01l.5-.1l-1.23 2.03l-.09-2.37l.38 .33l.26-1.01zM194.15 47.33l-.34 1.28l.5-.11l-1.23 2.03l-.09-2.37l.38 .34l.34-1.28zM197.93 47.33l-.38 1.51l.49-.11l-1.22 2.03l-.1-2.37l.39 .33l.38-1.5zM201.72 47.33l-.41 1.66l.49-.11l-1.21 2.04l-.11-2.36l.39 .33l.41-1.67zM205.51 47.33l-.41 1.73l.5-.12l-1.18 2.06l-.15-2.37l.39 .32l.4-1.73zM209.29 47.32l-.35 1.66l.5-.12l-1.14 2.08l-.2-2.36l.4 .31l.35-1.66zM213.08 47.32l-.26 1.42l.49-.15l-1.08 2.12l-.26-2.36l.41 .3l.25-1.41zM216.87 47.31l-.15 .96l.49-.16l-1.01 2.15l-.34-2.35l.42 .29l.14-.96zM220.65 47.3l-.02 .24l.47-.17l-.92 2.18l-.43-2.33l.43 .27l.02-.24zM224.34 47.29l-.01 .12l.27-.1l-.49 1.25l-.28-1.31l.25 .14l.01-.12zM227.82 47.09h.37v.37h-.37zM38.52 44.38h.37v.37h-.37zM42.37 44.57l-.01-.12l-.22 .14l.25-1.18l.44 1.12l-.24-.09l.01 .11zM46.07 44.58l-.02-.2l-.39 .25l.39-2.1l.83 1.96l-.43-.16l.02 .21zM49.83 44.59l-.09-.61l-.41 .29l.34-2.35l1 2.15l-.48-.16l.09 .62zM53.62 44.6l-.18-1.01l-.41 .3l.28-2.35l1.07 2.12l-.49-.15l.18 1.01zM57.41 44.6l-.24-1.21l-.41 .31l.23-2.36l1.11 2.09l-.49-.13l.24 1.22zM61.19 44.61l-.27-1.28l-.4 .31l.2-2.36l1.14 2.08l-.49-.13l.27 1.28zM64.98 44.61l-.27-1.24l-.4 .32l.18-2.37l1.15 2.08l-.49-.13l.27 1.24zM68.77 44.61l-.25-1.13l-.4 .32l.18-2.36l1.16 2.07l-.5-.12l.25 1.12zM72.55 44.61l-.2-.96l-.4 .31l.21-2.36l1.13 2.08l-.49-.13l.2 .96zM76.34 44.6l-.15-.76l-.4 .31l.24-2.36l1.1 2.11l-.49-.14l.14 .76zM80.12 44.6l-.09-.55l-.41 .3l.31-2.35l1.04 2.13l-.49-.15l.09 .54zM83.91 44.59l-.04-.32l-.43 .28l.41-2.34l.95 2.17l-.48-.17l.04 .32zM87.7 44.58l-.01-.22l-.41 .25l.49-2.19l.79 2.09l-.44-.18l.01 .21zM91.51 44.56l0-.19l-.39 .19l.57-1.93l.59 1.93l-.38-.2l0 .2zM95.32 44.55l.01-.18l-.36 .15l.64-1.7l.4 1.78l-.33-.2l-.02 .17zM99.12 44.53l.03-.15l-.34 .1l.72-1.47l.21 1.63l-.28-.21l-.03 .16zM102.93 44.52l.03-.13l-.31 .06l.79-1.26l.03 1.48l-.23-.21l-.04 .14zM106.73 44.51l.05-.12l-.29 .02l.85-1.04l-.13 1.34l-.19-.22l-.05 .12zM110.53 44.5l.06-.1l-.27-.02l.91-.85l-.29 1.21l-.14-.22l-.06 .1zM114.33 44.49l.07-.09l-.24-.05l.96-.67l-.44 1.09l-.1-.23l-.07 .09zM118.13 44.48l.08-.07l-.22-.08l1-.5l-.56 .96l-.07-.23l-.08 .08zM121.93 44.47l.09-.05l-.21-.12l1.03-.33l-.67 .85l-.03-.23l-.09 .06zM125.73 44.47l.09-.05l-.18-.13l1.05-.18l-.78 .72l0-.22l-.09 .04zM129.53 44.46l.1-.03l-.16-.16l1.05-.03l-.86 .61l.03-.23l-.09 .04zM133.33 44.46l.1-.02l-.14-.17l1.04 .1l-.92 .48l.06-.21l-.1 .02zM137.13 44.46l.1-.01l-.11-.19l1.01 .25l-.98 .35l.09-.21l-.1 .01zM140.93 44.46l.1 .01l-.08-.21l.97 .38l-1.02 .22l.11-.19l-.1-.01zM144.73 44.46l.1 .02l-.06-.21l.92 .51l-1.05 .07l.14-.17l-.09-.02zM148.53 44.47l.1 .03l-.03-.22l.84 .65l-1.06-.09l.17-.15l-.09-.04zM152.33 44.47l.09 .05l.02-.23l.74 .79l-1.06-.25l.2-.13l-.09-.05zM156.14 44.48l.08 .07l.05-.24l.63 .94l-1.04-.44l.22-.1l-.08-.07zM159.94 44.48l.07 .09l.1-.24l.49 1.1l-1.01-.64l.25-.07l-.07-.08zM163.74 44.49l.07 .11l.15-.24l.33 1.26l-.97-.86l.28-.03l-.07-.1zM167.55 44.51l.05 .12l.21-.23l.15 1.43l-.92-1.11l.31 .02l-.05-.13zM171.36 44.52l.04 .15l.26-.23l-.05 1.62l-.85-1.38l.34 .07l-.04-.15zM175.17 44.53l.03 .18l.32-.23l-.27 1.82l-.78-1.66l.38 .12l-.03-.17zM178.98 44.55l.01 .2l.39-.22l-.5 2.03l-.7-1.97l.41 .18l-.01-.2zM182.8 44.57l-.01 .24l.46-.22l-.75 2.25l-.61-2.29l.44 .24l.01-.24zM186.58 44.58l-.05 .54l.47-.18l-.88 2.2l-.47-2.33l.43 .27l.05-.54zM190.37 44.59l-.12 .85l.48-.17l-.98 2.16l-.37-2.34l.42 .29l.11-.85zM194.15 44.6l-.2 1.14l.49-.14l-1.05 2.12l-.29-2.35l.41 .3l.19-1.15zM197.94 44.6l-.28 1.42l.49-.14l-1.09 2.1l-.25-2.36l.41 .31l.27-1.41zM201.72 44.6l-.33 1.64l.49-.14l-1.11 2.1l-.22-2.36l.4 .31l.33-1.63zM205.51 44.6l-.35 1.76l.49-.13l-1.12 2.09l-.22-2.36l.4 .31l.35-1.75zM209.29 44.6l-.33 1.76l.49-.14l-1.09 2.1l-.25-2.36l.4 .31l.34-1.75zM213.08 44.6l-.27 1.56l.49-.14l-1.05 2.12l-.29-2.35l.41 .3l.26-1.57zM216.87 44.59l-.17 1.14l.49-.16l-1 2.15l-.35-2.34l.41 .29l.17-1.14zM220.65 44.58l-.04 .42l.47-.18l-.92 2.19l-.43-2.33l.43 .27l.04-.41zM224.35 44.57l-.01 .14l.29-.12l-.53 1.37l-.31-1.43l.27 .16l.01-.14zM227.82 44.38h.37v.37h-.37zM38.52 41.66h.37v.37h-.37zM42.36 41.85l-.01-.12l-.24 .15l.27-1.3l.48 1.23l-.26-.1l.01 .12zM46.05 41.87l-.02-.22l-.41 .27l.4-2.26l.91 2.11l-.46-.17l.02 .22zM49.83 41.88l-.11-.77l-.42 .29l.35-2.34l1 2.14l-.48-.16l.11 .77zM53.62 41.88l-.19-1.12l-.41 .3l.29-2.35l1.05 2.12l-.48-.14l.19 1.12zM57.41 41.88l-.24-1.27l-.4 .3l.26-2.35l1.08 2.11l-.49-.14l.23 1.27zM61.19 41.88l-.23-1.28l-.41 .31l.26-2.36l1.08 2.11l-.49-.14l.24 1.28zM64.98 41.88l-.21-1.18l-.41 .3l.29-2.36l1.06 2.12l-.49-.14l.21 1.19zM68.76 41.88l-.15-1.03l-.42 .3l.34-2.35l1.01 2.14l-.48-.15l.15 1.02zM72.55 41.87l-.1-.82l-.42 .28l.41-2.34l.94 2.18l-.48-.17l.1 .82zM76.33 41.86l-.04-.6l-.43 .26l.52-2.31l.84 2.22l-.47-.2l.04 .6zM80.12 41.84l0-.37l-.46 .23l.68-2.27l.69 2.27l-.46-.23l0 .37zM83.91 41.83l.02-.22l-.46 .18l.83-2.14l.49 2.25l-.42-.26l-.02 .22zM87.72 41.81l.04-.2l-.44 .13l.95-1.88l.24 2.09l-.36-.27l-.03 .2zM91.53 41.79l.05-.18l-.41 .07l1.07-1.61l0 1.93l-.3-.28l-.06 .18zM95.33 41.77l.07-.15l-.39 .01l1.18-1.37l-.22 1.8l-.25-.3l-.07 .15zM99.14 41.76l.08-.14l-.36-.04l1.28-1.14l-.44 1.66l-.2-.31l-.08 .14zM102.94 41.74l.1-.12l-.35-.08l1.39-.93l-.65 1.54l-.14-.33l-.1 .13zM106.74 41.73l.12-.11l-.33-.12l1.48-.73l-.84 1.42l-.1-.34l-.11 .11zM110.54 41.72l.13-.1l-.31-.16l1.56-.54l-1.01 1.31l-.06-.35l-.12 .09zM114.34 41.7l.14-.07l-.29-.21l1.63-.36l-1.17 1.2l-.01-.35l-.14 .07zM118.14 41.69l.15-.06l-.28-.24l1.69-.19l-1.3 1.09l.02-.36l-.15 .06zM121.94 41.69l.16-.06l-.26-.26l1.73-.05l-1.42 1l.05-.37l-.16 .05zM125.74 41.68l.16-.04l-.24-.29l1.77 .1l-1.53 .89l.08-.37l-.16 .04zM129.54 41.67l.17-.02l-.23-.32l1.79 .23l-1.62 .79l.11-.36l-.17 .02zM133.33 41.67l.18-.02l-.21-.33l1.79 .36l-1.69 .69l.14-.37l-.17 .02zM137.13 41.67l.18-.01l-.19-.34l1.77 .48l-1.74 .57l.17-.35l-.18 0zM140.93 41.67l.18 .01l-.17-.36l1.74 .6l-1.78 .45l.19-.34l-.18-.01zM144.73 41.67l.17 .02l-.13-.37l1.68 .72l-1.8 .33l.21-.33l-.17-.02zM148.53 41.67l.17 .04l-.11-.38l1.61 .84l-1.8 .19l.23-.31l-.17-.03zM152.33 41.68l.16 .04l-.07-.37l1.52 .96l-1.8 .03l.26-.28l-.17-.05zM156.13 41.69l.16 .06l-.04-.38l1.4 1.09l-1.77-.14l.28-.26l-.16-.06zM159.93 41.69l.15 .08l0-.37l1.27 1.22l-1.73-.33l.3-.22l-.15-.08zM163.73 41.71l.14 .09l.05-.37l1.1 1.36l-1.67-.53l.33-.18l-.14-.1zM167.54 41.72l.12 .11l.1-.36l.91 1.51l-1.59-.76l.36-.14l-.13-.11zM171.34 41.73l.11 .14l.16-.35l.7 1.67l-1.5-1.02l.38-.08l-.11-.14zM175.15 41.75l.1 .16l.22-.34l.45 1.85l-1.4-1.3l.41-.03l-.09-.15zM178.96 41.77l.08 .18l.29-.33l.18 2.05l-1.28-1.61l.44 .04l-.07-.18zM182.78 41.79l.05 .21l.37-.31l-.11 2.25l-1.15-1.94l.47 .11l-.05-.21zM186.58 41.81l.05 .36l.42-.28l-.39 2.34l-.96-2.17l.48 .17l-.05-.36zM190.37 41.84l.02 .64l.45-.24l-.61 2.29l-.76-2.24l.46 .21l-.02-.65zM194.15 41.85l-.04 .96l.47-.21l-.78 2.24l-.58-2.3l.44 .25l.04-.96zM197.94 41.87l-.12 1.25l.47-.18l-.89 2.2l-.46-2.33l.43 .27l.12-1.26zM201.72 41.87l-.2 1.53l.48-.17l-.97 2.16l-.38-2.34l.42 .29l.2-1.53zM205.51 41.88l-.27 1.72l.49-.16l-1.02 2.14l-.33-2.35l.42 .3l.26-1.72zM209.29 41.88l-.28 1.79l.48-.16l-1.03 2.14l-.31-2.35l.41 .29l.29-1.78zM213.08 41.88l-.26 1.67l.49-.16l-1.03 2.14l-.32-2.34l.41 .29l.26-1.67zM216.87 41.87l-.18 1.3l.48-.16l-.98 2.16l-.37-2.35l.42 .29l.18-1.3zM220.65 41.87l-.06 .59l.48-.18l-.93 2.19l-.43-2.34l.43 .28l.06-.59zM224.37 41.86l-.02 .15l.32-.13l-.58 1.49l-.33-1.56l.29 .17l.01-.15zM227.82 41.66h.37v.37h-.37zM38.52 38.95h.37v.37h-.37zM42.35 39.14l-.02-.14l-.26 .17l.29-1.43l.54 1.35l-.29-.11l.01 .14zM46.05 39.15l-.04-.3l-.42 .28l.4-2.34l.95 2.18l-.48-.18l.04 .31zM49.83 39.16l-.13-.9l-.41 .29l.35-2.34l1 2.15l-.49-.16l.13 .9zM53.62 39.16l-.19-1.19l-.41 .3l.32-2.35l1.03 2.14l-.49-.16l.19 1.19zM57.41 39.16l-.2-1.27l-.41 .29l.33-2.35l1.01 2.15l-.48-.16l.19 1.27zM61.19 39.16l-.16-1.21l-.42 .28l.37-2.34l.98 2.16l-.48-.16l.16 1.21zM64.98 39.15l-.11-1.06l-.43 .27l.45-2.33l.91 2.2l-.48-.18l.11 1.06zM68.76 39.14l-.04-.86l-.44 .25l.57-2.3l.79 2.24l-.46-.21l.03 .86zM72.55 39.12l.01-.63l-.46 .21l.75-2.25l.62 2.29l-.45-.24l-.02 .63zM76.33 39.1l.05-.41l-.47 .17l.95-2.18l.4 2.34l-.42-.28l-.05 .42zM80.13 39.08l.05-.23l-.5 .11l1.19-2.05l.14 2.37l-.39-.32l-.05 .22zM83.93 39.05l.08-.2l-.48 .05l1.36-1.76l-.16 2.22l-.32-.35l-.08 .19zM87.74 39.03l.1-.18l-.46-.02l1.53-1.48l-.46 2.08l-.25-.38l-.1 .18zM91.55 39.01l.12-.16l-.44-.09l1.68-1.22l-.73 1.95l-.2-.4l-.12 .16zM95.35 38.99l.14-.14l-.42-.15l1.84-.97l-1 1.82l-.14-.42l-.14 .14zM99.15 38.97l.16-.13l-.4-.2l1.98-.74l-1.25 1.71l-.08-.44l-.16 .12zM102.95 38.95l.18-.11l-.39-.25l2.11-.53l-1.47 1.6l-.03-.46l-.18 .11zM106.76 38.93l.19-.09l-.38-.3l2.23-.34l-1.67 1.51l.01-.48l-.2 .09zM110.55 38.92l.21-.08l-.36-.34l2.33-.17l-1.86 1.43l.05-.5l-.21 .08zM114.35 38.91l.27-.08l-.35-.37l2.37 0l-1.98 1.31l.09-.5l-.26 .08zM118.15 38.91l.34-.08l-.32-.39l2.37 .14l-2.06 1.18l.12-.49l-.34 .08zM121.95 38.9l.41-.07l-.3-.41l2.35 .27l-2.11 1.07l.14-.48l-.41 .07zM125.75 38.9l.47-.06l-.29-.42l2.35 .37l-2.17 .98l.17-.48l-.47 .06zM129.54 38.9l.52-.05l-.26-.43l2.32 .48l-2.2 .88l.18-.47l-.52 .04zM133.34 38.9l.55-.03l-.25-.44l2.31 .57l-2.24 .79l.21-.46l-.56 .02zM137.13 38.9l.58-.01l-.23-.45l2.28 .66l-2.27 .71l.22-.46l-.57 .01zM140.93 38.9l.58 .02l-.22-.46l2.26 .74l-2.29 .62l.24-.45l-.58-.01zM144.72 38.9l.57 .04l-.19-.47l2.22 .83l-2.31 .53l.25-.44l-.57-.04zM148.52 38.9l.54 .06l-.17-.47l2.18 .92l-2.33 .43l.27-.43l-.54-.06zM152.32 38.9l.5 .08l-.15-.48l2.13 1.03l-2.35 .32l.3-.42l-.51-.08zM156.11 38.91l.45 .09l-.12-.49l2.07 1.15l-2.36 .18l.32-.39l-.45-.1zM159.91 38.91l.39 .11l-.1-.5l2 1.27l-2.37 .04l.34-.38l-.38-.1zM163.72 38.91l.3 .12l-.05-.51l1.9 1.42l-2.37-.14l.37-.35l-.31-.11zM167.52 38.92l.23 .11l-.01-.51l1.77 1.59l-2.35-.35l.4-.32l-.23-.11zM171.33 38.94l.19 .11l.04-.5l1.56 1.75l-2.26-.6l.42-.26l-.19-.12zM175.13 38.96l.18 .13l.1-.48l1.3 1.9l-2.13-.87l.45-.2l-.17-.14zM178.94 38.98l.15 .16l.17-.46l1.02 2.06l-1.98-1.16l.47-.14l-.15-.16zM182.75 39l.13 .19l.25-.44l.69 2.24l-1.81-1.49l.5-.06l-.13-.19zM186.56 39.03l.13 .29l.32-.4l.33 2.35l-1.57-1.78l.51 .02l-.13-.29zM190.36 39.06l.14 .48l.37-.34l-.02 2.37l-1.29-1.99l.5 .09l-.14-.48zM194.15 39.09l.11 .74l.42-.29l-.33 2.34l-1.02-2.14l.49 .16l-.12-.74zM197.94 39.12l.05 1.03l.44-.25l-.57 2.3l-.79-2.23l.47 .2l-.05-1.03zM201.73 39.13l-.04 1.34l.46-.22l-.75 2.25l-.62-2.29l.45 .24l.04-1.33zM205.51 39.15l-.13 1.58l.47-.19l-.87 2.21l-.49-2.32l.44 .26l.13-1.58zM209.3 39.15l-.21 1.74l.48-.17l-.94 2.17l-.41-2.33l.42 .28l.2-1.74zM213.08 39.16l-.22 1.71l.48-.17l-.97 2.17l-.38-2.35l.42 .29l.22-1.71zM216.87 39.16l-.18 1.41l.48-.16l-.96 2.16l-.39-2.34l.42 .29l.18-1.42zM220.65 39.15l-.08 .76l.48-.18l-.92 2.19l-.44-2.34l.43 .28l.08-.76zM224.38 39.14l-.01 .17l.34-.14l-.64 1.62l-.36-1.7l.32 .19l.02-.17zM227.82 38.95h.37v.37h-.37zM38.52 36.23h.37v.37h-.37zM42.33 36.43l-.01-.16l-.29 .19l.31-1.57l.6 1.48l-.32-.12l.02 .15zM46.05 36.44l-.06-.45l-.42 .28l.4-2.34l.95 2.17l-.48-.17l.06 .45zM49.83 36.44l-.13-.98l-.42 .28l.37-2.34l.98 2.16l-.48-.16l.13 .98zM53.62 36.44l-.15-1.19l-.43 .28l.39-2.34l.97 2.17l-.48-.17l.15 1.19zM57.4 36.43l-.12-1.18l-.43 .27l.45-2.33l.91 2.19l-.47-.18l.12 1.19zM61.19 36.42l-.05-1.05l-.45 .25l.57-2.3l.79 2.23l-.46-.2l.05 1.05zM64.97 36.41l.03-.86l-.46 .22l.73-2.26l.63 2.29l-.45-.24l-.02 .86zM68.76 36.38l.08-.63l-.48 .16l.97-2.16l.39 2.34l-.43-.29l-.08 .64zM72.55 36.35l.12-.44l-.5 .11l1.23-2.03l.09 2.37l-.38-.33l-.12 .44zM76.35 36.32l.13-.3l-.51 .03l1.52-1.82l-.26 2.36l-.33-.39l-.13 .3zM80.15 36.29l.14-.22l-.5-.05l1.78-1.56l-.63 2.29l-.26-.44l-.14 .22zM83.96 36.26l.17-.19l-.49-.13l2-1.26l-.98 2.16l-.19-.47l-.17 .19zM87.77 36.24l.23-.2l-.46-.2l2.16-.96l-1.28 2l-.12-.5l-.23 .2zM91.58 36.22l.33-.22l-.44-.25l2.27-.69l-1.51 1.82l-.07-.5l-.33 .22zM95.39 36.21l.46-.24l-.41-.3l2.33-.44l-1.7 1.65l-.01-.51l-.47 .24zM99.19 36.2l.6-.25l-.38-.33l2.36-.24l-1.84 1.5l.04-.51l-.61 .25zM102.99 36.2l.75-.25l-.36-.36l2.37-.07l-1.94 1.36l.07-.5l-.75 .25zM106.79 36.19l.89-.24l-.34-.38l2.38 .08l-2.02 1.24l.1-.5l-.89 .24zM110.59 36.19l1.02-.22l-.32-.4l2.37 .19l-2.08 1.15l.13-.5l-1.03 .22zM114.38 36.19l1.15-.2l-.3-.41l2.35 .29l-2.12 1.05l.14-.48l-1.14 .2zM118.18 36.19l1.25-.17l-.29-.42l2.35 .37l-2.16 .98l.16-.48l-1.25 .17zM121.97 36.19l1.34-.14l-.27-.43l2.33 .44l-2.19 .91l.18-.47l-1.34 .14zM125.76 36.19l1.42-.11l-.26-.44l2.32 .51l-2.22 .85l.2-.47l-1.42 .11zM129.55 36.19l1.48-.08l-.25-.44l2.3 .56l-2.23 .8l.2-.47l-1.47 .08zM133.34 36.18l1.52-.04l-.24-.45l2.29 .62l-2.25 .75l.22-.46l-1.52 .04zM137.13 36.18l1.55 0l-.23-.46l2.28 .67l-2.27 .7l.22-.46l-1.54 .01zM140.93 36.18l1.55 .03l-.22-.46l2.26 .73l-2.29 .64l.24-.45l-1.55-.03zM144.72 36.19l1.54 .06l-.21-.46l2.24 .77l-2.3 .59l.25-.45l-1.54-.06zM148.51 36.19l1.51 .1l-.2-.47l2.22 .83l-2.31 .53l.26-.44l-1.51-.1zM152.3 36.19l1.46 .14l-.18-.48l2.19 .9l-2.32 .46l.27-.43l-1.46-.14zM156.09 36.19l1.39 .18l-.16-.48l2.16 .96l-2.34 .39l.29-.42l-1.39-.18zM159.89 36.19l1.3 .21l-.15-.48l2.13 1.04l-2.35 .3l.29-.41l-1.3-.21zM163.69 36.19l1.18 .25l-.12-.49l2.08 1.14l-2.37 .19l.32-.39l-1.19-.26zM167.48 36.19l1.06 .29l-.1-.5l2.02 1.25l-2.37 .07l.34-.38l-1.07-.29zM171.28 36.2l.92 .31l-.07-.5l1.93 1.38l-2.37-.09l.37-.36l-.92-.31zM175.09 36.2l.76 .34l-.02-.51l1.81 1.54l-2.36-.29l.39-.32l-.77-.34zM178.89 36.21l.62 .36l.03-.51l1.64 1.71l-2.31-.53l.42-.28l-.62-.35zM182.7 36.23l.49 .36l.09-.5l1.41 1.91l-2.23-.82l.46-.22l-.49-.37zM186.52 36.25l.38 .39l.16-.48l1.11 2.1l-2.08-1.14l.48-.16l-.38-.39zM190.33 36.28l.31 .45l.24-.44l.75 2.25l-1.86-1.47l.5-.08l-.32-.45zM194.13 36.32l.27 .58l.32-.4l.34 2.35l-1.58-1.77l.51 .01l-.27-.58zM197.93 36.35l.22 .8l.38-.34l-.04 2.37l-1.27-2.01l.5 .1l-.23-.8zM201.72 36.38l.15 1.07l.42-.29l-.37 2.35l-.98-2.16l.48 .16l-.15-1.07zM205.51 36.41l.04 1.35l.45-.24l-.61 2.29l-.75-2.25l.46 .21l-.04-1.35zM209.3 36.42l-.07 1.58l.46-.21l-.78 2.24l-.58-2.3l.44 .25l.07-1.58zM213.08 36.43l-.14 1.66l.47-.19l-.88 2.2l-.48-2.32l.43 .27l.15-1.66zM216.87 36.44l-.16 1.47l.48-.18l-.92 2.19l-.44-2.33l.43 .27l.16-1.47zM220.65 36.44l-.09 .89l.48-.18l-.91 2.19l-.45-2.33l.43 .27l.09-.89zM224.39 36.43l-.01 .18l.38-.15l-.7 1.76l-.39-1.85l.35 .21l.01-.18zM227.82 36.23h.37v.37h-.37zM38.52 33.51h.37v.37h-.37zM42.32 33.71l-.02-.16l-.31 .2l.33-1.72l.67 1.62l-.35-.14l.01 .17zM46.05 33.72l-.07-.57l-.42 .28l.41-2.33l.94 2.17l-.48-.17l.07 .57zM49.83 33.72l-.1-1l-.43 .27l.43-2.33l.92 2.19l-.47-.18l.1 1zM53.62 33.71l-.08-1.09l-.44 .26l.52-2.32l.84 2.22l-.47-.19l.08 1.09zM57.4 33.7l0-1l-.45 .23l.68-2.27l.68 2.27l-.45-.23l0 1zM61.19 33.67l.08-.8l-.47 .17l.91-2.19l.44 2.33l-.42-.27l-.09 .81zM64.98 33.64l.15-.61l-.49 .11l1.2-2.04l.12 2.37l-.39-.33l-.15 .61zM68.78 33.61l.2-.47l-.51 .03l1.53-1.81l-.28 2.35l-.32-.39l-.2 .47zM72.58 33.57l.26-.39l-.5-.06l1.82-1.51l-.69 2.27l-.25-.44l-.26 .38zM76.4 33.54l.35-.37l-.49-.15l2.06-1.17l-1.07 2.11l-.17-.48l-.36 .37zM80.21 33.52l.49-.39l-.46-.22l2.22-.85l-1.38 1.93l-.1-.5l-.5 .39zM84.02 33.5l.68-.4l-.43-.28l2.31-.56l-1.62 1.74l-.03-.51l-.68 .4zM87.82 33.49l.9-.41l-.4-.32l2.35-.32l-1.78 1.56l.02-.5l-.9 .4zM91.63 33.48l1.11-.4l-.36-.35l2.36-.12l-1.9 1.4l.06-.5l-1.12 .4zM95.43 33.48l1.33-.38l-.34-.38l2.37 .03l-2 1.28l.1-.5l-1.34 .38zM99.22 33.47l1.54-.35l-.32-.39l2.37 .15l-2.06 1.18l.12-.5l-1.54 .36zM103.02 33.47l1.73-.32l-.31-.41l2.36 .26l-2.11 1.08l.14-.48l-1.73 .32zM106.81 33.47l1.91-.29l-.29-.41l2.34 .33l-2.14 1.02l.16-.49l-1.91 .29zM110.61 33.47l2.06-.25l-.28-.42l2.33 .4l-2.17 .95l.17-.48l-2.06 .25zM114.4 33.47l2.19-.21l-.27-.43l2.33 .45l-2.19 .9l.18-.47l-2.2 .21zM118.19 33.47l2.31-.18l-.26-.43l2.32 .5l-2.22 .86l.2-.48l-2.32 .18zM121.98 33.47l2.41-.14l-.25-.44l2.3 .55l-2.22 .81l.2-.47l-2.41 .14zM125.77 33.47l2.49-.11l-.25-.44l2.3 .58l-2.24 .78l.21-.46l-2.49 .1zM129.56 33.47l2.55-.07l-.24-.45l2.29 .62l-2.25 .74l.21-.46l-2.55 .07zM133.35 33.47l2.59-.04l-.23-.45l2.28 .65l-2.26 .72l.22-.46l-2.6 .03zM137.14 33.47l2.62 0l-.23-.46l2.27 .69l-2.27 .68l.23-.46l-2.62 0zM140.93 33.47l2.63 .03l-.23-.45l2.27 .71l-2.28 .65l.23-.45l-2.63-.04zM144.71 33.47l2.62 .07l-.21-.46l2.25 .74l-2.29 .62l.24-.45l-2.62-.07zM148.5 33.47l2.59 .11l-.21-.47l2.24 .78l-2.29 .59l.24-.45l-2.59-.11zM152.29 33.47l2.54 .15l-.2-.47l2.23 .82l-2.31 .54l.25-.44l-2.53-.15zM156.08 33.47l2.46 .19l-.19-.47l2.21 .85l-2.31 .51l.26-.44l-2.46-.19zM159.87 33.47l2.37 .23l-.18-.47l2.19 .9l-2.33 .46l.27-.43l-2.36-.24zM163.67 33.47l2.24 .28l-.17-.48l2.17 .96l-2.34 .4l.28-.43l-2.24-.28zM167.46 33.47l2.09 .33l-.15-.48l2.14 1.02l-2.35 .32l.29-.41l-2.09-.33zM171.25 33.47l1.92 .38l-.13-.49l2.1 1.11l-2.36 .23l.31-.4l-1.92-.38zM175.05 33.48l1.72 .42l-.11-.49l2.04 1.21l-2.37 .11l.33-.39l-1.72-.42zM178.85 33.48l1.5 .47l-.08-.5l1.96 1.33l-2.37-.03l.35-.36l-1.5-.48zM182.65 33.49l1.26 .51l-.04-.51l1.85 1.49l-2.36-.23l.38-.33l-1.26-.51zM186.46 33.5l1.02 .54l.01-.51l1.68 1.67l-2.32-.47l.41-.29l-1.01-.54zM190.27 33.51l.79 .57l.08-.51l1.44 1.89l-2.24-.78l.45-.23l-.78-.57zM194.09 33.54l.59 .59l.16-.48l1.12 2.09l-2.09-1.13l.49-.16l-.6-.59zM197.9 33.57l.45 .67l.25-.44l.71 2.26l-1.84-1.5l.51-.07l-.46-.67zM201.71 33.61l.34 .82l.33-.39l.26 2.36l-1.51-1.83l.5 .03l-.34-.82zM205.51 33.65l.24 1.05l.39-.33l-.16 2.37l-1.17-2.06l.49 .12l-.24-1.05zM209.3 33.68l.11 1.3l.43-.27l-.48 2.33l-.88-2.21l.48 .19l-.12-1.3zM213.08 33.7l-.01 1.47l.45-.22l-.7 2.27l-.66-2.28l.45 .23l.02-1.48zM216.87 33.71l-.1 1.43l.47-.19l-.83 2.22l-.53-2.31l.44 .25l.1-1.43zM220.65 33.72l-.08 .97l.47-.18l-.88 2.2l-.48-2.32l.43 .26l.09-.97zM224.41 33.71l-.02 .2l.41-.17l-.75 1.9l-.42-1.99l.37 .22l.02-.19zM227.82 33.51h.37v.37h-.37zM38.52 30.8h.37v.37h-.37zM42.31 31l-.02-.18l-.34 .21l.37-1.85l.71 1.75l-.38-.15l.02 .18zM46.05 31l-.06-.6l-.43 .27l.48-2.33l.88 2.21l-.47-.19l.05 .6zM49.83 30.99l-.03-.88l-.45 .24l.6-2.3l.76 2.25l-.46-.21l.03 .88zM53.62 30.97l.04-.85l-.46 .2l.81-2.23l.55 2.3l-.44-.25l-.05 .85zM57.41 30.93l.14-.7l-.49 .14l1.12-2.09l.21 2.36l-.39-.31l-.15 .7zM61.21 30.89l.22-.55l-.5 .04l1.49-1.85l-.23 2.36l-.34-.38l-.22 .56zM65.01 30.85l.33-.48l-.5-.07l1.84-1.5l-.71 2.27l-.25-.45l-.33 .49zM68.83 30.82l.49-.48l-.48-.17l2.1-1.11l-1.14 2.08l-.16-.48l-.49 .48zM72.64 30.79l.73-.5l-.44-.25l2.25-.73l-1.48 1.85l-.07-.5l-.73 .51zM76.46 30.78l1.01-.52l-.41-.31l2.34-.43l-1.71 1.65l-.01-.51l-1.02 .52zM80.26 30.77l1.33-.52l-.37-.34l2.36-.19l-1.87 1.46l.05-.51l-1.33 .52zM84.07 30.76l1.64-.5l-.35-.36l2.37-.01l-1.97 1.31l.08-.5l-1.64 .5zM87.87 30.76l1.94-.47l-.33-.39l2.37 .14l-2.05 1.19l.11-.49l-1.94 .46zM91.66 30.76l2.22-.43l-.3-.4l2.35 .24l-2.1 1.1l.14-.49l-2.22 .42zM95.46 30.76l2.47-.39l-.29-.41l2.35 .33l-2.14 1.02l.15-.49l-2.48 .38zM99.25 30.75l2.7-.33l-.28-.42l2.34 .39l-2.17 .96l.17-.48l-2.71 .34zM103.04 30.75l2.91-.29l-.27-.43l2.33 .45l-2.19 .91l.18-.48l-2.92 .3zM106.83 30.75l3.09-.25l-.26-.43l2.32 .49l-2.21 .87l.19-.48l-3.09 .26zM110.62 30.75l3.25-.21l-.26-.44l2.32 .53l-2.23 .83l.2-.47l-3.25 .22zM114.41 30.75l3.39-.17l-.25-.44l2.3 .56l-2.23 .8l.2-.47l-3.39 .18zM118.2 30.75l3.5-.14l-.24-.44l2.29 .59l-2.24 .77l.21-.46l-3.5 .14zM121.99 30.75l3.6-.11l-.24-.44l2.29 .61l-2.25 .75l.21-.46l-3.6 .11zM125.77 30.75l3.68-.07l-.23-.45l2.28 .63l-2.26 .73l.22-.46l-3.68 .08zM129.56 30.75l3.74-.04l-.23-.46l2.28 .66l-2.26 .71l.22-.46l-3.74 .05zM133.35 30.75l3.78-.02l-.23-.45l2.28 .67l-2.27 .69l.22-.45l-3.78 .02zM137.14 30.75l3.8 .01l-.22-.45l2.27 .69l-2.28 .67l.23-.45l-3.8-.01zM140.92 30.75l3.82 .04l-.22-.45l2.26 .7l-2.28 .66l.23-.45l-3.81-.04zM144.71 30.75l3.8 .07l-.21-.46l2.25 .73l-2.28 .64l.24-.45l-3.81-.07zM148.5 30.75l3.77 .1l-.21-.46l2.25 .74l-2.29 .62l.24-.44l-3.77-.1zM152.29 30.75l3.72 .14l-.21-.47l2.24 .76l-2.29 .61l.24-.45l-3.72-.13zM156.08 30.75l3.64 .17l-.2-.46l2.24 .78l-2.3 .58l.24-.45l-3.64-.16zM159.87 30.75l3.55 .21l-.2-.47l2.23 .81l-2.31 .55l.25-.44l-3.55-.2zM163.65 30.75l3.44 .25l-.2-.47l2.22 .84l-2.32 .52l.26-.44l-3.43-.24zM167.44 30.75l3.29 .3l-.19-.48l2.2 .89l-2.32 .47l.27-.43l-3.29-.29zM171.24 30.75l3.1 .35l-.18-.48l2.18 .93l-2.33 .43l.28-.43l-3.11-.34zM175.03 30.75l2.89 .4l-.17-.48l2.16 .99l-2.34 .36l.29-.42l-2.9-.39zM178.82 30.76l2.64 .45l-.14-.48l2.12 1.06l-2.36 .28l.31-.41l-2.65-.46zM182.62 30.76l2.36 .52l-.13-.5l2.07 1.16l-2.36 .17l.32-.39l-2.36-.52zM186.42 30.76l2.03 .58l-.09-.5l2 1.27l-2.37 .04l.34-.37l-2.04-.58zM190.22 30.77l1.69 .63l-.05-.51l1.89 1.43l-2.37-.15l.37-.35l-1.69-.63zM194.03 30.78l1.33 .67l0-.51l1.72 1.63l-2.33-.41l.4-.31l-1.33-.67zM197.84 30.79l.99 .7l.07-.5l1.47 1.86l-2.25-.75l.45-.24l-.99-.69zM201.66 30.82l.7 .72l.17-.48l1.08 2.11l-2.07-1.16l.49-.15l-.7-.72zM205.48 30.86l.48 .8l.27-.43l.6 2.29l-1.77-1.59l.51-.04l-.48-.79zM209.29 30.91l.32 .95l.35-.36l.09 2.37l-1.38-1.94l.51 .07l-.33-.95zM213.08 30.95l.17 1.14l.41-.29l-.34 2.35l-1.01-2.15l.49 .16l-.17-1.15zM216.87 30.98l.02 1.22l.45-.23l-.63 2.28l-.73-2.26l.46 .22l-.03-1.23zM220.65 30.99l-.05 .95l.47-.21l-.8 2.24l-.56-2.31l.44 .25l.05-.94zM224.42 30.99l-.01 .21l.42-.18l-.75 2.02l-.48-2.1l.39 .23l.02-.2zM227.82 30.8h.37v.37h-.37zM38.52 28.08h.37v.37h-.37zM42.29 28.27l0-.19l-.38 .21l.5-1.95l.65 1.9l-.39-.18l.01 .2zM46.04 28.26l0-.51l-.45 .23l.68-2.27l.68 2.27l-.45-.23l0 .51zM49.83 28.23l.09-.63l-.48 .17l.99-2.16l.36 2.34l-.42-.28l-.09 .63zM53.63 28.19l.2-.55l-.51 .06l1.4-1.91l-.11 2.37l-.36-.37l-.19 .55zM57.44 28.14l.34-.51l-.5-.06l1.82-1.51l-.69 2.26l-.25-.44l-.34 .51zM61.26 28.1l.58-.54l-.47-.18l2.13-1.04l-1.21 2.04l-.14-.49l-.58 .54zM65.08 28.07l.94-.58l-.43-.27l2.29-.61l-1.58 1.77l-.04-.5l-.94 .58zM68.9 28.06l1.36-.6l-.39-.32l2.35-.29l-1.81 1.53l.03-.5l-1.36 .59zM72.7 28.05l1.81-.58l-.36-.36l2.37-.05l-1.95 1.34l.08-.5l-1.81 .58zM76.51 28.04l2.22-.54l-.33-.39l2.37 .13l-2.04 1.2l.11-.5l-2.23 .54zM80.3 28.04l2.63-.49l-.31-.41l2.36 .25l-2.11 1.09l.14-.49l-2.62 .5zM84.1 28.04l2.98-.44l-.29-.42l2.35 .35l-2.15 1l.16-.48l-2.98 .44zM87.89 28.04l3.31-.39l-.28-.42l2.33 .41l-2.17 .94l.17-.48l-3.31 .39zM91.68 28.04l3.59-.34l-.26-.43l2.32 .47l-2.2 .89l.19-.48l-3.59 .34zM95.47 28.04l3.85-.29l-.26-.44l2.32 .51l-2.22 .85l.19-.47l-3.84 .29zM99.26 28.04l4.07-.25l-.25-.44l2.31 .54l-2.23 .82l.2-.47l-4.07 .25zM103.05 28.04l4.27-.21l-.25-.44l2.3 .57l-2.23 .79l.2-.47l-4.27 .21zM106.84 28.04l4.44-.17l-.25-.45l2.3 .59l-2.24 .77l.21-.46l-4.44 .17zM110.63 28.04l4.58-.14l-.24-.45l2.29 .61l-2.24 .75l.21-.46l-4.59 .14zM114.41 28.04l4.72-.11l-.24-.45l2.29 .63l-2.26 .73l.22-.46l-4.71 .11zM118.2 28.04l4.82-.09l-.23-.45l2.28 .64l-2.26 .73l.22-.46l-4.82 .08zM121.99 28.04l4.91-.06l-.23-.45l2.28 .65l-2.27 .71l.22-.46l-4.91 .06zM125.78 28.04l4.98-.04l-.23-.45l2.27 .66l-2.26 .7l.22-.46l-4.98 .04zM129.56 28.04l5.04-.02l-.23-.45l2.27 .67l-2.27 .69l.23-.46l-5.04 .02zM133.35 28.04l5.07 0l-.22-.46l2.27 .69l-2.28 .68l.23-.46l-5.07 0zM137.14 28.04l5.09 .02l-.22-.46l2.26 .69l-2.27 .68l.23-.46l-5.09-.02zM140.92 28.04l5.1 .04l-.22-.46l2.27 .7l-2.28 .66l.23-.45l-5.1-.04zM144.71 28.04l5.09 .06l-.22-.46l2.26 .71l-2.28 .65l.23-.45l-5.08-.06zM148.5 28.04l5.06 .08l-.22-.46l2.26 .72l-2.28 .64l.23-.45l-5.06-.08zM152.28 28.04l5.02 .1l-.22-.46l2.26 .73l-2.29 .63l.24-.45l-5.01-.1zM156.07 28.04l4.95 .12l-.22-.46l2.26 .74l-2.29 .63l.24-.45l-4.95-.13zM159.86 28.04l4.86 .15l-.22-.46l2.25 .75l-2.29 .61l.24-.45l-4.86-.15zM163.65 28.04l4.74 .18l-.21-.46l2.25 .77l-2.3 .59l.25-.45l-4.75-.18zM167.43 28.04l4.61 .21l-.2-.46l2.23 .79l-2.3 .57l.25-.44l-4.61-.22zM171.22 28.04l4.44 .25l-.2-.46l2.23 .81l-2.31 .55l.25-.44l-4.43-.26zM175.01 28.04l4.24 .3l-.2-.47l2.22 .84l-2.31 .52l.25-.44l-4.23-.3zM178.8 28.04l3.99 .35l-.18-.47l2.2 .87l-2.32 .48l.26-.43l-3.99-.35zM182.59 28.04l3.71 .41l-.18-.48l2.19 .93l-2.34 .43l.28-.43l-3.71-.41zM186.39 28.04l3.37 .47l-.16-.48l2.15 .99l-2.34 .36l.29-.42l-3.38-.47zM190.18 28.04l2.99 .55l-.14-.49l2.11 1.08l-2.36 .26l.31-.41l-2.99-.54zM193.98 28.04l2.55 .62l-.11-.49l2.04 1.19l-2.36 .13l.32-.39l-2.55-.62zM197.78 28.05l2.07 .68l-.07-.5l1.94 1.36l-2.37-.07l.36-.36l-2.07-.68zM201.59 28.06l1.56 .73l-.01-.51l1.76 1.58l-2.34-.35l.4-.31l-1.56-.73zM205.41 28.08l1.07 .74l.07-.5l1.47 1.86l-2.25-.74l.45-.25l-1.07-.74zM209.24 28.11l.66 .75l.19-.48l1 2.15l-2.02-1.24l.49-.13l-.66-.74zM213.06 28.16l.39 .79l.31-.41l.39 2.34l-1.62-1.73l.51 0l-.39-.78zM216.86 28.21l.2 .88l.39-.32l-.16 2.37l-1.17-2.07l.5 .12l-.2-.88zM220.65 28.25l.04 .78l.44-.25l-.57 2.3l-.79-2.24l.47 .21l-.04-.78zM224.43 28.27l-.01 .21l.43-.21l-.66 2.13l-.62-2.14l.43 .21l0-.21zM227.82 28.08h.37v.37h-.37zM38.52 25.37h.37v.37h-.37zM42.31 25.52l.02-.17l-.38 .13l.77-1.72l.3 1.86l-.33-.23l-.03 .18zM46.06 25.49l.06-.21l-.48 .09l1.23-1.92l.03 2.28l-.36-.33l-.06 .21zM49.87 25.42l.21-.31l-.5-.07l1.83-1.5l-.7 2.27l-.25-.45l-.21 .32zM53.7 25.37l.56-.46l-.46-.2l2.19-.91l-1.33 1.96l-.11-.49l-.56 .45zM57.53 25.34l1.12-.55l-.41-.31l2.34-.41l-1.73 1.63l0-.51l-1.12 .56zM61.34 25.33l1.75-.58l-.36-.36l2.37-.07l-1.94 1.37l.07-.51l-1.74 .58zM65.15 25.33l2.36-.55l-.32-.39l2.37 .15l-2.06 1.18l.12-.5l-2.37 .55zM68.95 25.32l2.93-.49l-.3-.41l2.36 .3l-2.13 1.04l.15-.48l-2.93 .49zM72.75 25.32l3.44-.43l-.28-.42l2.33 .39l-2.16 .96l.16-.48l-3.44 .43zM76.54 25.32l3.89-.37l-.27-.43l2.33 .46l-2.2 .9l.18-.48l-3.89 .37zM80.33 25.32l4.28-.31l-.26-.44l2.32 .51l-2.22 .85l.2-.47l-4.29 .31zM84.12 25.32l4.63-.26l-.25-.44l2.3 .55l-2.23 .81l.2-.47l-4.63 .26zM87.91 25.32l4.93-.22l-.25-.44l2.3 .58l-2.24 .78l.21-.46l-4.93 .21zM91.7 25.32l5.19-.18l-.25-.45l2.3 .61l-2.25 .76l.21-.47l-5.19 .19zM95.48 25.32l5.42-.15l-.24-.44l2.29 .62l-2.25 .74l.21-.46l-5.41 .15zM99.27 25.32l5.62-.12l-.24-.45l2.28 .64l-2.25 .73l.22-.46l-5.62 .12zM103.06 25.32l5.78-.09l-.23-.45l2.28 .64l-2.26 .72l.22-.46l-5.78 .1zM106.85 25.32l5.93-.07l-.24-.45l2.28 .66l-2.26 .7l.22-.45l-5.93 .07zM110.63 25.32l6.06-.05l-.23-.45l2.28 .66l-2.27 .7l.22-.45l-6.05 .05zM114.42 25.32l6.16-.03l-.23-.45l2.28 .66l-2.27 .7l.23-.46l-6.17 .04zM118.21 25.32l6.25-.02l-.23-.45l2.27 .67l-2.27 .69l.23-.45l-6.25 .02zM121.99 25.32l6.33 0l-.23-.46l2.27 .68l-2.27 .68l.23-.45l-6.33 .01zM125.78 25.32l6.38 .01l-.22-.46l2.27 .69l-2.28 .68l.23-.46l-6.38 0zM129.56 25.32l6.43 .02l-.22-.46l2.27 .69l-2.28 .68l.23-.46l-6.43-.01zM133.35 25.32l6.46 .03l-.23-.46l2.27 .69l-2.27 .67l.23-.45l-6.46-.02zM137.14 25.32l6.47 .04l-.22-.46l2.27 .69l-2.28 .67l.23-.45l-6.48-.03zM140.92 25.32l6.48 .04l-.22-.45l2.27 .69l-2.28 .67l.23-.45l-6.48-.04zM144.71 25.32l6.47 .05l-.23-.45l2.27 .7l-2.28 .66l.23-.45l-6.46-.05zM148.5 25.32l6.44 .06l-.22-.46l2.26 .71l-2.28 .66l.24-.46l-6.45-.05zM152.28 25.32l6.41 .07l-.23-.46l2.27 .71l-2.28 .66l.23-.46l-6.4-.06zM156.07 25.32l6.35 .08l-.23-.46l2.27 .71l-2.28 .66l.23-.46l-6.35-.07zM159.86 25.32l6.27 .09l-.22-.46l2.26 .72l-2.28 .65l.23-.45l-6.27-.09zM163.64 25.32l6.18 .11l-.22-.46l2.26 .72l-2.29 .64l.24-.45l-6.18-.1zM167.43 25.32l6.05 .12l-.21-.46l2.25 .73l-2.28 .64l.24-.45l-6.06-.12zM171.22 25.32l5.91 .14l-.22-.46l2.25 .74l-2.28 .63l.23-.45l-5.91-.14zM175 25.32l5.74 .17l-.22-.46l2.25 .74l-2.29 .62l.24-.45l-5.73-.16zM178.79 25.32l5.52 .2l-.21-.47l2.24 .76l-2.29 .61l.24-.45l-5.52-.19zM182.58 25.32l5.26 .23l-.2-.46l2.23 .78l-2.29 .58l.24-.44l-5.26-.24zM186.37 25.32l4.96 .28l-.2-.47l2.23 .81l-2.31 .55l.25-.44l-4.96-.28zM190.16 25.32l4.59 .33l-.19-.47l2.22 .84l-2.32 .52l.26-.44l-4.6-.33zM193.95 25.32l4.17 .39l-.19-.47l2.2 .89l-2.32 .47l.26-.43l-4.17-.4zM197.74 25.32l3.66 .47l-.16-.48l2.16 .96l-2.34 .39l.29-.42l-3.67-.47zM201.54 25.32l3.07 .55l-.14-.48l2.11 1.06l-2.35 .28l.3-.41l-3.07-.55zM205.34 25.33l2.4 .62l-.11-.5l2.03 1.23l-2.37 .09l.34-.38l-2.4-.62zM209.15 25.34l1.67 .66l-.04-.51l1.86 1.48l-2.36-.21l.37-.34l-1.66-.66zM212.98 25.36l.95 .62l.06-.5l1.53 1.81l-2.28-.67l.44-.26l-.95-.62zM216.82 25.4l.41 .5l.21-.47l.93 2.18l-1.98-1.3l.5-.12l-.42-.5zM220.64 25.47l.11 .3l.35-.37l.15 2.36l-1.43-1.89l.5 .05l-.11-.29zM224.41 25.51l.03 .2l.35-.26l-.24 2.01l-.91-1.81l.42 .12l-.04-.19zM227.82 25.37h.37v.37h-.37zM38.52 22.65h.37v.37h-.37zM42.32 22.71l.12-.17l-.45-.08l1.74-1.29l-.75 2.03l-.2-.41l-.13 .17zM46.14 22.65l.48-.35l-.45-.23l2.24-.78l-1.45 1.88l-.08-.5l-.48 .35zM49.98 22.62l1.43-.54l-.38-.34l2.37-.17l-1.89 1.44l.06-.5l-1.43 .53zM53.79 22.61l2.37-.53l-.32-.39l2.36 .17l-2.07 1.16l.13-.49l-2.37 .52zM57.6 22.61l3.23-.46l-.29-.42l2.34 .36l-2.15 .99l.16-.48l-3.23 .46zM61.39 22.61l3.98-.38l-.27-.43l2.32 .46l-2.19 .9l.18-.48l-3.97 .38zM65.19 22.61l4.6-.31l-.26-.44l2.31 .53l-2.22 .83l.2-.46l-4.6 .3zM68.98 22.61l5.13-.25l-.25-.44l2.3 .58l-2.23 .78l.2-.46l-5.13 .24zM72.77 22.6l5.58-.18l-.24-.45l2.29 .6l-2.25 .76l.22-.46l-5.59 .19zM76.55 22.6l5.97-.14l-.24-.45l2.29 .62l-2.26 .74l.22-.46l-5.96 .15zM80.34 22.6l6.29-.11l-.24-.45l2.29 .64l-2.26 .72l.22-.45l-6.29 .11zM84.13 22.6l6.56-.08l-.23-.45l2.28 .65l-2.26 .71l.22-.46l-6.57 .09zM87.92 22.6l6.79-.06l-.23-.45l2.28 .66l-2.26 .7l.22-.45l-6.8 .06zM91.7 22.6l7-.04l-.23-.45l2.28 .67l-2.27 .69l.23-.45l-7 .04zM95.49 22.6l7.17-.02l-.23-.46l2.28 .68l-2.27 .69l.22-.46l-7.17 .03zM99.28 22.6l7.32-.01l-.23-.45l2.27 .68l-2.27 .68l.23-.45l-7.32 .01zM103.06 22.6l7.45 0l-.23-.45l2.27 .68l-2.27 .68l.23-.45l-7.45 0zM106.85 22.6l7.55 .01l-.22-.45l2.27 .68l-2.27 .68l.22-.45l-7.55-.01zM110.63 22.6l7.65 .02l-.22-.46l2.27 .69l-2.28 .68l.23-.46l-7.65-.01zM114.42 22.6l7.73 .03l-.23-.46l2.27 .69l-2.27 .67l.22-.45l-7.72-.02zM118.21 22.6l7.79 .03l-.23-.45l2.27 .68l-2.27 .68l.22-.46l-7.78-.02zM121.99 22.6l7.84 .03l-.22-.45l2.27 .69l-2.28 .67l.23-.45l-7.84-.03zM125.78 22.6l7.88 .04l-.22-.46l2.27 .69l-2.28 .67l.23-.45l-7.88-.03zM129.56 22.6l7.92 .04l-.23-.46l2.27 .69l-2.27 .68l.23-.46l-7.92-.03zM133.35 22.6l7.94 .04l-.23-.46l2.27 .7l-2.28 .67l.23-.46l-7.93-.03zM137.14 22.6l7.94 .04l-.22-.45l2.27 .69l-2.28 .67l.23-.45l-7.95-.04zM140.92 22.6l7.95 .04l-.23-.45l2.27 .69l-2.27 .67l.23-.45l-7.95-.04zM144.71 22.6l7.94 .04l-.23-.45l2.27 .69l-2.27 .67l.22-.45l-7.93-.04zM148.5 22.6l7.91 .04l-.22-.45l2.27 .69l-2.28 .67l.23-.45l-7.92-.04zM152.28 22.6l7.89 .04l-.23-.45l2.27 .69l-2.27 .67l.23-.45l-7.89-.04zM156.07 22.6l7.84 .04l-.22-.45l2.26 .69l-2.27 .67l.23-.45l-7.85-.04zM159.85 22.6l7.79 .04l-.22-.45l2.26 .69l-2.27 .67l.23-.45l-7.79-.04zM163.64 22.6l7.71 .04l-.22-.45l2.27 .69l-2.28 .67l.23-.45l-7.71-.04zM167.43 22.6l7.62 .05l-.22-.46l2.26 .7l-2.27 .66l.23-.45l-7.63-.04zM171.21 22.6l7.52 .05l-.23-.45l2.27 .69l-2.28 .67l.23-.45l-7.51-.05zM175 22.6l7.38 .06l-.22-.46l2.26 .7l-2.27 .66l.23-.45l-7.39-.05zM178.78 22.6l7.22 .06l-.22-.45l2.27 .7l-2.28 .66l.23-.45l-7.22-.06zM182.57 22.6l7.02 .08l-.22-.46l2.26 .7l-2.27 .66l.23-.45l-7.02-.07zM186.36 22.6l6.78 .09l-.22-.46l2.26 .72l-2.28 .65l.24-.45l-6.79-.09zM190.14 22.6l6.5 .11l-.22-.45l2.26 .72l-2.28 .64l.23-.45l-6.49-.11zM193.93 22.6l6.15 .15l-.22-.46l2.26 .73l-2.29 .63l.24-.45l-6.15-.14zM197.72 22.6l5.72 .19l-.21-.46l2.25 .75l-2.29 .61l.24-.45l-5.73-.18zM201.51 22.61l5.2 .24l-.2-.47l2.23 .79l-2.3 .57l.25-.44l-5.2-.24zM205.3 22.61l4.57 .31l-.2-.46l2.22 .83l-2.31 .53l.26-.44l-4.57-.32zM209.09 22.61l3.8 .41l-.17-.48l2.18 .93l-2.33 .43l.27-.43l-3.79-.41zM212.9 22.61l2.86 .51l-.14-.48l2.12 1.07l-2.36 .27l.3-.41l-2.86-.51zM216.71 22.62l1.83 .57l-.08-.5l1.96 1.33l-2.37-.03l.35-.37l-1.83-.57zM220.55 22.64l.69 .43l.05-.51l1.56 1.79l-2.28-.63l.43-.26l-.69-.44zM224.38 22.69l.14 .17l.2-.45l.9 2.1l-1.91-1.26l.48-.11l-.14-.17zM227.82 22.65h.37v.37h-.37zM38.52 19.93h.37v.37h-.37zM42.53 19.89l2.04 .41l-.14-.49l2.1 1.11l-2.36 .23l.31-.4l-2.04-.41zM46.3 19.89l3.36 .43l-.17-.48l2.17 .97l-2.34 .39l.28-.42l-3.36-.44zM50.08 19.89l4.76 .4l-.19-.47l2.2 .87l-2.32 .49l.27-.44l-4.76-.4zM53.86 19.89l5.72 .34l-.2-.47l2.23 .81l-2.31 .55l.26-.44l-5.73-.34zM57.64 19.89l6.48 .29l-.21-.47l2.24 .79l-2.3 .58l.25-.45l-6.48-.29zM61.42 19.89l7.05 .25l-.21-.46l2.25 .76l-2.3 .6l.25-.44l-7.05-.26zM65.21 19.89l7.5 .23l-.22-.47l2.25 .75l-2.29 .62l.24-.45l-7.49-.23zM68.99 19.89l7.86 .2l-.22-.46l2.26 .74l-2.29 .63l.24-.45l-7.86-.21zM72.78 19.89l8.14 .19l-.22-.46l2.26 .73l-2.29 .63l.24-.45l-8.14-.19zM76.56 19.89l8.38 .17l-.22-.45l2.26 .72l-2.29 .64l.24-.45l-8.37-.18zM80.35 19.89l8.57 .16l-.22-.45l2.26 .72l-2.29 .64l.24-.45l-8.57-.17zM84.14 19.89l8.73 .16l-.22-.46l2.26 .72l-2.29 .64l.24-.45l-8.73-.16zM87.92 19.89l8.87 .15l-.22-.46l2.26 .72l-2.29 .64l.24-.45l-8.87-.15zM91.71 19.89l8.98 .14l-.22-.46l2.26 .72l-2.29 .65l.24-.45l-8.98-.15zM95.49 19.89l9.08 .14l-.22-.46l2.26 .71l-2.28 .65l.23-.45l-9.07-.14zM99.28 19.89l9.16 .13l-.22-.46l2.26 .72l-2.28 .65l.23-.46l-9.16-.13zM103.07 19.89l9.22 .12l-.22-.45l2.26 .71l-2.28 .65l.23-.45l-9.22-.13zM106.85 19.89l9.28 .12l-.22-.46l2.27 .71l-2.28 .65l.23-.45l-9.28-.12zM110.64 19.89l9.33 .11l-.22-.45l2.26 .71l-2.28 .65l.23-.45l-9.33-.12zM114.42 19.89l9.38 .11l-.23-.46l2.27 .71l-2.28 .65l.23-.45l-9.37-.11zM118.21 19.89l9.41 .1l-.23-.46l2.27 .71l-2.28 .66l.23-.46l-9.41-.1zM121.99 19.89l9.44 .09l-.22-.45l2.26 .7l-2.28 .66l.23-.45l-9.43-.1zM125.78 19.89l9.45 .09l-.22-.46l2.27 .7l-2.28 .66l.23-.45l-9.45-.09zM129.57 19.89l9.47 .08l-.23-.46l2.27 .7l-2.28 .66l.23-.45l-9.47-.08zM133.35 19.89l9.48 .07l-.22-.46l2.26 .7l-2.27 .67l.23-.46l-9.48-.07zM137.14 19.89l9.48 .06l-.22-.46l2.26 .7l-2.27 .67l.23-.46l-9.49-.06zM140.92 19.89l9.49 .05l-.23-.46l2.27 .7l-2.28 .67l.23-.46l-9.48-.05zM144.71 19.89l9.48 .04l-.23-.46l2.27 .69l-2.28 .68l.23-.46l-9.47-.04zM148.49 19.89l9.47 .03l-.23-.46l2.27 .69l-2.27 .67l.23-.45l-9.47-.03zM152.28 19.89l9.45 .01l-.23-.45l2.27 .68l-2.27 .68l.23-.45l-9.45-.02zM156.07 19.89l9.42 0l-.23-.45l2.27 .68l-2.27 .68l.23-.46l-9.42 0zM159.85 19.89l9.39-.01l-.23-.46l2.27 .68l-2.27 .68l.23-.45l-9.39 .01zM163.64 19.89l9.34-.03l-.23-.45l2.28 .67l-2.27 .69l.22-.46l-9.34 .03zM167.42 19.89l9.3-.05l-.23-.45l2.27 .67l-2.27 .69l.23-.45l-9.29 .04zM171.21 19.89l9.23-.07l-.23-.45l2.28 .66l-2.27 .7l.22-.45l-9.23 .06zM174.99 19.89l9.16-.09l-.23-.45l2.27 .66l-2.26 .7l.22-.45l-9.15 .08zM178.78 19.89l9.06-.11l-.23-.45l2.28 .65l-2.27 .71l.22-.46l-9.06 .11zM182.56 19.89l8.95-.14l-.23-.45l2.28 .65l-2.26 .71l.22-.45l-8.95 .13zM186.35 19.89l8.8-.17l-.23-.45l2.28 .64l-2.26 .73l.22-.46l-8.8 .16zM190.13 19.89l8.64-.2l-.24-.45l2.29 .63l-2.26 .73l.22-.46l-8.63 .2zM193.92 19.89l8.42-.23l-.24-.45l2.29 .62l-2.25 .74l.21-.46l-8.42 .23zM197.7 19.89l8.16-.27l-.25-.45l2.3 .6l-2.25 .76l.21-.46l-8.15 .27zM201.49 19.89l7.81-.32l-.24-.44l2.29 .59l-2.24 .77l.21-.46l-7.81 .31zM205.27 19.89l7.38-.37l-.25-.44l2.3 .57l-2.23 .79l.2-.46l-7.37 .36zM209.06 19.89l6.81-.42l-.26-.44l2.31 .54l-2.22 .82l.19-.47l-6.81 .42zM212.84 19.89l6.05-.48l-.26-.43l2.31 .5l-2.21 .86l.19-.48l-6.05 .48zM216.62 19.89l5.06-.55l-.27-.42l2.33 .43l-2.19 .92l.18-.47l-5.06 .54zM220.39 19.89l3.6-.57l-.29-.41l2.35 .31l-2.14 1.03l.15-.48l-3.6 .57zM224.16 19.89l2.25-.53l-.32-.39l2.37 .15l-2.06 1.18l.12-.49l-2.25 .53zM227.82 19.93h.37v.37h-.37zM38.7 17.17l11.09 0l-.22-.45l2.27 .68l-2.27 .68l.22-.45l-11.09 0zM42.49 17.17l11.09 0l-.23-.45l2.27 .68l-2.27 .68l.23-.45l-11.09 0zM46.27 17.17l11.1 0l-.23-.45l2.27 .68l-2.27 .68l.23-.45l-11.1 0zM50.06 17.17l11.09 0l-.23-.45l2.28 .68l-2.28 .68l.23-.45l-11.09 0zM53.84 17.17l11.1 0l-.23-.45l2.27 .68l-2.27 .68l.23-.45l-11.1 0zM57.63 17.17l11.09 0l-.22-.45l2.27 .68l-2.27 .68l.22-.45l-11.09 0zM61.42 17.17l11.09 0l-.23-.45l2.27 .68l-2.27 .68l.23-.45l-11.09 0zM65.2 17.17l11.1 0l-.23-.45l2.27 .68l-2.27 .68l.23-.45l-11.1 0zM68.99 17.17l11.09 0l-.23-.45l2.28 .68l-2.28 .68l.23-.45l-11.09 0zM72.77 17.17l11.1 0l-.23-.45l2.27 .68l-2.27 .68l.23-.45l-11.1 0zM76.56 17.17l11.09 0l-.22-.45l2.27 .68l-2.27 .68l.22-.45l-11.09 0zM80.35 17.17l11.09 0l-.23-.45l2.27 .68l-2.27 .68l.23-.45l-11.09 0zM84.13 17.17l11.1 0l-.23-.45l2.27 .68l-2.27 .68l.23-.45l-11.1 0zM87.92 17.17l11.09 0l-.23-.45l2.28 .68l-2.28 .68l.23-.45l-11.09 0zM91.7 17.17l11.1 0l-.23-.45l2.27 .68l-2.27 .68l.23-.45l-11.1 0zM95.49 17.17l11.09 0l-.22-.45l2.27 .68l-2.27 .68l.22-.45l-11.09 0zM99.28 17.17l11.09 0l-.23-.45l2.27 .68l-2.27 .68l.23-.45l-11.09 0zM103.06 17.17l11.1 0l-.23-.45l2.27 .68l-2.27 .68l.23-.45l-11.1 0zM106.85 17.17l11.09 0l-.23-.45l2.28 .68l-2.28 .68l.23-.45l-11.09 0zM110.63 17.17l11.1 0l-.23-.45l2.27 .68l-2.27 .68l.23-.45l-11.1 0zM114.42 17.17l11.09 0l-.22-.45l2.27 .68l-2.27 .68l.22-.45l-11.09 0zM118.21 17.17l11.09 0l-.23-.45l2.27 .68l-2.27 .68l.23-.45l-11.09 0zM121.99 17.17l11.1 0l-.23-.45l2.27 .68l-2.27 .68l.23-.45l-11.1 0zM125.78 17.17l11.09 0l-.23-.45l2.28 .68l-2.28 .68l.23-.45l-11.09 0zM129.56 17.17l11.1 0l-.23-.45l2.27 .68l-2.27 .68l.23-.45l-11.1 0zM133.35 17.17l11.09 0l-.22-.45l2.27 .68l-2.27 .68l.22-.45l-11.09 0zM137.14 17.17l11.09 0l-.23-.45l2.27 .68l-2.27 .68l.23-.45l-11.09 0zM140.92 17.17l11.1 0l-.23-.45l2.27 .68l-2.27 .68l.23-.45l-11.1 0zM144.71 17.17l11.09 0l-.23-.45l2.28 .68l-2.28 .68l.23-.45l-11.09 0zM148.49 17.17l11.1 0l-.23-.45l2.27 .68l-2.27 .68l.23-.45l-11.1 0zM152.28 17.17l11.09 0l-.22-.45l2.27 .68l-2.27 .68l.22-.45l-11.09 0zM156.07 17.17l11.09 0l-.23-.45l2.27 .68l-2.27 .68l.23-.45l-11.09 0zM159.85 17.17l11.1 0l-.23-.45l2.27 .68l-2.27 .68l.23-.45l-11.1 0zM163.64 17.17l11.09 0l-.23-.45l2.28 .68l-2.28 .68l.23-.45l-11.09 0zM167.42 17.17l11.1 0l-.23-.45l2.27 .68l-2.27 .68l.23-.45l-11.1 0zM171.21 17.17l11.09 0l-.22-.45l2.27 .68l-2.27 .68l.22-.45l-11.09 0zM175 17.17l11.09 0l-.23-.45l2.27 .68l-2.27 .68l.23-.45l-11.09 0zM178.78 17.17l11.1 0l-.23-.45l2.27 .68l-2.27 .68l.23-.45l-11.1 0zM182.57 17.17l11.09 0l-.23-.45l2.28 .68l-2.28 .68l.23-.45l-11.09 0zM186.35 17.17l11.1 0l-.23-.45l2.27 .68l-2.27 .68l.23-.45l-11.1 0zM190.14 17.17l11.09 0l-.22-.45l2.27 .68l-2.27 .68l.22-.45l-11.09 0zM193.93 17.17l11.09 0l-.23-.45l2.27 .68l-2.27 .68l.23-.45l-11.09 0zM197.71 17.17l11.1 0l-.23-.45l2.27 .68l-2.27 .68l.23-.45l-11.1 0zM201.5 17.17l11.09 0l-.23-.45l2.28 .68l-2.28 .68l.23-.45l-11.09 0zM205.28 17.17l11.1 0l-.23-.45l2.27 .68l-2.27 .68l.23-.45l-11.1 0zM209.07 17.17l11.09 0l-.22-.45l2.27 .68l-2.27 .68l.22-.45l-11.09 0zM212.86 17.17l11.09 0l-.23-.45l2.27 .68l-2.27 .68l.23-.45l-11.09 0zM216.64 17.17l11.1 0l-.23-.45l2.27 .68l-2.27 .68l.23-.45l-11.1 0zM220.43 17.17l11.09 0l-.23-.45l2.28 .68l-2.28 .68l.23-.45l-11.09 0zM224.21 17.17l11.1 0l-.23-.45l2.27 .68l-2.27 .68l.23-.45l-11.1 0zM228 17.17l11.09 0l-.22-.45l2.27 .68l-2.27 .68l.22-.45l-11.09 0z"/><g id="st"><path fill="none" stroke-opacity=".7" stroke="#1f77b4" stroke-width="1.2" stroke-linecap="butt" stroke-linejoin="round" d="M38.7 180.4l189.3 0M66 316.2l-5.2-1.3l-4.6-1.4l-4.4-2l-3.7-2.3l-3.2-2.7l-2.7-3.3l-2-3.4l-1.5-3.1M228 268.6l-1.3 8.5l-1.6 9l-1.1 4.4l-1.5 4.4l-1.7 3.6l-2.1 3.2l-2.8 2.9l-3.4 2.5l-4.3 2.3l-5.7 1.9l-6 1.4l-6.2 .8l-6.2 .7l-6.3 .5l-6.3 .4l-12.6 .5l-12.6 .3l-12.6 0l-12.6 0l-12.6-.3l-12.6-.5l-6.3-.4l-6.3-.5l-6.2-.6l-6.2-.8l-6.1-1.3M185.1 311.2l-6.3 .7l-6.2 .5l-6.3 .4l-12.6 .5l-19 .2l-18.9-.2l-12.6-.4l-12.6-.8l-6.2-.6M221.5 306.8l-3.4 2.8l-3.9 2.4l-4.6 2l-4.7 1.4l-3.3 .8M228 246.7l-1.7 14.5l-1.9 13.5l-.8 4.5l-.9 4.5l-1.2 4.4M228 217.6l-3.8 33.8l-1.2 9l-1.5 9M38.7 184.5l3.3-.2l5.8-.2l12.5-.1l88.3 .5l63.1-.1l5.3 .1l3.4 .2l2 .2l1.4 .4l1.2 .6l1.4 1.6l.7 1.8l.2 2.4l-.3 4.5l-3.1 27.1l-1.1 9l-1.3 9M223.7 188.6l.3 2l-.2 4.6l-1.1 9l-1.2 9M217.4 223.6l-2 9l-1.3 4.4l-1.3 4.4l-1.5 4.4l-1.6 4.4l-1.8 4.3l-2.1 4.3l-2.3 4.2l-2.6 4.1l-2.9 4l-3.4 3.8l-3.9 3.6l-4.4 3.3l-4.8 2.8l-5.3 2.5l-5.6 2l-5.9 1.6l-6.1 1.3l-6.2 .9l-6.2 .6l-6.3 .4l-6.3 .1l-6.3-.2l-6.3-.3l-6.2-.7l-6.2-.9l-6.1-1.2l-5.8-1.6l-5.7-2.1l-5.3-2.4l-4.9-2.8l-4.4-3.3l-3.9-3.5l-3.4-3.9l-2.9-3.9l-2.6-4.2l-2.2-4.2l-2-4.3l-1.7-4.4l-1.6-4.3l-1.4-4.5l-2.4-8.8l-1-4.5l-1.9-9l-1.6-8.9l-2.3-13.5l-.4-3.3l.1-3.5l.6-1.6M47.9 231.2l-1.4-9l-1.3-9M217.9 258.4l-1.1 4.4l-1.3 4.4l-1.5 4.4l-1.8 4.4l-2.1 4.2l-2.5 4.2l-3.1 3.8l-3.5 3.4l-4.1 3.1l-5 2.7l-5.5 2.3l-5.8 1.7l-6 1.4l-6.1 1l-6.2 .8l-6.3 .5l-6.3 .4l-6.3 .3l-6.3 .1l-12.6-.1l-6.3-.3l-6.3-.3l-6.2-.6l-6.3-.7l-6.1-1l-6.1-1.3l-5.8-1.6l-5.3-2.1l-4.9-2.4l-4.5-3.1l-3.9-3.5l-3.2-3.9l-2.7-4.1l-2.2-4.2l-1.7-4.4l-1.5-4.4l-1.3-4.4l-1.1-4.5l-1-4.4l-1.6-9l-1.3-9M98.4 309.2l-6.3-.7l-6.2-.8l-6.1-1.2l-5.5-1.4l-5-1.8l-4.5-2.2l-4.1-2.7l-3.8-3.5l-3.1-3.9l-2.3-4.2l-1.9-4.3l-1.4-4.4l-1.2-4.4l-1-4.5l-1.5-9M66.1 307.4l-4.4-1.9l-4-2.3l-3.7-3l-3.3-3.9l-2.4-4.1l-1.8-4.4l-1.3-4.4M215.9 276.8l-1.8 4.4l-2.1 4.2l-2.6 4l-3 3.5l-3.6 3.1l-4.4 2.9l-5.2 2.5l-5.7 2l-5.9 1.5l-6.2 1.1l-6.1 .8M208.4 297.5l-3.6 2.9l-4.6 2.6l-5.5 2.2l-5.9 1.6M216.5 295.4l-2.5 3.3l-3 2.9l-3.9 2.7l-5.2 2.5M214.3 187.7l1.8 1.1l1.2 1.4l.6 1.8l.2 3.2l-.5 4.5l-.8 4.5l-1.9 9l-1.1 4.4M190.7 187.5l6.3 .3l4.8 .5l3.3 .5l3.3 1l2.1 1.2M200.9 192.6l2.1 1.2l1.4 1.7l.9 2.1l.2 2.9l-.5 4.5l-1.2 4.5l-1.6 4.3l-1.9 4.4l-2.1 4.2l-2.5 4.2l-2.7 4.1l-3.1 3.9l-3.4 3.8l-3.8 3.6l-4.1 3.4l-4.5 3.2l-5 2.8l-5.2 2.5l-5.6 2l-5.9 1.6l-6.1 1.2l-6.3 .6l-6.3 .1l-6.2-.3l-6.2-.8l-6.1-1.4l-5.7-1.7l-5.5-2.2l-5.2-2.7l-4.7-2.9l-4.4-3.3l-4-3.5l-3.6-3.7l-3.2-3.9l-2.9-4l-2.6-4.1l-2.4-4.2l-2.1-4.3l-1.8-4.3l-1.5-4.4l-1-4.2l-.4-3.1l.1-2.4l.5-1.9l1.2-1.8l1.9-1.4l2.9-1.2l4.4-1l6.2-.7l6.3-.4l6.3-.3l18.9-.3l25.3 0l25.2 .2l12.6 .3l6.3 .3M60.9 209.8l-1.2-4.4l-1-4.4l-.3-3.1l.1-2.3l.5-1.9l1.2-1.6l1.9-1.3l2.7-1M53.3 208.8l-1.9-9l-.6-3.8l-.1-2.7l.2-1.8l.9-1.7l1.5-1.3M160.5 302.5l-6.2 .6l-6.3 .4l-6.3 .3l-6.3 .1l-6.3-.1l-6.3-.1l-6.3-.4l-6.3-.5l-6.2-.6M210.4 265.1l-2 4.3l-2.3 4.2l-2.7 4.1l-3.1 3.9l-3.7 3.6l-4.3 3.4l-4.8 2.8l-5.3 2.5l-5.7 1.9l-5.9 1.6l-6.1 1.2l-6.2 .9M211.6 227.8l-1.5 4.4l-1.7 4.4l-1.8 4.3l-2 4.3l-2.3 4.2l-2.5 4.2l-2.8 4l-3.1 4l-3.5 3.7l-3.9 3.6l-4.4 3.3l-4.7 2.9l-5.2 2.6l-5.5 2.2l-5.8 1.7l-6 1.4l-6.2 1l-6.2 .6l-6.3 .3l-6.3-.1l-6.3-.4l-6.2-.7l-6.2-1.1l-5.9-1.4l-5.8-1.9l-5.4-2.2l-5.1-2.7l-4.7-3l-4.2-3.4l-3.8-3.6l-3.4-3.8l-2.9-4l-2.7-4.1l-2.4-4.2l-2.1-4.3l-1.9-4.3l-1.7-4.3l-1.5-4.4l-1.4-4.4M211.1 209l-1.3 4.5l-1.4 4.4l-1.6 4.3l-1.8 4.4l-2 4.3l-2.3 4.2l-2.4 4.2l-2.8 4l-3 4l-3.4 3.8l-3.8 3.6l-4.1 3.5l-4.5 3.1l-4.9 2.9l-5.2 2.4l-5.6 2.1l-5.9 1.7l-6.1 1.2l-6.2 .8l-6.3 .3l-6.3 0l-6.2-.5l-6.2-.9l-6-1.4l-5.8-1.7l-5.5-2.2l-5.2-2.6l-4.8-2.9l-4.4-3.3l-3.9-3.5l-3.6-3.7l-3.3-3.9l-2.9-4l-2.6-4.1l-2.3-4.2l-2.2-4.3l-1.9-4.3l-1.7-4.3l-1.6-4.4l-1.4-4.4M172.6 192.3l6.3 .5l5 .6l4.9 1l3.3 1.2l2.4 1.5l1.6 1.8l.8 2l.3 2.3l-.3 2.7l-.8 3.5l-1.7 4.3l-2.2 4.2l-2.7 4.1l-3.1 3.9l-3.4 3.8l-3.9 3.6l-4.3 3.3l-4.7 3l-5.1 2.7l-5.4 2.2l-5.8 1.8l-6 1.3l-6.2 .8l-6.3 .2l-6.3-.3l-6.2-.8l-6-1.4l-5.7-1.9l-5.4-2.3l-5.1-2.7l-4.6-3l-4.3-3.4l-3.8-3.6l-3.4-3.8l-3-4l-2.7-4.1l-2.2-4.2l-1.7-4.3l-1-4.5l.1-2.9l.8-2.2l1.3-1.8l2-1.4l2.5-1.1l3.1-.8l4.1-.8l5.4-.6l6.3-.5M106.2 194.2l12.6-.5l6.3-.2l12.6 0l12.7 .1l6.3 .2l6.3 .2l6.3 .4M149.6 298.7l-6.3 .3l-6.3 .2l-6.3 0l-6.3-.2l-6.3-.4l-6.3-.6l-6.2-.8l-6.1-1.1l-5.9-1.5l-5.8-1.9l-5.4-2.3l-5-2.7l-4.4-3.2l-4-3.5l-3.3-3.8l-2.9-4.1l-2.4-4.1l-2.1-4.3M90.9 297.5l-5.8-1.8l-5.4-2.3l-5-2.7l-4.5-3.2l-3.8-3.5M186.4 197.6l2.4 1.5l1.6 1.9l.9 2l.2 2.2l-.3 2.7l-1 3.2l-1.8 3.8l-2.7 4.1l-3.1 4l-3.6 3.7l-4.1 3.4l-4.5 3.1l-5 2.8l-5.4 2.4l-5.7 1.9l-6 1.3l-6.2 .8l-6.3 .3l-6.3-.3l-6.1-.9l-6-1.5l-5.7-1.9l-5.3-2.4l-5-2.8l-4.5-3.2M166.3 197.3l4.7 .7l4.8 1.1l3.2 1.3l2.3 1.5l1.5 2l.7 2l0 2.2l-.6 2.5l-1.3 3l-2.1 3.3l-3.1 3.7l-4 3.5l-4.4 3.2l-5 2.7l-5.5 2.3l-5.8 1.8l-6 1.1l-6.2 .6l-6.1 0l-6.1-.7l-5.9-1.2l-5.7-1.7l-5.4-2.3l-5-2.7l-4.5-3.2l-3.9-3.5l-3.3-3.9l-2.6-4.1l-1.1-3.3l-.2-2.7l.5-2.2l1.5-2l2-1.5l2.4-1.1l3.2-1l4.1-.8l5.4-.8M118.7 198.4l6.3-.3l6.3-.2l6.3-.1l6.3 .1l6.3 .2l6.3 .4l6.2 .6M89.9 222.2l-3.2-3.9l-2.5-4.1l-1.7-3.7l-.9-3l-.3-2.5l.4-2.1l.9-2l1.8-1.8l2.6-1.4M196.7 248.4l-3 3.9l-3.4 3.9l-3.7 3.6l-4.1 3.5l-4.5 3.1l-4.9 2.9l-5.2 2.4l-5.7 2.1l-5.8 1.6l-6.1 1.3l-6.2 .8l-6.3 .4l-6.3 0l-6.3-.3l-6.2-.8l-6.1-1.1l-5.9-1.6l-5.7-1.9l-5.3-2.4l-5-2.8l-4.6-3.1l-4.2-3.4l-3.7-3.6l-3.4-3.8l-3-4l-2.7-4.1l-2.4-4.2l-2.2-4.2M173.5 202.2l2.3 1.6l1.4 1.8l.5 2l-.1 2.1l-.7 2.4l-1.5 2.7l-2.4 2.9M154.1 201.9l4.3 .7l4.3 1.2l2.9 1.3l1.8 1.5l1.1 1.9l.1 1.9l-.5 1.9l-1.2 2.1l-2 2.2l-2.8 2.3l-3.7 2.3l-4.4 1.9l-4.9 1.4l-5.3 1l-5.4 .4l-5.5-.3l-5.3-.8l-5.2-1.3l-4.7-2l-4.3-2.4l-3.5-2.8l-2.4-3l-.9-2.3l0-2l.9-1.9l1.6-1.5l2.1-1.1l2.8-1l3.5-.9l4.8-.7M100.3 217.8l-2.4-3l-1.5-2.7l-.8-2.3l-.1-2.1l.6-2l1.3-1.9l2.3-1.6M160.4 287.5l-6.1 1.1l-6.2 .8l-6.3 .5l-6.3 .2l-6.3 0l-6.3-.4l-6.2-.6l-6.2-1l-6-1.3l-5.9-1.7l-5.6-2.1M188.8 274.1l-4.3 3.2l-4.8 3l-5.2 2.5l-5.5 2.1M132.1 205.2l6.3-.3l5.6 .2l4.3 .6l3.2 .6l2.4 .9l2.3 1.3l1.1 1.5l.2 1.6l-.6 1.5l-1.2 1.5l-2 1.5l-2.8 1.4l-3.5 1.3l-4.1 .8l-4.5 .4l-4.6-.2l-4.6-.8l-4.2-1.4l-3.5-1.9l-2.1-1.9l-.9-1.7l-.1-1.6l.9-1.5l1.3-1.1l2.1-.9M132.4 215.1l-2-.8l-1.4-1l-.7-1l0-1.2l1-1l2-1l3.5-.7l4.1-.3l4.2 .4l3 .7M196.4 234.5l-2.8 4l-3.2 4l-3.5 3.7l-3.8 3.6l-4.2 3.4l-4.7 3l-4.9 2.8l-5.4 2.4l-5.7 2l-5.9 1.5l-6.1 1.1l-6.3 .6l-6.2 .1l-6.3-.3l-6.2-.7l-6.1-1.2l-5.9-1.7l-5.6-2.1l-5.2-2.5l-4.9-2.8l-4.5-3.2l-4.1-3.4l-3.7-3.7l-3.3-3.8l-3.1-4l-2.7-4.1M186 232.9l-3.7 3.7l-4.1 3.4l-4.5 3.2l-4.9 2.9l-5.2 2.5l-5.6 2l-5.9 1.7l-6.1 1.1l-6.2 .6l-6.3 .1l-6.3-.4l-6.1-.9l-6-1.4l-5.7-1.9l-5.4-2.3l-5.1-2.8M169.3 217.9l-4.2 3.3l-4.2 2.6l-4.9 2.1l-5.4 1.7M122.6 228l-5.4-1.8l-4.9-2.3l-4.2-2.6l-4.1-3.4"/><path fill="#1f77b4" stroke="#1f77b4" stroke-width="1.2" stroke-linejoin="round" d="M126.7 179.3l2.3 1.1l-2.3 1.1zM52.2 313.1l-1.3-2.1l2.5 .2zM171.9 316.2l-2.3-1.1l2.2-1.2zM135 314.6l-2.2-1.1l2.2-1.1zM215.5 312.7l-2.5-.2l1.6-1.9zM226.9 264.7l-1.4 2l-.8-2.3zM226.5 241.3l-1.4 2.1l-.8-2.3zM167.3 183.4l2.2 1.1l-2.2 1.1zM224.6 198.6l-1.4 2.1l-.8-2.3zM114.9 294l-2-1.5l2.4-.7zM45.6 223.5l.7-2.4l1.5 2.1zM118.4 306.7l-2.1-1.3l2.3-1zM56.6 296.4l-.5-2.5l2.3 1.1zM53.7 301.6l-.5-2.4l2.2 1zM204.1 296.5l-2.5 .3l1.2-2.1zM201 303.8l-2.4-.2l1.6-1.8zM212.5 301.9l-2.5 .4l1.2-2.2zM218.9 198.8l-1.5 2l-.7-2.4zM196.1 186.7l2.1 1.3l-2.3 .9zM89.6 245.5l-1-2.3l2.4 .6zM57.8 203l.9-2.3l1.3 2.1zM50.5 201.5l.8-2.4l1.4 2zM135.7 305l-2.2-1.1l2.2-1.1zM197.9 285.7l-2.5 .4l1.1-2.2zM136.5 286l-2.2-1.2l2.2-1.1zM143.2 273.5l-2.3-1l2.2-1.2zM135.5 249.7l-2.1-1.2l2.2-1zM131.1 192.4l2.3 1.1l-2.3 1.1zM99.6 297.2l-1.8-1.6l2.4-.5zM79.7 294.7l-1.4-2.1l2.4 .1zM166.3 236.8l-2.5-.1l1.6-1.9zM139.9 236.9l-2.2-1.1l2.2-1.1zM137.3 196.7l2.2 1.1l-2.2 1.1zM81.9 212.6l.5-2.4l1.7 1.8zM125.4 278.7l-2-1.4l2.3-.8zM179.3 207.9l-1.7 1.8l-.4-2.4zM139.1 227l-2.2-1.2l2.3-1zM96 214.6l.4-2.5l1.7 1.8zM129.4 291.2l-2.1-1.2l2.3-1zM180.7 281l-2.5 0l1.5-2zM152.8 218.1l-2.5-.3l1.8-1.8zM129.4 208.3l2.4 .7l-1.9 1.5zM133.9 267.9l-2.2-1.3l2.3-1zM152.7 253.3l-2.4-.7l2-1.5zM166.5 221.7l-2.5 .2l1.4-2.1zM112.5 225.4l-1.3-2.2l2.5 .3z"/></g><filter id="bl" x="0" y="0" width="100%" height="100%" filterUnits="objectBoundingBox"><feGaussianBlur stdDeviation=".5"/></filter></defs><g transform="translate(0 0)"><g clip-path="url(#cp)"><use href="#cf"/><g filter="url(#bl)"><rect x="38" y="17" width="191" height="137" fill="none"/><use href="#qv"/></g></g></g><path stroke="#262626" stroke-width=".5" fill="none" d="M38.7 153.2v2.2M38.7 153.2h-2.2M86.03 153.2v2.2M38.7 119.25h-2.2M133.35 153.2v2.2M38.7 85.3h-2.2M180.68 153.2v2.2M38.7 51.35h-2.2M228 153.2v2.2M38.7 17.4h-2.2"/><rect x="38.7" y="17.4" width="189.3" height="135.8" fill="none" stroke="#2a2a2a" stroke-width=".5"/><g font-size="11.6"><text x="38.7" y="166.2" text-anchor="middle">0.0</text><text x="33.7" y="156.8" text-anchor="end">0.0</text><text x="86.03" y="166.2" text-anchor="middle">0.5</text><text x="33.7" y="122.85" text-anchor="end">0.5</text><text x="133.35" y="166.2" text-anchor="middle">1.0</text><text x="33.7" y="88.9" text-anchor="end">1.0</text><text x="180.68" y="166.2" text-anchor="middle">1.5</text><text x="33.7" y="54.95" text-anchor="end">1.5</text><text x="228" y="166.2" text-anchor="middle">2.0</text><text x="33.7" y="21" text-anchor="end">2.0</text></g><text x="133.35" y="13.5" text-anchor="middle" stroke-width=".3" font-size="13.8">Exact Value</text><text x="133.35" y="180.5" text-anchor="middle" stroke-width=".25" font-size="11.8">X</text><text transform="translate(13.9 85.3) rotate(-90)" text-anchor="middle" stroke-width=".25" font-size="11.8">Y</text><rect x="239.2" y="136.22" width="6.9" height="17.02" fill="#998080"/><rect x="239.2" y="119.25" width="6.9" height="17.02" fill="#c48080"/><rect x="239.2" y="102.27" width="6.9" height="17.02" fill="#ee8080"/><rect x="239.2" y="85.3" width="6.9" height="17.02" fill="#ff9880"/><rect x="239.2" y="68.33" width="6.9" height="17.02" fill="#ffc280"/><rect x="239.2" y="51.35" width="6.9" height="17.02" fill="#ffec80"/><rect x="239.2" y="34.38" width="6.9" height="17.02" fill="#ffffa1"/><rect x="239.2" y="17.4" width="6.9" height="17.02" fill="#ffffe0"/><rect x="239.2" y="17.4" width="6.9" height="135.8" fill="none" stroke="#2a2a2a" stroke-width=".5"/><path stroke="#262626" stroke-width=".5" fill="none" d="M246.1 153.2h2.2M246.1 136.22h2.2M246.1 119.25h2.2M246.1 102.27h2.2M246.1 85.3h2.2M246.1 68.33h2.2M246.1 51.35h2.2M246.1 34.38h2.2M246.1 17.4h2.2"/><g font-size="11.6"><text x="250.4" y="157.2">−4</text><text x="250.4" y="140.22">−3</text><text x="250.4" y="123.25">−2</text><text x="250.4" y="106.27">−1</text><text x="250.4" y="89.3">0</text><text x="250.4" y="72.33">1</text><text x="250.4" y="55.35">2</text><text x="250.4" y="38.38">3</text><text x="250.4" y="21.4">4</text></g><g transform="translate(282.7 0)"><g clip-path="url(#cp)"><use href="#cf"/><g filter="url(#bl)"><rect x="38" y="17" width="191" height="137" fill="none"/><use href="#qv"/></g></g></g><path stroke="#262626" stroke-width=".5" fill="none" d="M321.4 153.2v2.2M321.4 153.2h-2.2M368.72 153.2v2.2M321.4 119.25h-2.2M416.05 153.2v2.2M321.4 85.3h-2.2M463.38 153.2v2.2M321.4 51.35h-2.2M510.7 153.2v2.2M321.4 17.4h-2.2"/><rect x="321.4" y="17.4" width="189.3" height="135.8" fill="none" stroke="#2a2a2a" stroke-width=".5"/><g font-size="11.6"><text x="321.4" y="166.2" text-anchor="middle">0.0</text><text x="316.4" y="156.8" text-anchor="end">0.0</text><text x="368.72" y="166.2" text-anchor="middle">0.5</text><text x="316.4" y="122.85" text-anchor="end">0.5</text><text x="416.05" y="166.2" text-anchor="middle">1.0</text><text x="316.4" y="88.9" text-anchor="end">1.0</text><text x="463.38" y="166.2" text-anchor="middle">1.5</text><text x="316.4" y="54.95" text-anchor="end">1.5</text><text x="510.7" y="166.2" text-anchor="middle">2.0</text><text x="316.4" y="21" text-anchor="end">2.0</text></g><text x="416.05" y="13.5" text-anchor="middle" stroke-width=".3" font-size="13.8">Predicted Value</text><text x="416.05" y="180.5" text-anchor="middle" stroke-width=".25" font-size="11.8">X</text><text transform="translate(296.6 85.3) rotate(-90)" text-anchor="middle" stroke-width=".25" font-size="11.8">Y</text><rect x="521.9" y="136.22" width="6.9" height="17.02" fill="#998080"/><rect x="521.9" y="119.25" width="6.9" height="17.02" fill="#c48080"/><rect x="521.9" y="102.27" width="6.9" height="17.02" fill="#ee8080"/><rect x="521.9" y="85.3" width="6.9" height="17.02" fill="#ff9880"/><rect x="521.9" y="68.33" width="6.9" height="17.02" fill="#ffc280"/><rect x="521.9" y="51.35" width="6.9" height="17.02" fill="#ffec80"/><rect x="521.9" y="34.38" width="6.9" height="17.02" fill="#ffffa1"/><rect x="521.9" y="17.4" width="6.9" height="17.02" fill="#ffffe0"/><rect x="521.9" y="17.4" width="6.9" height="135.8" fill="none" stroke="#2a2a2a" stroke-width=".5"/><path stroke="#262626" stroke-width=".5" fill="none" d="M528.8 153.2h2.2M528.8 136.22h2.2M528.8 119.25h2.2M528.8 102.27h2.2M528.8 85.3h2.2M528.8 68.33h2.2M528.8 51.35h2.2M528.8 34.38h2.2M528.8 17.4h2.2"/><g font-size="11.6"><text x="533.1" y="157.2">−4</text><text x="533.1" y="140.22">−3</text><text x="533.1" y="123.25">−2</text><text x="533.1" y="106.27">−1</text><text x="533.1" y="89.3">0</text><text x="533.1" y="72.33">1</text><text x="533.1" y="55.35">2</text><text x="533.1" y="38.38">3</text><text x="533.1" y="21.4">4</text></g><rect x="38.7" y="180.6" width="189.3" height="135.8" fill="#fff"/><g transform="translate(0 163.2)"><g clip-path="url(#cp)"><use href="#cf"/><g transform="translate(0 -163)"><use href="#st"/></g></g></g><path stroke="#262626" stroke-width=".5" fill="none" d="M38.7 316.4v2.2M38.7 316.4h-2.2M86.03 316.4v2.2M38.7 282.45h-2.2M133.35 316.4v2.2M38.7 248.5h-2.2M180.68 316.4v2.2M38.7 214.55h-2.2M228 316.4v2.2M38.7 180.6h-2.2"/><rect x="38.7" y="180.6" width="189.3" height="135.8" fill="none" stroke="#2a2a2a" stroke-width=".5"/><g font-size="11.6"><text x="38.7" y="329.4" text-anchor="middle">0.0</text><text x="33.7" y="320" text-anchor="end">0.0</text><text x="86.03" y="329.4" text-anchor="middle">0.5</text><text x="33.7" y="286.05" text-anchor="end">0.5</text><text x="133.35" y="329.4" text-anchor="middle">1.0</text><text x="33.7" y="252.1" text-anchor="end">1.0</text><text x="180.68" y="329.4" text-anchor="middle">1.5</text><text x="33.7" y="218.15" text-anchor="end">1.5</text><text x="228" y="329.4" text-anchor="middle">2.0</text><text x="33.7" y="184.2" text-anchor="end">2.0</text></g><text x="133.35" y="343.7" text-anchor="middle" stroke-width=".25" font-size="11.8">X</text><text transform="translate(13.9 248.5) rotate(-90)" text-anchor="middle" stroke-width=".25" font-size="11.8">Y</text><rect x="239.2" y="299.42" width="6.9" height="17.02" fill="#998080"/><rect x="239.2" y="282.45" width="6.9" height="17.02" fill="#c48080"/><rect x="239.2" y="265.47" width="6.9" height="17.02" fill="#ee8080"/><rect x="239.2" y="248.5" width="6.9" height="17.02" fill="#ff9880"/><rect x="239.2" y="231.52" width="6.9" height="17.02" fill="#ffc280"/><rect x="239.2" y="214.55" width="6.9" height="17.02" fill="#ffec80"/><rect x="239.2" y="197.57" width="6.9" height="17.02" fill="#ffffa1"/><rect x="239.2" y="180.6" width="6.9" height="17.02" fill="#ffffe0"/><rect x="239.2" y="180.6" width="6.9" height="135.8" fill="none" stroke="#2a2a2a" stroke-width=".5"/><path stroke="#262626" stroke-width=".5" fill="none" d="M246.1 316.4h2.2M246.1 299.42h2.2M246.1 282.45h2.2M246.1 265.47h2.2M246.1 248.5h2.2M246.1 231.52h2.2M246.1 214.55h2.2M246.1 197.57h2.2M246.1 180.6h2.2"/><g font-size="11.6"><text x="250.4" y="320.4">−4</text><text x="250.4" y="303.42">−3</text><text x="250.4" y="286.45">−2</text><text x="250.4" y="269.47">−1</text><text x="250.4" y="252.5">0</text><text x="250.4" y="235.52">1</text><text x="250.4" y="218.55">2</text><text x="250.4" y="201.57">3</text><text x="250.4" y="184.6">4</text></g><rect x="321.4" y="180.6" width="189.3" height="135.8" fill="#fff"/><g transform="translate(282.7 163.2)"><g clip-path="url(#cp)"><use href="#cf"/><g transform="translate(0 -163)"><use href="#st"/></g></g></g><path stroke="#262626" stroke-width=".5" fill="none" d="M321.4 316.4v2.2M321.4 316.4h-2.2M368.72 316.4v2.2M321.4 282.45h-2.2M416.05 316.4v2.2M321.4 248.5h-2.2M463.38 316.4v2.2M321.4 214.55h-2.2M510.7 316.4v2.2M321.4 180.6h-2.2"/><rect x="321.4" y="180.6" width="189.3" height="135.8" fill="none" stroke="#2a2a2a" stroke-width=".5"/><g font-size="11.6"><text x="321.4" y="329.4" text-anchor="middle">0.0</text><text x="316.4" y="320" text-anchor="end">0.0</text><text x="368.72" y="329.4" text-anchor="middle">0.5</text><text x="316.4" y="286.05" text-anchor="end">0.5</text><text x="416.05" y="329.4" text-anchor="middle">1.0</text><text x="316.4" y="252.1" text-anchor="end">1.0</text><text x="463.38" y="329.4" text-anchor="middle">1.5</text><text x="316.4" y="218.15" text-anchor="end">1.5</text><text x="510.7" y="329.4" text-anchor="middle">2.0</text><text x="316.4" y="184.2" text-anchor="end">2.0</text></g><text x="416.05" y="343.7" text-anchor="middle" stroke-width=".25" font-size="11.8">X</text><text transform="translate(296.6 248.5) rotate(-90)" text-anchor="middle" stroke-width=".25" font-size="11.8">Y</text><rect x="521.9" y="299.42" width="6.9" height="17.02" fill="#998080"/><rect x="521.9" y="282.45" width="6.9" height="17.02" fill="#c48080"/><rect x="521.9" y="265.47" width="6.9" height="17.02" fill="#ee8080"/><rect x="521.9" y="248.5" width="6.9" height="17.02" fill="#ff9880"/><rect x="521.9" y="231.52" width="6.9" height="17.02" fill="#ffc280"/><rect x="521.9" y="214.55" width="6.9" height="17.02" fill="#ffec80"/><rect x="521.9" y="197.57" width="6.9" height="17.02" fill="#ffffa1"/><rect x="521.9" y="180.6" width="6.9" height="17.02" fill="#ffffe0"/><rect x="521.9" y="180.6" width="6.9" height="135.8" fill="none" stroke="#2a2a2a" stroke-width=".5"/><path stroke="#262626" stroke-width=".5" fill="none" d="M528.8 316.4h2.2M528.8 299.42h2.2M528.8 282.45h2.2M528.8 265.47h2.2M528.8 248.5h2.2M528.8 231.52h2.2M528.8 214.55h2.2M528.8 197.57h2.2M528.8 180.6h2.2"/><g font-size="11.6"><text x="533.1" y="320.4">−4</text><text x="533.1" y="303.42">−3</text><text x="533.1" y="286.45">−2</text><text x="533.1" y="269.47">−1</text><text x="533.1" y="252.5">0</text><text x="533.1" y="235.52">1</text><text x="533.1" y="218.55">2</text><text x="533.1" y="201.57">3</text><text x="533.1" y="184.6">4</text></g></svg></body></html>
